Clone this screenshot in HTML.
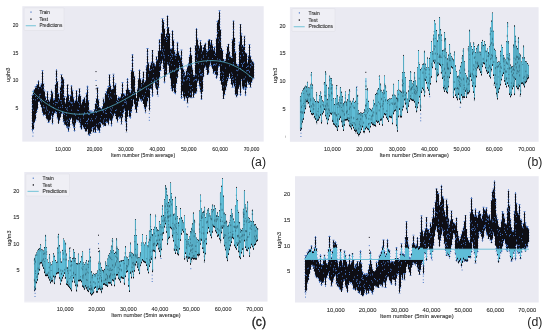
<!DOCTYPE html>
<html><head><meta charset="utf-8"><style>
html,body{margin:0;padding:0;background:#fff;width:550px;height:333px;overflow:hidden}
svg{display:block}
.tk{font-family:"Liberation Sans", sans-serif;font-size:5.1px;fill:#303030;stroke:#303030;stroke-width:0.1px}
.lg{font-family:"Liberation Sans", sans-serif;font-size:4.6px;fill:#303030;stroke:#303030;stroke-width:0.1px}
.pl{font-family:"Liberation Sans", sans-serif;font-size:12.3px;fill:#1e1e1e}
</style></head><body>
<svg width="550" height="333" viewBox="0 0 550 333">
<rect width="550" height="333" fill="#fff"/>
<rect x="22.3" y="6.2" width="241.4" height="135.4" fill="#eaeaf2"/>
<g fill="none"><path d="M32.0 95.1h1M32.0 131.1h1M32.0 130.1h1M32.0 122.3h1M32.0 101.2h1M32.0 108.2h1M32.0 108.3h1M32.0 104.6h1M33.0 91.3h1M33.0 129.1h1M33.0 97.1h1M33.0 102.5h1M33.0 99.5h1M33.0 94.5h1M33.0 124.1h1M33.0 93.4h1M33.0 105.9h1M33.0 110.3h1M34.0 89.7h1M34.0 122.7h1M34.0 94.3h1M34.0 99.1h1M35.0 86.8h1M35.0 119.3h1M35.0 92.3h1M35.0 94.0h1M35.0 114.6h1M35.0 95.0h1M35.0 99.9h1M35.0 96.6h1M35.0 91.5h1M36.0 85.0h1M36.0 112.6h1M36.0 112.2h1M36.0 102.1h1M36.0 111.9h1M36.0 87.3h1M36.0 100.7h1M37.0 84.5h1M37.0 109.3h1M37.0 98.6h1M37.0 101.7h1M37.0 95.8h1M38.0 80.9h1M38.0 101.1h1M38.0 88.7h1M38.0 87.7h1M38.0 87.1h1M39.0 87.3h1M39.0 94.8h1M39.0 96.7h1M39.0 96.8h1M40.0 86.2h1M40.0 104.4h1M40.0 94.3h1M40.0 100.4h1M41.0 84.1h1M41.0 107.7h1M41.0 99.6h1M41.0 87.8h1M41.0 87.3h1M41.0 99.3h1M41.0 101.8h1M42.0 70.9h1M42.0 112.5h1M42.0 100.4h1M42.0 106.4h1M42.0 79.6h1M42.0 97.6h1M42.0 94.7h1M42.0 74.5h1M42.0 111.4h1M43.0 115.7h1M43.0 91.8h1M43.0 105.8h1M43.0 107.7h1M43.0 96.6h1M43.0 89.8h1M43.0 86.9h1M44.0 114.4h1M44.0 107.8h1M44.0 105.1h1M45.0 97.1h1M45.0 115.5h1M45.0 100.9h1M45.0 111.1h1M45.0 100.3h1M45.0 100.8h1M46.0 107.1h1M46.0 113.7h1M46.0 108.9h1M46.0 109.9h1M47.0 92.1h1M47.0 119.1h1M47.0 92.4h1M47.0 105.5h1M47.0 110.7h1M47.0 101.5h1M47.0 109.4h1M47.0 110.3h1M47.0 104.0h1M48.0 100.6h1M48.0 122.4h1M48.0 104.7h1M48.0 114.1h1M48.0 106.8h1M48.0 107.0h1M49.0 101.9h1M49.0 121.3h1M49.0 112.6h1M49.0 104.1h1M49.0 103.8h1M49.0 111.9h1M50.0 98.3h1M50.0 117.4h1M50.0 119.4h1M51.0 90.1h1M51.0 115.3h1M51.0 93.9h1M51.0 115.1h1M51.0 94.8h1M51.0 95.9h1M52.0 92.5h1M52.0 123.8h1M52.0 100.7h1M52.0 113.4h1M52.0 98.4h1M52.0 117.7h1M52.0 104.7h1M52.0 112.1h1M52.0 112.6h1M53.0 100.2h1M53.0 116.2h1M53.0 103.7h1M53.0 104.6h1M53.0 107.7h1M54.0 98.9h1M54.0 112.5h1M54.0 107.1h1M55.0 84.9h1M55.0 112.6h1M55.0 105.8h1M55.0 92.9h1M55.0 88.8h1M55.0 104.8h1M55.0 111.5h1M55.0 101.7h1M55.0 102.3h1M56.0 69.7h1M56.0 113.2h1M56.0 87.2h1M56.0 77.4h1M56.0 92.1h1M56.0 81.6h1M56.0 102.5h1M56.0 82.3h1M57.0 82.1h1M57.0 117.9h1M57.0 86.8h1M57.0 102.8h1M57.0 114.7h1M57.0 105.2h1M57.0 93.6h1M57.0 106.0h1M57.0 100.5h1M58.0 93.7h1M58.0 107.7h1M58.0 115.7h1M58.0 97.5h1M58.0 95.9h1M58.0 100.9h1M58.0 103.8h1M59.0 98.4h1M59.0 120.6h1M59.0 117.5h1M59.0 112.6h1M60.0 87.3h1M60.0 90.5h1M60.0 89.2h1M60.0 107.3h1M60.0 100.6h1M60.0 107.9h1M60.0 115.3h1M61.0 85.1h1M61.0 103.3h1M61.0 80.0h1M61.0 94.1h1M61.0 83.9h1M61.0 100.7h1M61.0 92.7h1M61.0 80.9h1M61.0 103.1h1M61.0 109.2h1M62.0 112.1h1M62.0 86.2h1M62.0 107.2h1M62.0 105.5h1M62.0 92.4h1M62.0 103.5h1M62.0 84.1h1M63.0 79.2h1M63.0 121.9h1M63.0 85.4h1M63.0 96.2h1M63.0 89.2h1M63.0 99.5h1M63.0 113.2h1M63.0 119.8h1M63.0 94.4h1M63.0 97.7h1M64.0 124.7h1M64.0 114.4h1M64.0 121.8h1M64.0 99.3h1M64.0 100.9h1M64.0 101.2h1M65.0 107.5h1M65.0 108.6h1M65.0 122.5h1M65.0 123.2h1M66.0 97.9h1M66.0 127.0h1M66.0 114.2h1M66.0 113.0h1M66.0 121.2h1M66.0 115.7h1M66.0 109.2h1M67.0 85.4h1M67.0 128.1h1M67.0 107.8h1M67.0 118.4h1M67.0 110.2h1M67.0 126.1h1M67.0 120.2h1M67.0 124.8h1M67.0 108.3h1M67.0 97.5h1M67.0 110.2h1M67.0 126.2h1M67.0 123.3h1M67.0 120.3h1M68.0 95.1h1M68.0 131.3h1M68.0 102.4h1M68.0 97.2h1M68.0 121.6h1M68.0 101.4h1M68.0 127.2h1M68.0 130.5h1M68.0 127.4h1M68.0 129.3h1M69.0 100.7h1M69.0 102.0h1M69.0 106.3h1M69.0 118.9h1M69.0 119.2h1M70.0 119.6h1M70.0 103.6h1M70.0 102.2h1M70.0 97.9h1M70.0 109.8h1M71.0 85.6h1M71.0 117.6h1M71.0 95.1h1M71.0 102.4h1M71.0 95.4h1M71.0 103.1h1M71.0 110.2h1M72.0 90.3h1M72.0 94.6h1M72.0 111.7h1M72.0 110.7h1M72.0 105.3h1M72.0 121.1h1M72.0 122.1h1M72.0 102.8h1M73.0 98.7h1M73.0 127.7h1M73.0 110.6h1M73.0 104.4h1M73.0 121.2h1M73.0 124.3h1M73.0 125.9h1M74.0 101.9h1M74.0 130.9h1M74.0 107.7h1M74.0 113.9h1M74.0 127.5h1M74.0 108.1h1M75.0 100.6h1M75.0 123.8h1M75.0 115.4h1M75.0 121.5h1M75.0 106.8h1M75.0 108.8h1M75.0 115.3h1M76.0 90.7h1M76.0 119.8h1M76.0 92.9h1M76.0 107.8h1M77.0 120.9h1M77.0 101.1h1M77.0 102.3h1M77.0 118.2h1M77.0 110.2h1M78.0 96.8h1M78.0 110.0h1M78.0 102.6h1M78.0 117.9h1M78.0 110.5h1M78.0 116.7h1M79.0 116.9h1M79.0 106.7h1M79.0 104.1h1M79.0 93.6h1M79.0 106.7h1M79.0 114.1h1M80.0 96.4h1M80.0 127.3h1M80.0 125.3h1M80.0 103.2h1M80.0 96.7h1M80.0 121.2h1M80.0 113.6h1M80.0 125.3h1M80.0 124.0h1M80.0 119.2h1M81.0 129.0h1M81.0 118.5h1M81.0 125.7h1M82.0 100.8h1M82.0 125.0h1M82.0 124.6h1M82.0 109.5h1M83.0 99.5h1M83.0 126.7h1M83.0 108.3h1M83.0 115.8h1M83.0 114.5h1M83.0 100.8h1M83.0 118.3h1M83.0 115.7h1M84.0 111.0h1M84.0 113.7h1M84.0 106.8h1M84.0 108.0h1M84.0 112.8h1M85.0 101.7h1M85.0 131.3h1M85.0 123.5h1M85.0 120.0h1M85.0 127.4h1M85.0 103.3h1M85.0 124.6h1M85.0 128.9h1M86.0 93.7h1M86.0 121.0h1M86.0 121.5h1M86.0 121.5h1M86.0 129.7h1M86.0 96.0h1M86.0 98.0h1M86.0 94.7h1M87.0 86.8h1M87.0 121.0h1M87.0 88.1h1M87.0 112.8h1M87.0 112.4h1M87.0 123.5h1M87.0 123.7h1M87.0 90.0h1M87.0 120.9h1M88.0 100.5h1M88.0 110.6h1M88.0 133.8h1M88.0 109.1h1M88.0 118.8h1M88.0 119.5h1M88.0 106.2h1M88.0 114.4h1M88.0 101.8h1M89.0 135.1h1M89.0 133.9h1M89.0 114.6h1M89.0 134.8h1M90.0 111.9h1M90.0 122.0h1M90.0 130.4h1M90.0 122.7h1M90.0 126.7h1M90.0 120.7h1M91.0 112.3h1M91.0 129.0h1M91.0 117.1h1M91.0 118.8h1M91.0 112.5h1M92.0 112.2h1M92.0 128.0h1M92.0 120.6h1M92.0 120.8h1M93.0 114.8h1M93.0 112.2h1M93.0 127.7h1M93.0 114.2h1M93.0 114.5h1M94.0 110.2h1M94.0 129.9h1M94.0 117.0h1M94.0 126.8h1M94.0 122.5h1M94.0 128.1h1M95.0 103.9h1M95.0 132.5h1M95.0 111.3h1M95.0 112.9h1M95.0 107.3h1M95.0 118.7h1M96.0 99.2h1M96.0 124.3h1M96.0 116.9h1M96.0 103.7h1M96.0 119.1h1M96.0 112.5h1M96.0 109.3h1M96.0 123.9h1M97.0 88.3h1M97.0 129.9h1M97.0 128.7h1M97.0 111.7h1M97.0 111.8h1M97.0 92.7h1M97.0 112.9h1M97.0 102.7h1M97.0 90.6h1M97.0 105.4h1M97.0 119.5h1M97.0 93.8h1M98.0 100.5h1M98.0 123.9h1M98.0 103.4h1M98.0 114.2h1M98.0 107.3h1M99.0 107.9h1M99.0 132.1h1M99.0 110.6h1M99.0 111.8h1M99.0 109.6h1M99.0 126.9h1M99.0 131.2h1M99.0 122.6h1M100.0 127.3h1M100.0 123.7h1M100.0 122.1h1M100.0 125.0h1M100.0 118.8h1M100.0 122.5h1M101.0 109.3h1M101.0 112.6h1M101.0 115.5h1M101.0 114.3h1M102.0 107.7h1M102.0 114.6h1M102.0 109.0h1M102.0 110.4h1M103.0 125.9h1M103.0 120.2h1M103.0 106.1h1M103.0 122.0h1M103.0 103.0h1M103.0 111.0h1M103.0 112.2h1M104.0 101.8h1M104.0 125.2h1M104.0 118.7h1M104.0 102.9h1M105.0 93.9h1M105.0 110.5h1M105.0 117.9h1M105.0 113.5h1M105.0 108.0h1M105.0 102.4h1M105.0 113.2h1M105.0 112.8h1M105.0 122.6h1M106.0 91.7h1M106.0 122.0h1M106.0 118.7h1M106.0 94.3h1M106.0 109.9h1M106.0 113.5h1M106.0 93.7h1M106.0 93.5h1M106.0 108.8h1M106.0 93.1h1M107.0 88.7h1M107.0 122.4h1M107.0 89.6h1M107.0 99.1h1M107.0 107.3h1M107.0 97.1h1M107.0 100.3h1M107.0 105.6h1M108.0 86.4h1M108.0 99.0h1M108.0 94.7h1M108.0 104.4h1M108.0 110.2h1M108.0 118.3h1M108.0 96.4h1M108.0 89.1h1M108.0 123.0h1M108.0 96.9h1M109.0 119.3h1M109.0 86.5h1M109.0 95.2h1M109.0 113.4h1M109.0 119.2h1M109.0 84.4h1M109.0 99.1h1M110.0 85.0h1M110.0 120.2h1M110.0 119.1h1M110.0 108.9h1M110.0 92.6h1M110.0 92.4h1M110.0 97.2h1M110.0 112.5h1M110.0 92.6h1M110.0 112.3h1M110.0 116.9h1M111.0 89.3h1M111.0 125.8h1M111.0 124.4h1M111.0 113.3h1M111.0 105.1h1M111.0 98.2h1M111.0 110.1h1M111.0 123.1h1M111.0 121.8h1M112.0 119.2h1M112.0 114.9h1M112.0 107.8h1M112.0 103.9h1M112.0 111.3h1M112.0 118.3h1M112.0 118.5h1M113.0 88.1h1M113.0 96.4h1M113.0 103.3h1M113.0 90.2h1M113.0 76.3h1M113.0 76.3h1M113.0 112.4h1M113.0 84.3h1M113.0 90.0h1M113.0 88.2h1M113.0 76.4h1M114.0 86.6h1M114.0 94.0h1M114.0 102.6h1M114.0 97.0h1M114.0 104.9h1M114.0 100.4h1M114.0 103.5h1M115.0 84.1h1M115.0 109.8h1M115.0 114.3h1M115.0 97.9h1M115.0 110.5h1M115.0 110.6h1M115.0 108.2h1M115.0 105.5h1M115.0 114.9h1M116.0 101.6h1M116.0 113.8h1M116.0 114.3h1M116.0 100.6h1M116.0 109.9h1M117.0 99.9h1M117.0 121.7h1M117.0 102.5h1M118.0 97.0h1M118.0 105.6h1M118.0 100.6h1M118.0 114.2h1M118.0 101.1h1M119.0 98.5h1M119.0 118.3h1M119.0 116.9h1M119.0 110.0h1M119.0 115.6h1M120.0 97.8h1M120.0 99.7h1M120.0 111.6h1M120.0 106.8h1M120.0 109.7h1M120.0 111.7h1M121.0 116.4h1M121.0 119.2h1M121.0 120.4h1M121.0 122.1h1M122.0 83.1h1M122.0 85.8h1M122.0 94.7h1M122.0 86.6h1M122.0 105.7h1M122.0 108.9h1M122.0 97.7h1M122.0 87.5h1M122.0 111.7h1M122.0 113.7h1M122.0 98.9h1M123.0 93.6h1M123.0 112.7h1M123.0 98.0h1M123.0 110.1h1M123.0 96.5h1M123.0 105.2h1M123.0 96.5h1M124.0 94.4h1M124.0 108.9h1M124.0 102.2h1M124.0 102.7h1M124.0 98.7h1M124.0 94.8h1M125.0 95.1h1M125.0 121.8h1M125.0 119.0h1M125.0 100.1h1M125.0 111.5h1M125.0 102.2h1M125.0 102.4h1M126.0 128.0h1M126.0 127.8h1M126.0 103.8h1M126.0 122.6h1M126.0 110.1h1M126.0 102.0h1M127.0 78.5h1M127.0 109.6h1M127.0 80.5h1M127.0 94.8h1M127.0 85.1h1M127.0 97.3h1M127.0 89.5h1M127.0 108.1h1M127.0 83.1h1M127.0 102.2h1M128.0 89.1h1M128.0 110.2h1M128.0 108.6h1M128.0 101.9h1M129.0 116.9h1M129.0 107.6h1M129.0 91.7h1M129.0 99.3h1M129.0 103.0h1M130.0 92.3h1M130.0 117.9h1M130.0 96.8h1M130.0 105.5h1M130.0 100.1h1M130.0 110.8h1M130.0 103.7h1M130.0 117.0h1M130.0 112.3h1M131.0 111.8h1M131.0 85.0h1M131.0 93.8h1M131.0 109.6h1M131.0 99.6h1M131.0 91.5h1M131.0 97.7h1M131.0 89.3h1M131.0 89.9h1M132.0 55.0h1M132.0 106.5h1M132.0 62.2h1M132.0 94.3h1M132.0 67.5h1M132.0 54.6h1M132.0 91.8h1M132.0 61.7h1M132.0 98.9h1M132.0 70.0h1M132.0 58.6h1M133.0 71.4h1M133.0 99.6h1M133.0 78.7h1M133.0 74.9h1M133.0 92.3h1M133.0 87.6h1M134.0 90.1h1M134.0 94.3h1M134.0 79.8h1M134.0 86.3h1M135.0 92.2h1M135.0 109.3h1M135.0 94.2h1M135.0 95.0h1M136.0 109.5h1M136.0 101.6h1M137.0 88.8h1M137.0 106.3h1M137.0 97.0h1M137.0 95.7h1M137.0 101.6h1M138.0 97.0h1M138.0 85.5h1M138.0 93.1h1M139.0 70.1h1M139.0 82.0h1M139.0 74.3h1M139.0 76.0h1M139.0 89.1h1M140.0 79.7h1M140.0 99.7h1M140.0 84.4h1M140.0 89.1h1M140.0 82.3h1M141.0 101.4h1M141.0 90.5h1M141.0 99.4h1M141.0 84.8h1M141.0 86.1h1M142.0 79.3h1M142.0 100.1h1M142.0 95.4h1M142.0 89.5h1M142.0 93.5h1M143.0 83.8h1M143.0 90.9h1M143.0 97.7h1M143.0 78.5h1M143.0 98.6h1M143.0 72.6h1M143.0 75.1h1M144.0 108.1h1M144.0 101.8h1M144.0 89.8h1M144.0 99.8h1M144.0 96.2h1M144.0 98.6h1M144.0 103.5h1M145.0 80.7h1M145.0 112.8h1M145.0 85.3h1M145.0 109.6h1M145.0 92.6h1M145.0 108.4h1M146.0 65.7h1M146.0 89.6h1M146.0 102.9h1M146.0 88.2h1M146.0 67.9h1M146.0 77.0h1M146.0 71.2h1M146.0 101.5h1M146.0 82.5h1M147.0 49.3h1M147.0 101.8h1M147.0 52.9h1M147.0 50.8h1M147.0 58.6h1M147.0 64.8h1M147.0 57.9h1M147.0 55.2h1M147.0 97.8h1M147.0 97.5h1M147.0 99.6h1M147.0 64.2h1M148.0 97.4h1M148.0 78.8h1M148.0 72.3h1M148.0 77.7h1M148.0 76.1h1M148.0 88.7h1M148.0 74.6h1M148.0 64.7h1M149.0 69.6h1M149.0 89.7h1M149.0 91.9h1M149.0 82.3h1M149.0 103.6h1M149.0 82.2h1M149.0 94.5h1M150.0 65.1h1M150.0 70.3h1M150.0 72.1h1M150.0 66.3h1M151.0 62.4h1M151.0 88.9h1M151.0 86.2h1M151.0 76.0h1M151.0 69.6h1M151.0 81.4h1M152.0 96.5h1M152.0 94.0h1M152.0 72.1h1M152.0 53.2h1M152.0 95.7h1M152.0 91.1h1M152.0 63.8h1M152.0 78.8h1M152.0 65.9h1M153.0 63.0h1M153.0 73.4h1M153.0 68.9h1M153.0 78.2h1M154.0 82.1h1M154.0 80.0h1M154.0 66.3h1M154.0 65.0h1M155.0 66.1h1M155.0 87.4h1M155.0 85.1h1M155.0 69.2h1M155.0 80.0h1M155.0 75.4h1M155.0 67.4h1M155.0 76.9h1M156.0 89.0h1M156.0 60.3h1M156.0 78.4h1M156.0 60.9h1M156.0 78.1h1M156.0 81.9h1M156.0 71.2h1M157.0 59.8h1M157.0 94.3h1M157.0 85.8h1M157.0 88.6h1M157.0 90.7h1M157.0 82.7h1M158.0 56.6h1M158.0 87.0h1M158.0 71.0h1M158.0 76.4h1M158.0 51.3h1M159.0 39.5h1M159.0 77.3h1M159.0 65.8h1M159.0 43.4h1M159.0 73.1h1M159.0 52.1h1M159.0 71.5h1M159.0 46.3h1M159.0 43.4h1M159.0 44.0h1M159.0 60.7h1M159.0 71.5h1M159.0 63.6h1M160.0 50.5h1M160.0 70.1h1M160.0 61.9h1M160.0 65.0h1M160.0 67.4h1M161.0 33.5h1M161.0 55.0h1M161.0 62.9h1M161.0 47.8h1M161.0 45.6h1M161.0 55.3h1M162.0 60.1h1M162.0 39.4h1M162.0 33.1h1M162.0 23.0h1M162.0 51.1h1M162.0 55.0h1M162.0 23.9h1M162.0 42.0h1M162.0 46.7h1M162.0 49.6h1M162.0 51.4h1M163.0 21.0h1M163.0 46.8h1M163.0 29.2h1M163.0 52.9h1M163.0 67.9h1M163.0 48.3h1M163.0 64.4h1M163.0 57.0h1M163.0 55.2h1M163.0 65.0h1M164.0 29.5h1M164.0 82.7h1M164.0 69.0h1M164.0 62.0h1M164.0 55.9h1M164.0 46.9h1M164.0 50.0h1M164.0 57.8h1M164.0 54.6h1M164.0 72.0h1M164.0 38.4h1M164.0 71.5h1M164.0 54.3h1M164.0 63.2h1M165.0 37.0h1M165.0 76.3h1M165.0 52.8h1M165.0 37.7h1M165.0 48.7h1M165.0 71.4h1M165.0 49.5h1M166.0 66.1h1M166.0 50.4h1M166.0 39.3h1M166.0 46.1h1M166.0 41.5h1M166.0 37.5h1M166.0 66.8h1M166.0 55.6h1M166.0 38.7h1M167.0 15.8h1M167.0 50.2h1M167.0 62.8h1M167.0 24.4h1M167.0 60.1h1M167.0 38.7h1M167.0 29.6h1M167.0 27.1h1M167.0 23.4h1M167.0 34.1h1M167.0 28.1h1M167.0 35.2h1M167.0 24.1h1M167.0 27.8h1M168.0 65.2h1M168.0 35.9h1M168.0 35.7h1M168.0 35.5h1M168.0 47.4h1M168.0 40.6h1M168.0 63.7h1M168.0 55.5h1M169.0 57.8h1M169.0 71.5h1M169.0 72.3h1M169.0 49.8h1M169.0 63.1h1M170.0 49.1h1M170.0 78.8h1M170.0 70.9h1M170.0 51.2h1M170.0 52.0h1M170.0 60.0h1M170.0 56.6h1M171.0 49.0h1M171.0 88.7h1M171.0 81.9h1M171.0 65.8h1M171.0 64.8h1M171.0 54.0h1M171.0 87.0h1M171.0 58.4h1M171.0 66.9h1M172.0 30.6h1M172.0 54.6h1M172.0 77.1h1M172.0 46.5h1M172.0 45.9h1M172.0 79.3h1M172.0 47.7h1M172.0 87.7h1M172.0 78.8h1M172.0 56.1h1M172.0 70.4h1M172.0 60.5h1M173.0 40.7h1M173.0 89.1h1M173.0 64.6h1M173.0 84.6h1M173.0 45.6h1M173.0 41.7h1M173.0 40.9h1M173.0 78.0h1M173.0 62.4h1M174.0 92.8h1M174.0 91.5h1M174.0 65.6h1M174.0 54.8h1M174.0 70.7h1M174.0 71.6h1M174.0 89.0h1M175.0 54.9h1M175.0 93.7h1M175.0 67.3h1M175.0 88.9h1M175.0 58.2h1M175.0 75.4h1M176.0 68.3h1M176.0 77.3h1M176.0 67.4h1M176.0 81.0h1M176.0 71.8h1M176.0 69.2h1M176.0 55.6h1M177.0 42.3h1M177.0 77.6h1M177.0 59.8h1M177.0 61.9h1M177.0 73.1h1M177.0 51.5h1M177.0 46.9h1M178.0 51.9h1M178.0 61.5h1M178.0 61.2h1M178.0 67.8h1M179.0 55.5h1M179.0 66.4h1M179.0 60.6h1M179.0 63.5h1M179.0 61.1h1M180.0 57.4h1M180.0 64.9h1M181.0 51.1h1M181.0 98.5h1M181.0 77.2h1M181.0 56.2h1M181.0 82.9h1M181.0 83.2h1M181.0 80.2h1M181.0 95.5h1M181.0 76.4h1M181.0 60.7h1M181.0 73.5h1M182.0 63.8h1M182.0 90.8h1M182.0 67.8h1M182.0 74.6h1M182.0 84.1h1M182.0 79.2h1M182.0 81.0h1M183.0 69.2h1M183.0 80.9h1M183.0 76.9h1M183.0 79.3h1M183.0 72.8h1M183.0 82.0h1M183.0 80.6h1M184.0 71.9h1M184.0 100.1h1M184.0 80.8h1M184.0 74.9h1M184.0 86.0h1M184.0 76.3h1M184.0 92.1h1M184.0 93.3h1M184.0 91.9h1M185.0 75.7h1M185.0 82.4h1M185.0 92.6h1M186.0 79.9h1M186.0 76.8h1M186.0 79.3h1M186.0 81.4h1M186.0 92.0h1M187.0 67.6h1M187.0 74.7h1M187.0 72.9h1M187.0 96.5h1M187.0 89.6h1M187.0 79.0h1M187.0 96.6h1M187.0 77.7h1M188.0 63.3h1M188.0 72.5h1M188.0 92.0h1M188.0 73.4h1M188.0 79.4h1M188.0 77.5h1M188.0 71.7h1M188.0 65.0h1M189.0 55.6h1M189.0 85.4h1M189.0 60.4h1M189.0 65.9h1M189.0 83.9h1M189.0 68.9h1M189.0 74.6h1M189.0 65.1h1M189.0 80.2h1M189.0 78.6h1M190.0 47.9h1M190.0 97.5h1M190.0 65.7h1M190.0 86.3h1M190.0 85.9h1M190.0 93.4h1M190.0 61.5h1M190.0 89.9h1M190.0 52.6h1M190.0 73.0h1M190.0 94.4h1M191.0 55.8h1M191.0 73.0h1M191.0 85.5h1M191.0 86.9h1M191.0 94.9h1M191.0 73.1h1M191.0 93.7h1M191.0 64.1h1M191.0 66.9h1M192.0 68.4h1M192.0 91.1h1M192.0 91.3h1M192.0 87.5h1M192.0 84.7h1M192.0 85.1h1M192.0 88.4h1M192.0 70.7h1M193.0 82.5h1M193.0 76.3h1M193.0 81.1h1M193.0 95.1h1M194.0 76.2h1M194.0 94.2h1M194.0 81.4h1M194.0 80.2h1M195.0 64.4h1M195.0 55.5h1M195.0 90.9h1M195.0 74.1h1M195.0 52.0h1M195.0 81.2h1M195.0 79.6h1M195.0 78.0h1M195.0 51.4h1M196.0 28.7h1M196.0 92.7h1M196.0 60.6h1M196.0 37.8h1M196.0 81.0h1M196.0 47.1h1M196.0 74.9h1M196.0 60.4h1M196.0 87.6h1M196.0 47.1h1M196.0 90.5h1M196.0 79.3h1M196.0 30.0h1M196.0 80.2h1M196.0 60.7h1M196.0 42.6h1M196.0 88.2h1M197.0 39.9h1M197.0 82.1h1M197.0 70.9h1M197.0 56.8h1M197.0 71.6h1M197.0 40.3h1M197.0 41.2h1M197.0 55.0h1M198.0 80.0h1M198.0 76.1h1M198.0 63.6h1M198.0 62.9h1M198.0 54.9h1M198.0 50.0h1M198.0 65.6h1M199.0 47.8h1M199.0 87.0h1M199.0 72.4h1M199.0 85.9h1M199.0 69.3h1M199.0 71.3h1M199.0 72.3h1M199.0 85.1h1M200.0 40.9h1M200.0 75.0h1M200.0 82.4h1M200.0 70.9h1M200.0 79.4h1M200.0 91.0h1M200.0 87.2h1M200.0 64.7h1M200.0 74.6h1M200.0 90.9h1M201.0 99.5h1M201.0 59.1h1M201.0 61.8h1M201.0 94.5h1M201.0 64.0h1M201.0 96.9h1M201.0 60.4h1M201.0 53.1h1M201.0 75.1h1M201.0 71.9h1M201.0 74.4h1M201.0 68.6h1M201.0 73.6h1M202.0 51.7h1M202.0 75.2h1M202.0 73.5h1M202.0 80.8h1M202.0 83.2h1M202.0 77.5h1M202.0 58.7h1M202.0 89.7h1M202.0 74.9h1M202.0 51.9h1M203.0 47.7h1M203.0 76.9h1M203.0 50.6h1M203.0 55.4h1M203.0 57.3h1M203.0 48.9h1M203.0 55.9h1M203.0 49.6h1M203.0 64.0h1M204.0 64.3h1M204.0 59.9h1M204.0 49.0h1M204.0 47.0h1M204.0 63.5h1M204.0 48.7h1M205.0 43.3h1M205.0 66.1h1M205.0 66.0h1M205.0 44.7h1M205.0 52.0h1M205.0 47.1h1M206.0 50.6h1M206.0 68.2h1M206.0 52.4h1M206.0 68.5h1M206.0 67.2h1M206.0 55.1h1M206.0 61.7h1M207.0 51.6h1M207.0 71.2h1M207.0 51.3h1M207.0 73.0h1M207.0 60.3h1M208.0 40.3h1M208.0 73.6h1M208.0 42.6h1M208.0 43.9h1M208.0 66.2h1M208.0 48.1h1M208.0 57.9h1M208.0 69.1h1M208.0 50.2h1M209.0 39.6h1M209.0 65.3h1M209.0 46.4h1M209.0 49.4h1M209.0 48.4h1M210.0 44.1h1M210.0 63.1h1M210.0 61.0h1M210.0 48.7h1M210.0 62.1h1M210.0 61.1h1M211.0 66.1h1M211.0 45.0h1M211.0 48.9h1M211.0 49.6h1M211.0 43.7h1M211.0 51.0h1M212.0 67.1h1M212.0 48.6h1M212.0 58.5h1M212.0 56.0h1M213.0 50.1h1M213.0 73.0h1M213.0 64.8h1M213.0 65.3h1M213.0 63.3h1M214.0 47.1h1M214.0 71.7h1M214.0 50.1h1M214.0 52.4h1M214.0 64.4h1M214.0 49.4h1M214.0 64.4h1M214.0 54.5h1M215.0 53.0h1M215.0 71.6h1M215.0 72.5h1M215.0 56.6h1M215.0 65.1h1M215.0 55.5h1M216.0 38.5h1M216.0 78.4h1M216.0 60.6h1M216.0 75.3h1M216.0 75.4h1M216.0 71.5h1M216.0 55.1h1M216.0 38.7h1M216.0 63.9h1M216.0 58.8h1M217.0 21.5h1M217.0 75.9h1M217.0 33.4h1M217.0 54.3h1M217.0 56.9h1M217.0 71.4h1M217.0 23.2h1M217.0 32.8h1M217.0 59.2h1M217.0 58.9h1M217.0 68.2h1M218.0 20.3h1M218.0 67.0h1M218.0 50.9h1M218.0 49.1h1M218.0 37.9h1M218.0 50.6h1M218.0 35.6h1M218.0 30.5h1M218.0 60.0h1M218.0 60.8h1M218.0 28.5h1M218.0 66.3h1M218.0 42.2h1M219.0 11.7h1M219.0 48.5h1M219.0 64.7h1M219.0 29.9h1M219.0 50.3h1M219.0 40.0h1M219.0 44.7h1M219.0 59.8h1M219.0 61.9h1M219.0 17.9h1M219.0 25.0h1M219.0 46.6h1M220.0 80.2h1M220.0 49.4h1M220.0 72.4h1M220.0 41.3h1M220.0 37.0h1M220.0 32.7h1M220.0 61.4h1M220.0 75.4h1M220.0 52.3h1M220.0 32.6h1M220.0 60.3h1M221.0 65.1h1M221.0 75.3h1M221.0 68.5h1M221.0 81.5h1M221.0 67.0h1M222.0 50.6h1M222.0 71.9h1M222.0 52.4h1M222.0 81.7h1M222.0 88.1h1M222.0 72.2h1M222.0 81.4h1M222.0 79.3h1M222.0 70.6h1M222.0 83.0h1M223.0 77.9h1M223.0 98.1h1M223.0 61.3h1M223.0 80.8h1M223.0 75.6h1M223.0 68.9h1M223.0 72.8h1M223.0 86.9h1M223.0 80.1h1M224.0 61.4h1M224.0 66.4h1M224.0 71.9h1M224.0 81.8h1M224.0 90.5h1M224.0 81.2h1M224.0 66.7h1M224.0 94.6h1M224.0 65.4h1M225.0 59.5h1M225.0 90.2h1M225.0 75.8h1M225.0 83.0h1M225.0 86.0h1M225.0 68.1h1M226.0 54.4h1M226.0 56.1h1M226.0 75.3h1M226.0 79.3h1M226.0 82.7h1M226.0 85.9h1M226.0 79.1h1M226.0 56.4h1M227.0 82.1h1M227.0 54.5h1M227.0 58.3h1M227.0 77.5h1M227.0 70.6h1M228.0 78.6h1M228.0 59.2h1M228.0 74.9h1M228.0 53.8h1M228.0 66.8h1M228.0 59.3h1M228.0 71.8h1M228.0 66.8h1M228.0 52.2h1M229.0 66.4h1M229.0 55.1h1M229.0 56.2h1M229.0 65.8h1M230.0 57.4h1M230.0 73.1h1M231.0 76.1h1M231.0 69.4h1M231.0 73.0h1M231.0 77.3h1M232.0 39.6h1M232.0 86.4h1M232.0 86.1h1M232.0 41.2h1M232.0 76.6h1M232.0 86.1h1M232.0 80.6h1M232.0 79.6h1M232.0 57.8h1M232.0 80.6h1M232.0 57.6h1M232.0 54.4h1M232.0 74.3h1M232.0 57.2h1M232.0 81.9h1M233.0 21.0h1M233.0 83.6h1M233.0 61.0h1M233.0 64.4h1M233.0 45.2h1M233.0 38.3h1M233.0 30.0h1M233.0 79.1h1M233.0 33.6h1M233.0 29.7h1M233.0 72.8h1M233.0 69.0h1M233.0 62.7h1M234.0 86.7h1M234.0 52.5h1M234.0 48.6h1M234.0 55.0h1M234.0 48.4h1M234.0 46.3h1M234.0 61.9h1M234.0 39.3h1M234.0 52.9h1M234.0 42.5h1M234.0 85.6h1M235.0 52.4h1M235.0 94.7h1M235.0 85.7h1M235.0 58.2h1M235.0 81.2h1M235.0 83.7h1M235.0 78.1h1M235.0 64.0h1M235.0 60.2h1M235.0 83.3h1M236.0 96.3h1M236.0 83.3h1M236.0 70.3h1M236.0 67.6h1M236.0 84.1h1M236.0 94.4h1M236.0 92.9h1M237.0 95.6h1M237.0 76.8h1M237.0 70.7h1M237.0 75.0h1M237.0 89.1h1M237.0 67.3h1M237.0 80.3h1M238.0 65.5h1M238.0 66.0h1M238.0 69.8h1M239.0 44.2h1M239.0 68.4h1M239.0 64.1h1M239.0 51.4h1M239.0 46.4h1M239.0 72.9h1M239.0 70.7h1M239.0 81.3h1M239.0 85.4h1M239.0 76.1h1M239.0 78.2h1M240.0 95.4h1M240.0 84.4h1M240.0 55.5h1M240.0 27.8h1M240.0 67.7h1M240.0 58.7h1M240.0 93.6h1M240.0 31.6h1M240.0 63.3h1M240.0 41.8h1M240.0 50.2h1M240.0 56.2h1M240.0 68.6h1M240.0 72.8h1M241.0 35.4h1M241.0 80.5h1M241.0 45.9h1M241.0 35.3h1M241.0 56.8h1M241.0 63.8h1M241.0 51.3h1M241.0 63.5h1M242.0 87.6h1M242.0 84.4h1M242.0 49.2h1M242.0 52.7h1M242.0 48.7h1M242.0 65.6h1M242.0 70.7h1M242.0 65.0h1M242.0 66.5h1M243.0 89.5h1M243.0 55.4h1M243.0 48.7h1M243.0 85.2h1M243.0 56.4h1M243.0 59.0h1M243.0 75.0h1M243.0 79.2h1M243.0 79.7h1M243.0 63.4h1M243.0 63.3h1M243.0 55.1h1M243.0 56.6h1M244.0 87.2h1M244.0 81.8h1M244.0 50.3h1M244.0 62.3h1M244.0 63.5h1M244.0 53.7h1M244.0 44.3h1M244.0 46.5h1M244.0 54.8h1M244.0 38.6h1M244.0 60.9h1M244.0 74.0h1M244.0 79.0h1M244.0 50.5h1M245.0 95.6h1M245.0 57.5h1M245.0 90.6h1M245.0 77.0h1M245.0 64.4h1M245.0 83.8h1M245.0 87.7h1M245.0 69.4h1M245.0 88.8h1M245.0 58.6h1M245.0 94.1h1M246.0 88.0h1M246.0 64.2h1M246.0 62.8h1M246.0 67.5h1M246.0 81.9h1M246.0 73.6h1M246.0 67.6h1M246.0 70.9h1M246.0 55.7h1M247.0 63.0h1M247.0 79.9h1M247.0 66.4h1M247.0 76.7h1M247.0 70.6h1M247.0 71.9h1M247.0 81.3h1M248.0 55.7h1M248.0 84.2h1M248.0 70.3h1M248.0 66.0h1M248.0 80.1h1M248.0 58.8h1M248.0 60.3h1M248.0 57.0h1M248.0 60.1h1M248.0 77.6h1M249.0 44.5h1M249.0 75.2h1M249.0 71.7h1M249.0 76.3h1M249.0 72.6h1M249.0 72.2h1M249.0 82.6h1M250.0 56.2h1M250.0 65.7h1M250.0 63.7h1M250.0 67.0h1M250.0 63.6h1M250.0 66.8h1M250.0 85.9h1M250.0 76.4h1M250.0 80.5h1M251.0 82.4h1M251.0 62.8h1M251.0 61.7h1M251.0 63.0h1M251.0 69.0h1M251.0 64.2h1M251.0 64.9h1M252.0 65.2h1M252.0 65.3h1M252.0 79.5h1M253.0 62.7h1M253.0 65.6h1" stroke="#4a78c8" stroke-width="1"/>
<path d="M32.5 95.3V131.3M33.5 90.8V129.9M34.5 89.5V123.0M35.5 86.4V120.2M36.5 85.9V113.8M37.5 84.6V109.6M38.5 81.5V102.4M39.5 87.2V102.1M40.5 85.4V105.1M41.5 83.6V107.8M42.5 70.3V112.4M43.5 83.5V115.4M44.5 90.6V115.5M45.5 96.6V115.3M46.5 100.4V119.5M47.5 91.5V120.2M48.5 99.5V123.1M49.5 102.0V121.4M50.5 97.8V120.3M51.5 91.3V116.4M52.5 92.6V123.9M53.5 98.6V115.8M54.5 98.9V113.6M55.5 85.0V112.9M56.5 70.8V112.8M57.5 81.0V118.9M58.5 93.8V124.6M59.5 99.6V120.6M60.5 87.4V118.2M61.5 74.2V114.3M62.5 77.7V113.1M63.5 79.5V122.1M64.5 96.1V124.6M65.5 103.4V125.7M66.5 96.5V127.1M67.5 85.3V128.1M68.5 94.9V131.4M69.5 101.7V127.5M70.5 95.1V120.2M71.5 85.8V118.5M72.5 90.2V124.5M73.5 97.1V127.4M74.5 102.0V131.4M75.5 101.3V123.8M76.5 90.5V120.8M77.5 101.5V120.8M78.5 95.3V121.2M79.5 88.4V123.1M80.5 95.7V127.6M81.5 103.2V129.9M82.5 100.2V125.8M83.5 99.0V127.7M84.5 97.4V129.7M85.5 101.5V132.0M86.5 93.3V132.2M87.5 86.5V129.9M88.5 100.2V135.3M89.5 110.2V136.0M90.5 110.8V134.3M91.5 110.5V132.3M92.5 112.0V127.8M93.5 112.0V132.9M94.5 108.9V130.5M95.5 104.0V132.9M96.5 98.3V127.4M97.5 87.6V129.9M98.5 99.3V130.6M99.5 107.2V132.9M100.5 108.0V127.9M101.5 108.0V123.8M102.5 106.3V125.4M103.5 97.7V125.5M104.5 102.9V126.4M105.5 93.7V126.9M106.5 91.1V122.5M107.5 88.7V123.4M108.5 86.1V125.4M109.5 74.4V120.3M110.5 86.1V121.0M111.5 89.3V126.1M112.5 89.2V119.4M113.5 73.7V116.6M114.5 85.1V114.0M115.5 83.6V116.9M116.5 95.2V119.8M117.5 99.5V122.3M118.5 97.9V117.7M119.5 97.1V118.1M120.5 97.9V118.4M121.5 93.3V124.6M122.5 82.2V118.4M123.5 93.7V113.1M124.5 93.8V110.2M125.5 96.3V121.8M126.5 90.1V132.2M127.5 79.3V117.6M128.5 90.1V110.9M129.5 89.9V117.8M130.5 92.4V117.8M131.5 70.1V112.2M132.5 54.5V107.5M133.5 71.0V100.6M134.5 75.8V104.8M135.5 91.9V109.8M136.5 98.0V113.3M137.5 89.5V107.1M138.5 78.2V102.0M139.5 70.1V98.4M140.5 78.3V100.6M141.5 83.0V101.3M142.5 80.2V101.3M143.5 71.7V104.8M144.5 82.5V108.1M145.5 81.5V112.5M146.5 66.4V107.3M147.5 48.1V101.8M148.5 62.6V98.3M149.5 68.9V111.3M150.5 65.4V89.3M151.5 62.6V89.8M152.5 50.0V96.8M153.5 62.6V84.1M154.5 63.9V82.0M155.5 65.2V87.4M156.5 56.4V90.0M157.5 60.6V95.3M158.5 50.7V88.2M159.5 39.8V77.8M160.5 50.5V70.9M161.5 33.7V64.3M162.5 18.2V61.0M163.5 20.3V69.8M164.5 28.4V82.4M165.5 36.8V76.6M166.5 34.0V75.4M167.5 15.9V65.1M168.5 27.4V66.2M169.5 33.4V73.6M170.5 48.8V79.1M171.5 48.9V88.7M172.5 31.3V92.2M173.5 39.5V88.8M174.5 50.1V92.7M175.5 54.7V93.8M176.5 52.5V83.9M177.5 42.6V78.3M178.5 51.6V71.8M179.5 55.7V66.1M180.5 57.4V69.6M181.5 49.6V98.2M182.5 63.8V92.1M183.5 68.9V97.4M184.5 71.8V100.5M185.5 75.6V97.4M186.5 69.8V98.7M187.5 66.2V103.5M188.5 63.9V98.5M189.5 56.9V98.0M190.5 48.2V98.1M191.5 55.4V98.2M192.5 69.7V92.1M193.5 74.9V98.2M194.5 75.9V94.1M195.5 45.4V94.1M196.5 29.0V92.3M197.5 38.4V82.4M198.5 45.7V81.1M199.5 48.7V86.9M200.5 40.3V93.1M201.5 45.3V99.7M202.5 50.4V92.6M203.5 47.5V77.5M204.5 45.2V68.5M205.5 43.6V66.9M206.5 49.5V70.5M207.5 51.4V75.6M208.5 40.8V73.6M209.5 39.4V67.2M210.5 43.5V63.1M211.5 39.9V66.0M212.5 44.3V69.6M213.5 50.0V74.1M214.5 47.1V72.0M215.5 51.7V74.9M216.5 37.7V78.6M217.5 21.1V76.2M218.5 20.3V67.1M219.5 10.2V66.7M220.5 29.6V81.2M221.5 46.4V85.5M222.5 50.1V91.4M223.5 59.1V99.7M224.5 60.5V95.7M225.5 60.8V90.8M226.5 53.5V87.2M227.5 46.2V82.0M228.5 44.1V78.4M229.5 51.9V74.5M230.5 55.7V79.1M231.5 57.9V85.2M232.5 39.3V87.7M233.5 20.8V84.0M234.5 38.0V86.9M235.5 51.4V95.2M236.5 63.7V97.5M237.5 65.7V95.7M238.5 64.1V89.5M239.5 42.3V87.1M240.5 24.2V95.3M241.5 33.4V80.1M242.5 45.2V87.5M243.5 46.1V89.3M244.5 35.7V87.4M245.5 52.7V95.3M246.5 53.5V88.1M247.5 62.9V82.8M248.5 55.8V84.2M249.5 44.3V85.3M250.5 56.3V87.7M251.5 59.4V82.9M252.5 61.6V81.1M253.5 63.6V78.6" stroke="#4a78c8" stroke-width="2.0" stroke-dasharray="0.8 2.0"/>
<path d="M32.5 95.5V130.5M33.5 92.1V129.1M34.5 89.8V122.2M35.5 87.7V119.4M36.5 86.2V113.0M37.5 85.1V108.8M38.5 81.1V101.6M39.5 86.9V101.3M40.5 86.7V104.3M41.5 84.0V107.0M42.5 71.3V111.6M43.5 84.0V114.6M44.5 91.5V114.7M45.5 97.1V114.5M46.5 100.2V118.7M47.5 91.7V119.4M48.5 100.3V122.3M49.5 101.8V120.6M50.5 99.2V119.5M51.5 90.9V115.6M52.5 93.3V123.1M53.5 99.9V115.0M54.5 99.9V112.8M55.5 84.8V112.1M56.5 70.5V112.0M57.5 81.9V118.1M58.5 94.1V123.8M59.5 99.3V119.8M60.5 87.2V117.4M61.5 75.1V113.5M62.5 77.2V112.3M63.5 79.6V121.3M64.5 97.5V123.8M65.5 103.4V124.9M66.5 97.7V126.3M67.5 84.9V127.3M68.5 94.8V130.6M69.5 101.3V126.7M70.5 96.1V119.4M71.5 86.4V117.7M72.5 91.3V123.7M73.5 98.2V126.6M74.5 102.9V130.6M75.5 101.0V123.0M76.5 90.9V120.0M77.5 101.0V120.0M78.5 96.4V120.4M79.5 88.7V122.3M80.5 96.1V126.8M81.5 104.4V129.1M82.5 101.7V125.0M83.5 99.7V126.9M84.5 97.7V128.9M85.5 102.8V131.2M86.5 94.5V131.4M87.5 86.4V129.1M88.5 100.6V134.5M89.5 111.6V135.2M90.5 112.3V133.5M91.5 111.8V131.5M92.5 112.5V127.0M93.5 111.8V132.1M94.5 110.2V129.7M95.5 103.9V132.1M96.5 99.0V126.6M97.5 87.9V129.1M98.5 100.5V129.8M99.5 107.5V132.1M100.5 108.3V127.1M101.5 109.2V123.0M102.5 107.3V124.6M103.5 99.2V124.7M104.5 102.7V125.6M105.5 93.5V126.1M106.5 92.0V121.7M107.5 89.2V122.6M108.5 87.4V124.6M109.5 74.8V119.5M110.5 85.7V120.2M111.5 89.7V125.3M112.5 89.2V118.6M113.5 74.8V115.8M114.5 86.2V113.2M115.5 84.9V116.1M116.5 94.9V119.0M117.5 100.2V121.5M118.5 97.8V116.9M119.5 98.5V117.3M120.5 97.7V117.6M121.5 94.1V123.8M122.5 83.1V117.6M123.5 93.6V112.3M124.5 94.5V109.4M125.5 96.1V121.0M126.5 89.7V131.4M127.5 79.3V116.8M128.5 89.7V110.1M129.5 90.2V117.0M130.5 93.2V117.0M131.5 71.4V111.4M132.5 54.5V106.7M133.5 71.4V99.8M134.5 76.6V104.0M135.5 92.0V109.0M136.5 98.1V112.5M137.5 89.7V106.3M138.5 79.4V101.2M139.5 70.3V97.6M140.5 79.4V99.8M141.5 82.8V100.5M142.5 80.4V100.5M143.5 71.8V104.0M144.5 82.5V107.3M145.5 81.3V111.7M146.5 66.7V106.5M147.5 49.2V101.0M148.5 63.4V97.5M149.5 70.4V110.5M150.5 65.5V88.5M151.5 62.7V89.0M152.5 50.0V96.0M153.5 63.1V83.3M154.5 63.6V81.2M155.5 66.3V86.6M156.5 56.8V89.2M157.5 60.2V94.5M158.5 51.2V87.4M159.5 40.2V77.0M160.5 50.3V70.1M161.5 33.8V63.5M162.5 19.1V60.2M163.5 21.8V69.0M164.5 29.1V81.6M165.5 36.8V75.8M166.5 33.6V74.6M167.5 16.0V64.3M168.5 27.4V65.4M169.5 33.8V72.8M170.5 49.2V78.3M171.5 48.9V87.9M172.5 31.1V91.4M173.5 40.8V88.0M174.5 51.5V91.9M175.5 55.7V93.0M176.5 53.8V83.1M177.5 43.2V77.5M178.5 52.6V71.0M179.5 56.0V65.3M180.5 58.2V68.8M181.5 50.8V97.4M182.5 64.7V91.3M183.5 70.0V96.6M184.5 72.5V99.7M185.5 75.8V96.6M186.5 70.9V97.9M187.5 67.5V102.7M188.5 63.8V97.7M189.5 56.8V97.2M190.5 47.7V97.3M191.5 55.4V97.4M192.5 69.6V91.3M193.5 74.8V97.4M194.5 75.7V93.3M195.5 45.6V93.3M196.5 28.8V91.5M197.5 39.8V81.6M198.5 45.4V80.3M199.5 48.3V86.1M200.5 41.7V92.3M201.5 45.6V98.9M202.5 51.4V91.8M203.5 47.6V76.7M204.5 44.8V67.7M205.5 43.2V66.1M206.5 50.9V69.7M207.5 51.0V74.8M208.5 41.1V72.8M209.5 39.4V66.4M210.5 44.3V62.3M211.5 40.2V65.2M212.5 45.5V68.8M213.5 49.9V73.3M214.5 47.7V71.2M215.5 53.2V74.1M216.5 38.3V77.8M217.5 22.5V75.4M218.5 19.9V66.3M219.5 11.5V65.9M220.5 29.9V80.4M221.5 47.9V84.7M222.5 51.0V90.6M223.5 59.2V98.9M224.5 61.6V94.9M225.5 60.7V90.0M226.5 54.0V86.4M227.5 47.1V81.2M228.5 43.9V77.6M229.5 51.5V73.7M230.5 56.9V78.3M231.5 57.8V84.4M232.5 40.3V86.9M233.5 21.3V83.2M234.5 37.9V86.1M235.5 52.6V94.4M236.5 64.0V96.7M237.5 65.7V94.9M238.5 65.4V88.7M239.5 43.8V86.3M240.5 24.3V94.5M241.5 34.9V79.3M242.5 45.0V86.7M243.5 47.1V88.5M244.5 36.4V86.6M245.5 52.7V94.5M246.5 53.8V87.3M247.5 63.1V82.0M248.5 56.6V83.4M249.5 44.7V84.5M250.5 56.6V86.9M251.5 60.2V82.1M252.5 61.7V80.3M253.5 63.3V77.8" stroke="#0e0e14" stroke-width="1.0"/>
<path d="M32.0 130.1h1M32.0 122.3h1M32.0 108.2h1M32.0 104.6h1M33.0 91.3h1M33.0 99.5h1M33.0 94.5h1M33.0 124.1h1M33.0 110.3h1M35.0 119.3h1M35.0 114.6h1M35.0 99.9h1M35.0 96.6h1M36.0 111.9h1M36.0 87.3h1M37.0 84.5h1M37.0 109.3h1M37.0 98.6h1M38.0 80.9h1M38.0 88.7h1M39.0 94.8h1M39.0 96.7h1M40.0 86.2h1M40.0 94.3h1M40.0 100.4h1M41.0 84.1h1M41.0 87.8h1M41.0 99.3h1M41.0 101.8h1M42.0 70.9h1M43.0 105.8h1M43.0 107.7h1M43.0 89.8h1M43.0 86.9h1M44.0 107.8h1M45.0 97.1h1M45.0 111.1h1M45.0 100.3h1M46.0 107.1h1M46.0 108.9h1M47.0 92.1h1M47.0 101.5h1M47.0 110.3h1M48.0 122.4h1M48.0 114.1h1M49.0 112.6h1M49.0 104.1h1M49.0 111.9h1M51.0 93.9h1M51.0 115.1h1M52.0 92.5h1M52.0 123.8h1M52.0 117.7h1M52.0 112.1h1M52.0 112.6h1M53.0 100.2h1M53.0 103.7h1M53.0 107.7h1M54.0 98.9h1M55.0 104.8h1M55.0 111.5h1M55.0 102.3h1M56.0 113.2h1M56.0 87.2h1M56.0 77.4h1M56.0 102.5h1M56.0 82.3h1M57.0 117.9h1M57.0 102.8h1M57.0 93.6h1M58.0 107.7h1M58.0 97.5h1M58.0 100.9h1M59.0 120.6h1M59.0 112.6h1M60.0 87.3h1M60.0 90.5h1M60.0 107.3h1M60.0 100.6h1M61.0 80.0h1M61.0 83.9h1M61.0 100.7h1M61.0 92.7h1M61.0 80.9h1M61.0 103.1h1M62.0 112.1h1M62.0 107.2h1M62.0 105.5h1M62.0 84.1h1M63.0 89.2h1M63.0 113.2h1M63.0 119.8h1M63.0 94.4h1M63.0 97.7h1M64.0 114.4h1M64.0 121.8h1M64.0 100.9h1M65.0 107.5h1M66.0 113.0h1M66.0 121.2h1M66.0 115.7h1M66.0 109.2h1M67.0 107.8h1M67.0 110.2h1M67.0 126.1h1M67.0 120.2h1M67.0 123.3h1M68.0 95.1h1M68.0 131.3h1M68.0 121.6h1M68.0 101.4h1M68.0 127.2h1M68.0 127.4h1M69.0 100.7h1M69.0 106.3h1M69.0 118.9h1M69.0 119.2h1M70.0 102.2h1M71.0 95.1h1M71.0 102.4h1M71.0 103.1h1M71.0 110.2h1M72.0 105.3h1M72.0 102.8h1M73.0 98.7h1M73.0 121.2h1M73.0 125.9h1M74.0 101.9h1M74.0 130.9h1M74.0 113.9h1M74.0 127.5h1M75.0 123.8h1M75.0 115.3h1M76.0 119.8h1M77.0 101.1h1M77.0 110.2h1M78.0 102.6h1M78.0 117.9h1M78.0 110.5h1M79.0 106.7h1M79.0 104.1h1M79.0 93.6h1M79.0 106.7h1M79.0 114.1h1M80.0 125.3h1M80.0 121.2h1M80.0 125.3h1M80.0 124.0h1M80.0 119.2h1M82.0 100.8h1M83.0 114.5h1M83.0 118.3h1M83.0 115.7h1M84.0 113.7h1M84.0 106.8h1M84.0 112.8h1M85.0 123.5h1M85.0 127.4h1M86.0 93.7h1M86.0 121.5h1M86.0 98.0h1M87.0 86.8h1M87.0 121.0h1M87.0 88.1h1M87.0 112.8h1M87.0 123.7h1M87.0 120.9h1M88.0 100.5h1M88.0 110.6h1M88.0 118.8h1M88.0 119.5h1M88.0 106.2h1M88.0 114.4h1M88.0 101.8h1M89.0 133.9h1M89.0 114.6h1M89.0 134.8h1M90.0 111.9h1M90.0 120.7h1M91.0 112.3h1M91.0 129.0h1M91.0 118.8h1M91.0 112.5h1M92.0 112.2h1M92.0 128.0h1M92.0 120.6h1M92.0 120.8h1M93.0 127.7h1M93.0 114.2h1M93.0 114.5h1M94.0 126.8h1M95.0 111.3h1M95.0 118.7h1M96.0 124.3h1M96.0 116.9h1M96.0 103.7h1M96.0 112.5h1M96.0 109.3h1M97.0 129.9h1M97.0 128.7h1M97.0 105.4h1M97.0 93.8h1M98.0 123.9h1M98.0 107.3h1M99.0 132.1h1M99.0 131.2h1M99.0 122.6h1M100.0 123.7h1M100.0 118.8h1M100.0 122.5h1M101.0 115.5h1M102.0 110.4h1M103.0 125.9h1M103.0 120.2h1M103.0 122.0h1M103.0 103.0h1M103.0 111.0h1M103.0 112.2h1M104.0 118.7h1M105.0 110.5h1M105.0 113.2h1M105.0 122.6h1M106.0 91.7h1M106.0 122.0h1M106.0 118.7h1M106.0 94.3h1M106.0 113.5h1M106.0 93.5h1M106.0 108.8h1M106.0 93.1h1M107.0 88.7h1M107.0 122.4h1M107.0 107.3h1M108.0 86.4h1M108.0 94.7h1M108.0 96.4h1M108.0 96.9h1M109.0 119.3h1M109.0 86.5h1M109.0 119.2h1M109.0 99.1h1M110.0 85.0h1M110.0 108.9h1M110.0 92.6h1M110.0 97.2h1M110.0 112.5h1M110.0 112.3h1M111.0 89.3h1M111.0 125.8h1M111.0 124.4h1M111.0 113.3h1M111.0 98.2h1M111.0 110.1h1M112.0 119.2h1M112.0 114.9h1M112.0 107.8h1M113.0 88.1h1M113.0 76.3h1M113.0 88.2h1M113.0 76.4h1M114.0 94.0h1M115.0 114.3h1M115.0 110.5h1M115.0 110.6h1M116.0 101.6h1M116.0 109.9h1M117.0 121.7h1M117.0 102.5h1M118.0 97.0h1M118.0 100.6h1M119.0 118.3h1M119.0 116.9h1M120.0 111.6h1M121.0 116.4h1M121.0 122.1h1M122.0 83.1h1M122.0 105.7h1M122.0 97.7h1M122.0 87.5h1M122.0 113.7h1M123.0 93.6h1M123.0 112.7h1M123.0 110.1h1M123.0 105.2h1M123.0 96.5h1M124.0 94.4h1M124.0 108.9h1M124.0 102.2h1M124.0 94.8h1M125.0 121.8h1M125.0 119.0h1M125.0 100.1h1M125.0 111.5h1M125.0 102.4h1M126.0 128.0h1M126.0 103.8h1M126.0 122.6h1M126.0 102.0h1M127.0 78.5h1M127.0 80.5h1M127.0 94.8h1M127.0 83.1h1M128.0 89.1h1M129.0 116.9h1M129.0 91.7h1M130.0 92.3h1M130.0 117.9h1M130.0 117.0h1M130.0 112.3h1M131.0 111.8h1M131.0 109.6h1M131.0 99.6h1M131.0 89.3h1M131.0 89.9h1M132.0 55.0h1M132.0 106.5h1M132.0 62.2h1M132.0 94.3h1M132.0 67.5h1M132.0 54.6h1M132.0 61.7h1M132.0 58.6h1M133.0 71.4h1M133.0 99.6h1M133.0 78.7h1M133.0 92.3h1M134.0 94.3h1M134.0 86.3h1M136.0 101.6h1M137.0 106.3h1M139.0 70.1h1M139.0 89.1h1M140.0 99.7h1M140.0 89.1h1M141.0 99.4h1M141.0 84.8h1M141.0 86.1h1M142.0 79.3h1M142.0 95.4h1M143.0 83.8h1M143.0 97.7h1M143.0 78.5h1M143.0 98.6h1M144.0 108.1h1M144.0 96.2h1M145.0 109.6h1M145.0 92.6h1M146.0 65.7h1M146.0 89.6h1M146.0 88.2h1M146.0 67.9h1M146.0 71.2h1M147.0 52.9h1M147.0 55.2h1M147.0 97.5h1M147.0 64.2h1M148.0 76.1h1M148.0 88.7h1M148.0 74.6h1M149.0 69.6h1M149.0 89.7h1M150.0 70.3h1M151.0 62.4h1M151.0 88.9h1M151.0 86.2h1M151.0 69.6h1M151.0 81.4h1M152.0 96.5h1M152.0 94.0h1M152.0 53.2h1M152.0 95.7h1M152.0 63.8h1M152.0 78.8h1M152.0 65.9h1M153.0 73.4h1M153.0 68.9h1M153.0 78.2h1M154.0 82.1h1M154.0 80.0h1M154.0 65.0h1M155.0 85.1h1M156.0 60.3h1M156.0 60.9h1M156.0 78.1h1M156.0 81.9h1M157.0 85.8h1M157.0 90.7h1M157.0 82.7h1M158.0 87.0h1M159.0 77.3h1M159.0 65.8h1M159.0 43.4h1M159.0 71.5h1M159.0 44.0h1M159.0 71.5h1M159.0 63.6h1M160.0 50.5h1M160.0 61.9h1M160.0 65.0h1M161.0 55.0h1M161.0 55.3h1M162.0 60.1h1M162.0 33.1h1M162.0 51.1h1M162.0 23.9h1M162.0 49.6h1M163.0 46.8h1M163.0 52.9h1M163.0 67.9h1M163.0 55.2h1M163.0 65.0h1M164.0 82.7h1M164.0 69.0h1M164.0 62.0h1M164.0 55.9h1M164.0 50.0h1M164.0 57.8h1M164.0 38.4h1M165.0 71.4h1M166.0 39.3h1M166.0 41.5h1M166.0 37.5h1M167.0 62.8h1M167.0 38.7h1M167.0 27.1h1M167.0 28.1h1M167.0 35.2h1M168.0 65.2h1M168.0 35.5h1M168.0 55.5h1M169.0 63.1h1M170.0 78.8h1M170.0 70.9h1M170.0 52.0h1M170.0 60.0h1M170.0 56.6h1M171.0 49.0h1M171.0 88.7h1M171.0 64.8h1M171.0 54.0h1M171.0 87.0h1M171.0 58.4h1M172.0 54.6h1M172.0 46.5h1M172.0 47.7h1M172.0 56.1h1M172.0 70.4h1M172.0 60.5h1M173.0 84.6h1M174.0 92.8h1M174.0 65.6h1M174.0 54.8h1M174.0 71.6h1M175.0 54.9h1M175.0 93.7h1M175.0 88.9h1M175.0 58.2h1M176.0 68.3h1M176.0 77.3h1M176.0 55.6h1M177.0 73.1h1M177.0 46.9h1M178.0 61.5h1M178.0 61.2h1M179.0 55.5h1M179.0 66.4h1M179.0 63.5h1M181.0 98.5h1M181.0 56.2h1M181.0 80.2h1M181.0 95.5h1M181.0 60.7h1M182.0 67.8h1M182.0 74.6h1M182.0 84.1h1M183.0 80.9h1M183.0 76.9h1M183.0 79.3h1M183.0 72.8h1M183.0 80.6h1M184.0 100.1h1M184.0 80.8h1M184.0 74.9h1M184.0 76.3h1M184.0 93.3h1M186.0 79.9h1M187.0 74.7h1M187.0 72.9h1M187.0 96.5h1M187.0 79.0h1M187.0 96.6h1M187.0 77.7h1M188.0 92.0h1M188.0 73.4h1M188.0 77.5h1M188.0 65.0h1M189.0 55.6h1M189.0 85.4h1M189.0 83.9h1M189.0 74.6h1M189.0 65.1h1M189.0 80.2h1M189.0 78.6h1M190.0 65.7h1M190.0 85.9h1M190.0 93.4h1M190.0 89.9h1M190.0 52.6h1M190.0 94.4h1M191.0 73.0h1M191.0 85.5h1M191.0 64.1h1M192.0 68.4h1M192.0 88.4h1M193.0 76.3h1M193.0 81.1h1M194.0 76.2h1M194.0 94.2h1M194.0 80.2h1M195.0 64.4h1M195.0 55.5h1M195.0 74.1h1M195.0 52.0h1M195.0 79.6h1M195.0 51.4h1M196.0 28.7h1M196.0 47.1h1M196.0 74.9h1M196.0 60.4h1M196.0 87.6h1M196.0 79.3h1M196.0 80.2h1M197.0 56.8h1M197.0 55.0h1M198.0 80.0h1M198.0 76.1h1M198.0 63.6h1M198.0 50.0h1M199.0 69.3h1M199.0 71.3h1M199.0 72.3h1M199.0 85.1h1M200.0 40.9h1M200.0 75.0h1M200.0 82.4h1M200.0 70.9h1M200.0 91.0h1M200.0 87.2h1M200.0 74.6h1M200.0 90.9h1M201.0 59.1h1M201.0 94.5h1M201.0 64.0h1M201.0 53.1h1M201.0 75.1h1M201.0 74.4h1M202.0 75.2h1M202.0 73.5h1M202.0 80.8h1M202.0 89.7h1M203.0 57.3h1M203.0 55.9h1M203.0 49.6h1M203.0 64.0h1M205.0 43.3h1M205.0 66.1h1M205.0 47.1h1M206.0 68.2h1M206.0 52.4h1M206.0 55.1h1M206.0 61.7h1M207.0 51.6h1M207.0 60.3h1M208.0 40.3h1M208.0 73.6h1M208.0 57.9h1M208.0 69.1h1M208.0 50.2h1M209.0 39.6h1M209.0 65.3h1M209.0 46.4h1M209.0 49.4h1M209.0 48.4h1M210.0 44.1h1M210.0 61.1h1M211.0 66.1h1M211.0 48.9h1M212.0 58.5h1M213.0 50.1h1M213.0 73.0h1M213.0 64.8h1M213.0 65.3h1M214.0 47.1h1M214.0 71.7h1M214.0 50.1h1M214.0 64.4h1M214.0 64.4h1M214.0 54.5h1M215.0 53.0h1M215.0 71.6h1M215.0 65.1h1M215.0 55.5h1M216.0 38.5h1M216.0 78.4h1M216.0 75.3h1M216.0 63.9h1M217.0 33.4h1M217.0 71.4h1M217.0 32.8h1M217.0 58.9h1M218.0 67.0h1M218.0 37.9h1M218.0 30.5h1M218.0 66.3h1M218.0 42.2h1M219.0 11.7h1M219.0 64.7h1M219.0 40.0h1M219.0 59.8h1M219.0 25.0h1M220.0 49.4h1M220.0 72.4h1M220.0 41.3h1M220.0 37.0h1M220.0 60.3h1M221.0 65.1h1M221.0 75.3h1M222.0 71.9h1M222.0 81.4h1M222.0 79.3h1M223.0 77.9h1M223.0 61.3h1M223.0 80.8h1M223.0 75.6h1M223.0 72.8h1M223.0 86.9h1M224.0 94.6h1M225.0 59.5h1M225.0 86.0h1M225.0 68.1h1M226.0 79.3h1M227.0 77.5h1M228.0 59.3h1M228.0 52.2h1M229.0 55.1h1M229.0 56.2h1M229.0 65.8h1M231.0 73.0h1M231.0 77.3h1M232.0 39.6h1M232.0 86.1h1M232.0 76.6h1M232.0 79.6h1M232.0 57.6h1M232.0 74.3h1M232.0 57.2h1M232.0 81.9h1M233.0 83.6h1M233.0 64.4h1M233.0 30.0h1M233.0 79.1h1M233.0 62.7h1M234.0 86.7h1M234.0 48.6h1M234.0 48.4h1M234.0 46.3h1M234.0 52.9h1M234.0 42.5h1M235.0 52.4h1M235.0 85.7h1M235.0 81.2h1M235.0 83.7h1M235.0 78.1h1M235.0 83.3h1M236.0 70.3h1M236.0 94.4h1M237.0 70.7h1M237.0 75.0h1M238.0 65.5h1M238.0 66.0h1M238.0 69.8h1M239.0 44.2h1M239.0 51.4h1M239.0 85.4h1M240.0 95.4h1M240.0 55.5h1M240.0 58.7h1M240.0 93.6h1M240.0 56.2h1M240.0 68.6h1M241.0 35.4h1M241.0 80.5h1M241.0 45.9h1M241.0 63.5h1M242.0 87.6h1M242.0 52.7h1M242.0 48.7h1M242.0 65.6h1M242.0 65.0h1M242.0 66.5h1M243.0 89.5h1M243.0 55.4h1M243.0 79.2h1M243.0 63.4h1M243.0 63.3h1M243.0 55.1h1M244.0 87.2h1M244.0 62.3h1M244.0 46.5h1M244.0 38.6h1M244.0 79.0h1M244.0 50.5h1M245.0 90.6h1M245.0 77.0h1M245.0 83.8h1M245.0 87.7h1M245.0 88.8h1M245.0 94.1h1M246.0 67.5h1M246.0 70.9h1M247.0 63.0h1M247.0 66.4h1M247.0 70.6h1M247.0 81.3h1M248.0 70.3h1M248.0 66.0h1M248.0 58.8h1M249.0 44.5h1M249.0 71.7h1M249.0 76.3h1M249.0 72.2h1M249.0 82.6h1M250.0 67.0h1M250.0 63.6h1M250.0 66.8h1M251.0 82.4h1M251.0 63.0h1M251.0 64.9h1M252.0 65.3h1M252.0 79.5h1M253.0 62.7h1" stroke="#4a78c8" stroke-width="0.9"/>
<polyline points="32.0,91.1 33.1,92.2 34.2,93.3 35.3,94.4 36.4,95.5 37.6,96.5 38.7,97.5 39.8,98.5 40.9,99.4 42.0,100.3 43.1,101.2 44.2,102.0 45.3,102.8 46.4,103.6 47.6,104.3 48.7,105.1 49.8,105.7 50.9,106.4 52.0,107.0 53.1,107.6 54.2,108.2 55.3,108.8 56.4,109.3 57.6,109.8 58.7,110.2 59.8,110.7 60.9,111.1 62.0,111.5 63.1,111.8 64.2,112.2 65.3,112.5 66.4,112.7 67.6,113.0 68.7,113.2 69.8,113.4 70.9,113.6 72.0,113.8 73.1,113.9 74.2,114.0 75.3,114.1 76.4,114.1 77.6,114.2 78.7,114.2 79.8,114.2 80.9,114.2 82.0,114.1 83.1,114.0 84.2,114.0 85.3,113.8 86.4,113.7 87.6,113.6 88.7,113.4 89.8,113.2 90.9,113.0 92.0,112.8 93.1,112.5 94.2,112.3 95.3,112.0 96.4,111.7 97.6,111.4 98.7,111.0 99.8,110.7 100.9,110.3 102.0,110.0 103.1,109.6 104.2,109.2 105.3,108.7 106.4,108.3 107.5,107.8 108.7,107.4 109.8,106.9 110.9,106.4 112.0,105.9 113.1,105.4 114.2,104.9 115.3,104.4 116.4,103.8 117.5,103.3 118.7,102.7 119.8,102.1 120.9,101.5 122.0,100.9 123.1,100.3 124.2,99.7 125.3,99.1 126.4,98.5 127.5,97.9 128.7,97.2 129.8,96.6 130.9,96.0 132.0,95.3 133.1,94.6 134.2,94.0 135.3,93.3 136.4,92.7 137.5,92.0 138.7,91.3 139.8,90.6 140.9,90.0 142.0,89.3 143.1,88.6 144.2,87.9 145.3,87.2 146.4,86.6 147.5,85.9 148.7,85.2 149.8,84.5 150.9,83.8 152.0,83.2 153.1,82.5 154.2,81.8 155.3,81.2 156.4,80.5 157.5,79.8 158.7,79.2 159.8,78.5 160.9,77.9 162.0,77.3 163.1,76.6 164.2,76.0 165.3,75.4 166.4,74.8 167.5,74.2 168.7,73.6 169.8,73.0 170.9,72.4 172.0,71.8 173.1,71.3 174.2,70.7 175.3,70.2 176.4,69.7 177.5,69.1 178.7,68.6 179.8,68.1 180.9,67.7 182.0,67.2 183.1,66.7 184.2,66.3 185.3,65.9 186.4,65.4 187.5,65.0 188.7,64.7 189.8,64.3 190.9,63.9 192.0,63.6 193.1,63.3 194.2,63.0 195.3,62.7 196.4,62.4 197.5,62.1 198.7,61.9 199.8,61.7 200.9,61.5 202.0,61.3 203.1,61.1 204.2,61.0 205.3,60.9 206.4,60.8 207.5,60.7 208.7,60.6 209.8,60.6 210.9,60.6 212.0,60.6 213.1,60.6 214.2,60.7 215.3,60.7 216.4,60.8 217.5,60.9 218.7,61.1 219.8,61.3 220.9,61.5 222.0,61.7 223.1,61.9 224.2,62.2 225.3,62.5 226.4,62.8 227.5,63.1 228.7,63.5 229.8,63.9 230.9,64.3 232.0,64.8 233.1,65.3 234.2,65.8 235.3,66.3 236.4,66.9 237.5,67.4 238.7,68.1 239.8,68.7 240.9,69.4 242.0,70.1 243.1,70.8 244.2,71.6 245.3,72.4 246.4,73.2 247.5,74.1 248.6,75.0 249.8,75.9 250.9,76.8 252.0,77.8 253.1,78.8" fill="none" stroke="#55acc4" stroke-width="0.85"/>
<rect x="32.4" y="135.6" width="1" height="1" fill="#4a78c8"/>
<rect x="32.4" y="128.9" width="1" height="1" fill="#4a78c8"/>
<rect x="32.6" y="132.3" width="1" height="1" fill="#4a78c8"/>
<rect x="95.5" y="71.1" width="1" height="1" fill="#0e0e14"/>
<rect x="95.5" y="80.0" width="1" height="1" fill="#4a78c8"/>
<rect x="95.7" y="85.0" width="1" height="1" fill="#0e0e14"/>
<rect x="95.7" y="88.3" width="1" height="1" fill="#0e0e14"/>
<rect x="86.9" y="85.6" width="1" height="1" fill="#4a78c8"/>
<rect x="86.9" y="88.9" width="1" height="1" fill="#4a78c8"/>
<rect x="67.4" y="84.4" width="1" height="1" fill="#0e0e14"/>
<rect x="148.8" y="113.0" width="1" height="1" fill="#4a78c8"/>
<rect x="148.8" y="116.9" width="1" height="1" fill="#4a78c8"/>
<rect x="148.8" y="119.8" width="1" height="1" fill="#4a78c8"/>
<rect x="157.6" y="95.6" width="1" height="1" fill="#4a78c8"/>
<rect x="187.2" y="106.3" width="1" height="1" fill="#4a78c8"/></g>
<g class="tk" style="font-size:5.1px">
<text x="18.45" y="110.13" text-anchor="end">5</text>
<text x="18.45" y="82.33" text-anchor="end">10</text>
<text x="18.45" y="54.53" text-anchor="end">15</text>
<text x="18.45" y="26.73" text-anchor="end">20</text>
<text x="63.02" y="150.53" text-anchor="middle">10,000</text>
<text x="94.44" y="150.53" text-anchor="middle">20,000</text>
<text x="125.86" y="150.53" text-anchor="middle">30,000</text>
<text x="157.28" y="150.53" text-anchor="middle">40,000</text>
<text x="188.70" y="150.53" text-anchor="middle">50,000</text>
<text x="220.12" y="150.53" text-anchor="middle">60,000</text>
<text x="251.54" y="150.53" text-anchor="middle">70,000</text>
<text x="143.00" y="157.33" text-anchor="middle">Item number (5min average)</text>
<text transform="translate(10.23,74.70) rotate(-90)" text-anchor="middle">ug/m3</text>
</g>
<text x="266.00" y="165.50" text-anchor="end" class="pl">(a)</text>
<rect x="24.1" y="7.8" width="39.9" height="22.7" fill="#efeff5" stroke="#dcdce4" stroke-width="0.5" rx="0.8"/>
<rect x="30.4" y="11.5" width="1.2" height="1.2" fill="#4a78c8"/>
<rect x="30.3" y="18.5" width="1.3" height="1.3" fill="#0e0e14"/>
<path d="M25.7 25.7H35.9" stroke="#86cadc" stroke-width="1.2"/>
<text x="39.5" y="13.8" class="lg" style="font-size:4.6px">Train</text>
<text x="39.5" y="20.8" class="lg" style="font-size:4.6px">Test</text>
<text x="39.5" y="27.4" class="lg" style="font-size:4.6px">Predictions</text>
<rect x="289.9" y="7.2" width="248.7" height="134.6" fill="#eaeaf2"/>
<g fill="none"><path d="M300.5 96.1V131.0M301.5 92.7V129.5M302.5 90.4V122.7M303.5 88.3V119.8M304.5 86.8V113.5M305.5 85.7V109.3M306.5 86.2V102.1M307.5 81.8V101.9M308.5 87.4V103.6M309.5 87.6V107.6M310.5 84.6V112.1M311.5 72.0V114.6M312.5 84.6V115.2M313.5 97.7V114.6M314.5 99.5V117.6M315.5 101.2V119.8M316.5 92.3V122.8M317.5 101.2V121.1M318.5 101.6V120.7M319.5 95.0V118.3M320.5 91.5V115.7M321.5 96.0V123.6M322.5 100.5V114.5M323.5 101.6V112.8M324.5 82.1V110.0M325.5 71.3V116.4M326.5 85.0V119.3M327.5 99.2V124.3M328.5 87.8V120.3M329.5 75.7V116.7M330.5 77.9V114.1M331.5 78.0V114.8M332.5 84.6V121.8M333.5 98.1V124.7M334.5 104.0V125.3M335.5 98.3V126.8M336.5 85.5V127.7M337.5 95.4V131.0M338.5 101.9V127.1M339.5 96.7V119.9M340.5 87.0V118.1M341.5 91.9V122.2M342.5 96.1V127.0M343.5 103.5V131.0M344.5 101.6V125.8M345.5 91.5V120.7M346.5 101.6V120.5M347.5 99.4V120.3M348.5 94.5V121.6M349.5 89.3V126.4M350.5 100.8V127.4M351.5 102.7V129.5M352.5 100.8V126.2M353.5 98.3V128.5M354.5 102.2V131.0M355.5 101.2V131.9M356.5 87.0V131.3M357.5 94.9V134.1M358.5 110.1V135.6M359.5 113.5V134.9M360.5 112.4V133.2M361.5 112.7V130.1M362.5 113.0V127.4M363.5 112.4V132.5M364.5 109.3V132.5M365.5 104.5V129.5M366.5 98.8V128.2M367.5 88.5V129.5M368.5 101.1V130.2M369.5 108.0V132.5M370.5 108.8V127.5M371.5 109.7V123.6M372.5 107.8V125.1M373.5 99.8V125.2M374.5 103.2V126.0M375.5 94.1V126.5M376.5 92.9V121.9M377.5 89.8V123.1M378.5 88.0V122.4M379.5 75.5V125.0M380.5 83.6V120.7M381.5 90.4V120.4M382.5 92.3V125.8M383.5 89.8V117.8M384.5 75.5V114.7M385.5 85.5V115.4M386.5 90.9V118.2M387.5 99.9V119.8M388.5 99.0V122.0M389.5 98.4V117.4M390.5 98.6V117.8M391.5 98.3V118.2M392.5 94.7V124.3M393.5 83.8V114.3M394.5 94.7V111.6M395.5 95.5V110.9M396.5 97.5V126.2M397.5 90.4V131.8M398.5 80.0V117.3M399.5 90.4V109.9M400.5 90.9V117.5M401.5 91.9V117.5M402.5 72.1V110.6M403.5 55.3V107.3M404.5 72.1V100.4M405.5 77.3V104.6M406.5 92.6V109.5M407.5 98.7V113.0M408.5 90.4V106.9M409.5 80.0V101.8M410.5 71.0V99.5M411.5 80.0V100.4M412.5 83.5V101.0M413.5 81.0V101.1M414.5 72.5V102.6M415.5 80.5V107.8M416.5 85.6V112.3M417.5 67.4V108.2M418.5 50.0V103.6M419.5 64.1V97.5M420.5 69.2V111.0M421.5 67.8V93.0M422.5 64.3V89.1M423.5 63.5V90.6M424.5 50.8V96.6M425.5 63.8V80.9M426.5 67.4V83.6M427.5 57.5V88.8M428.5 67.4V90.9M429.5 58.1V95.1M430.5 52.1V84.6M431.5 41.1V77.7M432.5 51.4V68.2M433.5 34.7V61.8M434.5 20.0V63.6M435.5 23.6V69.8M436.5 30.1V82.3M437.5 40.4V76.4M438.5 34.5V75.3M439.5 17.0V65.0M440.5 29.2V66.1M441.5 34.7V73.5M442.5 50.0V79.0M443.5 49.8V88.6M444.5 32.0V92.0M445.5 38.0V89.6M446.5 52.3V92.5M447.5 58.7V93.6M448.5 54.6V87.4M449.5 44.0V78.2M450.5 52.9V74.0M451.5 56.2V67.7M452.5 57.8V68.6M453.5 59.4V98.0M454.5 51.6V90.0M455.5 65.4V96.0M456.5 71.3V98.2M457.5 76.1V100.3M458.5 75.7V95.0M459.5 69.8V99.8M460.5 65.8V103.2M461.5 62.5V95.8M462.5 55.5V97.9M463.5 48.5V97.8M464.5 61.2V98.0M465.5 73.0V91.8M466.5 75.5V98.0M467.5 77.5V93.9M468.5 46.4V93.7M469.5 29.8V92.2M470.5 42.6V77.1M471.5 46.2V80.9M472.5 49.1V86.8M473.5 42.5V92.9M474.5 46.4V99.5M475.5 52.2V87.2M476.5 48.5V77.4M477.5 45.6V68.4M478.5 44.0V66.9M479.5 51.7V70.4M480.5 51.8V73.0M481.5 42.0V75.5M482.5 40.3V67.1M483.5 45.1V63.8M484.5 41.1V64.4M485.5 44.0V68.5M486.5 50.8V71.5M487.5 48.5V74.0M488.5 52.2V73.0M489.5 46.1V76.8M490.5 27.6V78.5M491.5 20.8V70.4M492.5 12.5V65.9M493.5 30.8V76.0M494.5 48.7V84.0M495.5 50.4V88.2M496.5 57.1V94.3M497.5 62.2V99.5M498.5 61.4V92.9M499.5 61.6V89.2M500.5 51.2V85.5M501.5 44.8V80.4M502.5 47.2V76.2M503.5 55.0V74.0M504.5 57.7V81.7M505.5 59.5V85.0M506.5 41.2V87.5M507.5 22.2V83.9M508.5 41.2V86.7M509.5 53.4V95.0M510.5 64.7V97.3M511.5 66.5V95.5M512.5 66.2V89.3M513.5 44.6V86.9M514.5 25.3V95.1M515.5 35.8V80.0M516.5 45.8V87.4M517.5 48.0V89.2M518.5 37.3V89.0M519.5 53.5V86.8M520.5 54.6V95.1M521.5 61.5V84.1M522.5 57.4V83.9M523.5 45.5V85.1M524.5 57.4V87.5M525.5 61.0V83.3M526.5 61.5V82.1M527.5 63.3V79.3M528.5 64.8V78.5" stroke="#0e0e14" stroke-width="1"/>
<path d="M300.4 96.7V129.4M301.6 93.3V127.9M302.5 91.0V121.1M303.4 88.9V118.2M304.4 87.4V111.9M305.6 86.3V107.7M306.6 86.8V100.5M307.4 82.4V100.3M308.6 88.0V102.0M309.6 88.2V106.0M310.4 85.2V110.5M311.5 72.6V113.0M312.6 85.2V113.6M313.4 98.3V113.0M314.5 100.1V116.0M315.6 101.8V118.2M316.6 92.9V121.2M317.5 101.8V119.5M318.4 102.2V119.1M319.5 95.6V116.7M320.6 92.1V114.1M321.4 96.6V122.0M322.5 101.1V112.9M323.6 102.2V111.2M324.5 82.7V108.4M325.6 71.9V114.8M326.4 85.6V117.7M327.4 99.8V122.7M328.6 88.4V118.7M329.6 76.3V115.1M330.5 78.5V112.5M331.4 78.6V113.2M332.5 85.2V120.2M333.6 98.7V123.1M334.5 104.6V123.7M335.4 98.9V125.2M336.5 86.1V126.1M337.4 96.0V129.4M338.5 102.5V125.5M339.6 97.3V118.3M340.4 87.6V116.5M341.6 92.5V120.6M342.4 96.7V125.4M343.6 104.1V129.4M344.4 102.2V124.2M345.5 92.1V119.1M346.6 102.2V118.9M347.4 100.0V118.7M348.5 95.1V120.0M349.4 89.9V124.8M350.6 101.4V125.8M351.4 103.3V127.9M352.5 101.4V124.6M353.5 98.9V126.9M354.5 102.8V129.4M355.6 101.8V130.3M356.4 87.6V129.7M357.6 95.5V132.5M358.6 110.7V134.0M359.6 114.1V133.3M360.4 113.0V131.6M361.4 113.3V128.5M362.4 113.6V125.8M363.5 113.0V130.9M364.5 109.9V130.9M365.6 105.1V127.9M366.6 99.4V126.6M367.5 89.1V127.9M368.5 101.7V128.6M369.5 108.6V130.9M370.5 109.4V125.9M371.5 110.3V122.0M372.4 108.4V123.5M373.5 100.4V123.6M374.5 103.8V124.4M375.4 94.7V124.9M376.6 93.5V120.3M377.4 90.4V121.5M378.5 88.6V120.8M379.5 76.1V123.4M380.6 84.2V119.1M381.5 91.0V118.8M382.4 92.9V124.2M383.4 90.4V116.2M384.5 76.1V113.1M385.5 86.1V113.8M386.5 91.5V116.6M387.6 100.5V118.2M388.5 99.6V120.4M389.6 99.0V115.8M390.5 99.2V116.2M391.5 98.9V116.6M392.5 95.3V122.7M393.6 84.4V112.7M394.6 95.3V110.0M395.4 96.1V109.3M396.4 98.1V124.6M397.4 91.0V130.2M398.5 80.6V115.7M399.5 91.0V108.3M400.6 91.5V115.9M401.6 92.5V115.9M402.6 72.7V109.0M403.6 55.9V105.7M404.5 72.7V98.8M405.4 77.9V103.0M406.5 93.2V107.9M407.4 99.3V111.4M408.4 91.0V105.3M409.6 80.6V100.2M410.6 71.6V97.9M411.4 80.6V98.8M412.5 84.1V99.4M413.4 81.6V99.5M414.4 73.1V101.0M415.6 81.1V106.2M416.6 86.2V110.7M417.6 68.0V106.6M418.5 50.6V102.0M419.5 64.7V95.9M420.4 69.8V109.4M421.5 68.4V91.4M422.5 64.9V87.5M423.4 64.1V89.0M424.4 51.4V95.0M425.4 64.4V79.3M426.5 68.0V82.0M427.5 58.1V87.2M428.5 68.0V89.3M429.4 58.7V93.5M430.5 52.7V83.0M431.5 41.7V76.1M432.6 52.0V66.6M433.6 35.3V60.2M434.5 20.6V62.0M435.5 24.2V68.2M436.4 30.7V80.7M437.6 41.0V74.8M438.5 35.1V73.7M439.6 17.6V63.4M440.6 29.8V64.5M441.5 35.3V71.9M442.4 50.6V77.4M443.5 50.4V87.0M444.6 32.6V90.4M445.6 38.6V88.0M446.4 52.9V90.9M447.6 59.3V92.0M448.6 55.2V85.8M449.6 44.6V76.6M450.6 53.5V72.4M451.4 56.8V66.1M452.5 58.4V67.0M453.4 60.0V96.4M454.5 52.2V88.4M455.5 66.0V94.4M456.4 71.9V96.6M457.6 76.7V98.7M458.4 76.3V93.4M459.6 70.4V98.2M460.5 66.4V101.6M461.4 63.1V94.2M462.4 56.1V96.3M463.4 49.1V96.2M464.4 61.8V96.4M465.5 73.6V90.2M466.4 76.1V96.4M467.6 78.1V92.3M468.6 47.0V92.1M469.6 30.4V90.6M470.4 43.2V75.5M471.5 46.8V79.3M472.4 49.7V85.2M473.5 43.1V91.3M474.5 47.0V97.9M475.4 52.8V85.6M476.6 49.1V75.8M477.4 46.2V66.8M478.6 44.6V65.3M479.6 52.3V68.8M480.6 52.4V71.4M481.6 42.6V73.9M482.5 40.9V65.5M483.5 45.7V62.2M484.4 41.7V62.8M485.5 44.6V66.9M486.4 51.4V69.9M487.5 49.1V72.4M488.6 52.8V71.4M489.5 46.7V75.2M490.4 28.2V76.9M491.5 21.4V68.8M492.4 13.1V64.3M493.5 31.4V74.4M494.5 49.3V82.4M495.6 51.0V86.6M496.6 57.7V92.7M497.4 62.8V97.9M498.5 62.0V91.3M499.6 62.2V87.6M500.6 51.8V83.9M501.5 45.4V78.8M502.5 47.8V74.6M503.4 55.6V72.4M504.6 58.3V80.1M505.6 60.1V83.4M506.5 41.8V85.9M507.5 22.8V82.3M508.4 41.8V85.1M509.6 54.0V93.4M510.5 65.3V95.7M511.4 67.1V93.9M512.6 66.8V87.7M513.6 45.2V85.3M514.6 25.9V93.5M515.4 36.4V78.4M516.4 46.4V85.8M517.6 48.6V87.6M518.4 37.9V87.4M519.4 54.1V85.2M520.6 55.2V93.5M521.6 62.1V82.5M522.5 58.0V82.3M523.6 46.1V83.5M524.4 58.0V85.9M525.4 61.6V81.7M526.4 62.1V80.5M527.5 63.9V77.7M528.4 65.4V76.9" stroke="#5fbdd7" stroke-width="1"/>
<path d="M365.9 78.0V125.4" stroke="#5fbdd7" stroke-width="1.1"/>
<path d="M303.1 89.3h.8M304.1 88.2h.8M306.1 87.6h.8M312.1 85.2h.8M314.1 100.0h.8M315.1 101.6h.8M318.1 102.5h.8M321.1 96.8h.8M322.1 100.9h.8M324.1 82.6h.8M325.1 72.3h.8M326.1 85.1h.8M327.1 99.3h.8M328.1 87.9h.8M334.1 104.6h.8M337.1 95.9h.8M341.1 92.1h.8M342.1 96.8h.8M343.1 103.8h.8M344.1 102.4h.8M346.1 102.9h.8M347.1 99.9h.8M349.1 90.5h.8M351.1 104.0h.8M353.1 99.3h.8M355.1 101.2h.8M357.1 96.3h.8M359.1 113.7h.8M364.1 110.6h.8M365.1 105.8h.8M367.1 88.9h.8M368.1 101.2h.8M370.1 109.6h.8M371.1 110.9h.8M374.1 104.3h.8M375.1 94.5h.8M376.1 93.4h.8M378.1 89.1h.8M380.1 84.9h.8M387.1 100.2h.8M392.1 95.7h.8M396.1 98.5h.8M400.1 91.0h.8M401.1 92.0h.8M403.1 55.4h.8M406.1 93.1h.8M408.1 91.4h.8M413.1 81.6h.8M414.1 72.8h.8M416.1 86.3h.8M420.1 69.9h.8M423.1 64.3h.8M424.1 52.0h.8M427.1 58.3h.8M429.1 58.3h.8M434.1 20.8h.8M436.1 30.6h.8M437.1 41.4h.8M438.1 35.9h.8M440.1 29.9h.8M441.1 35.1h.8M442.1 51.0h.8M445.1 39.2h.8M447.1 58.8h.8M448.1 55.4h.8M452.1 59.2h.8M453.1 60.8h.8M455.1 66.3h.8M457.1 77.2h.8M460.1 66.8h.8M461.1 62.6h.8M462.1 55.5h.8M467.1 78.1h.8M469.1 30.9h.8M474.1 46.5h.8M476.1 48.6h.8M478.1 45.2h.8M482.1 40.4h.8M483.1 45.6h.8M488.1 53.4h.8M491.1 21.0h.8M494.1 49.5h.8M500.1 51.2h.8M510.1 65.1h.8M511.1 67.7h.8M513.1 45.6h.8M514.1 26.4h.8M516.1 46.8h.8M517.1 48.9h.8M518.1 38.5h.8M520.1 55.9h.8M523.1 46.8h.8M524.1 58.0h.8M527.1 63.6h.8" stroke="#0e0e14" stroke-width="0.8"/>
<path d="M300.7 111.2v1.7M300.6 127.2v1.7M300.7 99.6v2.3M301.6 123.0v1.6M301.6 106.1v2.0M302.1 111.0v1.6M302.3 104.8v0.9M302.2 118.8v2.5M302.3 112.1v1.9M303.7 93.1v0.9M303.6 103.1v0.9M304.4 105.3v1.5M305.7 98.9v1.9M305.2 101.2v1.5M305.7 105.1v2.3M306.6 90.3v1.9M307.6 93.7v1.6M307.6 98.6v1.3M307.2 101.9v2.5M308.9 94.2v2.4M309.6 93.3v1.8M310.7 100.6v0.8M310.7 98.3v2.4M311.4 82.8v2.1M311.9 87.1v1.9M311.4 105.0v2.5M311.1 73.9v2.3M312.9 103.1v1.7M313.9 104.2v2.5M313.7 107.9v2.2M314.1 116.9v1.2M314.6 116.9v1.6M316.8 113.5v2.3M316.6 94.0v2.2M316.8 122.2v2.1M317.4 102.3v0.9M317.9 110.8v1.3M317.2 118.3v0.9M318.4 115.3v2.2M318.8 118.2v1.6M318.4 108.3v1.1M319.3 99.1v1.5M320.8 92.3v1.5M320.4 105.4v2.3M321.4 97.0v2.2M321.8 120.0v2.1M322.7 104.0v1.4M323.8 104.6v2.3M324.7 91.6v0.9M324.2 82.6v2.2M324.8 94.8v1.4M325.8 73.2v1.8M325.6 108.8v2.3M325.6 95.1v1.9M325.7 104.9v2.5M326.4 108.5v1.0M327.9 105.3v1.2M327.2 99.6v1.2M327.5 112.7v1.6M327.1 102.6v2.5M328.4 94.2v0.8M328.7 108.3v2.0M329.7 94.6v2.2M329.4 109.7v1.6M329.5 79.1v2.2M329.3 111.9v0.8M330.9 83.1v0.9M331.7 83.9v2.0M331.6 99.5v1.1M331.8 93.1v1.4M331.8 87.0v1.4M331.6 91.6v2.0M331.1 87.6v2.3M331.5 80.0v1.4M332.9 120.5v1.7M332.8 118.7v1.0M332.4 111.9v1.6M333.3 120.9v1.3M334.3 111.9v2.5M335.3 112.4v2.3M336.6 114.2v2.4M336.6 103.4v1.7M336.4 87.5v1.8M336.5 123.2v1.8M336.2 114.2v1.8M337.5 118.3v1.4M337.6 119.4v2.3M337.3 127.6v2.4M337.8 106.8v1.1M337.8 102.7v2.0M338.4 113.4v1.5M338.4 103.0v1.2M338.8 104.0v1.8M339.2 99.0v1.9M339.8 105.2v2.1M340.7 102.1v1.9M340.3 115.7v1.8M341.5 107.0v0.9M341.2 102.4v1.6M341.8 99.0v1.8M342.3 120.9v2.5M342.5 124.4v1.0M342.2 109.8v1.4M343.9 124.3v1.4M343.2 104.4v2.0M343.3 119.8v2.3M343.1 110.8v1.5M344.6 118.8v2.0M344.4 113.3v2.4M344.3 119.6v1.2M344.8 119.4v1.2M345.6 101.0v1.6M345.3 97.3v1.5M345.4 94.6v1.1M346.6 103.8v2.3M346.5 111.2v2.5M347.2 109.9v2.5M347.7 100.0v1.1M347.7 117.0v2.0M348.7 120.4v1.3M348.4 113.9v1.0M348.2 117.4v2.0M349.4 107.7v2.2M349.8 90.9v1.1M349.3 100.8v1.4M349.4 117.6v1.4M349.7 120.3v1.3M350.2 106.3v1.6M350.6 122.9v1.3M351.3 116.4v2.1M351.6 123.7v2.2M352.8 121.9v1.3M353.8 107.0v1.4M353.1 105.4v1.2M353.7 116.9v2.4M354.6 106.8v2.3M354.2 122.0v2.2M355.3 127.7v2.0M355.9 131.6v2.2M355.3 123.8v1.9M356.5 119.0v1.0M356.5 129.8v2.4M357.8 103.0v1.3M357.8 94.9v1.4M357.6 118.0v2.1M358.2 112.8v2.1M358.8 127.7v1.9M358.7 135.0v1.7M359.4 123.5v1.4M359.7 121.4v1.0M360.9 113.7v2.4M360.3 125.0v2.2M360.7 118.2v2.0M362.6 115.4v1.8M363.6 121.7v2.0M364.5 111.5v1.5M364.3 132.4v1.0M364.6 114.1v1.0M365.9 110.2v1.7M365.6 114.8v2.3M366.2 114.1v1.2M366.2 104.5v2.1M366.9 103.2v1.0M366.3 116.6v2.5M367.5 89.1v1.7M367.5 112.0v1.6M367.7 108.1v1.7M368.2 110.1v1.8M368.8 117.9v1.9M368.5 123.3v2.1M368.7 123.2v1.3M369.7 114.9v0.9M369.7 122.7v1.2M371.1 118.2v2.3M371.8 122.1v1.0M371.4 115.6v2.0M372.8 114.5v2.3M372.8 114.5v1.1M373.7 105.1v1.2M373.5 124.2v2.1M373.7 111.4v2.1M374.2 121.8v1.2M375.8 126.0v1.0M376.7 104.8v1.6M376.4 112.3v2.2M377.8 92.8v2.0M378.5 101.4v1.6M379.5 78.8v1.1M379.8 102.9v1.8M379.2 76.0v0.9M379.2 109.4v2.0M380.5 119.1v1.8M380.5 105.6v2.1M380.6 90.4v1.7M380.6 89.2v1.6M381.8 117.7v1.8M381.3 118.3v2.2M381.5 97.9v2.3M382.3 104.8v2.0M383.5 100.6v1.6M383.3 108.4v1.1M383.1 103.0v1.6M383.4 93.3v1.1M384.5 91.9v2.3M384.7 83.5v2.0M384.3 96.9v1.0M384.1 89.6v2.1M385.7 86.5v2.1M385.1 85.5v1.7M385.5 99.0v2.5M386.7 113.3v1.6M386.8 110.1v1.9M387.6 103.0v0.8M388.2 101.1v1.3M389.8 104.1v1.4M391.2 102.6v1.3M391.6 114.9v2.3M392.7 102.5v2.5M393.4 111.2v2.1M394.6 103.3v1.7M395.2 102.3v2.0M396.6 118.9v1.1M396.8 105.9v2.2M396.8 110.9v0.9M397.5 98.5v1.3M397.8 99.9v2.3M397.7 98.0v1.7M397.7 98.3v2.4M397.4 126.8v1.7M398.5 93.5v1.8M398.7 88.9v1.1M400.3 114.4v1.4M400.3 115.2v1.8M400.8 111.4v0.9M402.9 94.8v2.2M402.5 80.1v2.3M402.7 84.7v1.9M402.8 106.0v1.4M402.3 79.2v1.3M402.3 84.0v1.9M403.5 82.9v1.1M403.4 91.8v1.6M403.2 92.2v1.5M403.4 106.5v1.1M403.1 89.8v2.2M404.7 91.5v0.9M405.3 101.9v1.7M405.7 97.8v1.8M405.2 93.9v2.3M405.1 98.4v2.1M406.3 107.4v1.6M406.8 102.3v1.7M407.4 109.8v1.3M408.6 103.3v1.6M409.2 85.8v1.7M410.4 95.2v1.7M410.8 88.4v2.2M410.8 71.9v1.1M410.7 80.0v1.1M411.8 87.6v2.3M411.5 87.4v1.4M412.8 98.8v0.8M412.6 86.0v2.0M412.4 92.8v0.8M413.6 83.8v2.4M414.7 76.8v2.3M414.5 91.3v2.4M414.2 88.7v1.2M415.8 92.7v2.0M415.3 89.9v1.6M415.9 103.3v1.0M416.7 91.3v1.9M416.8 110.2v1.4M416.3 103.8v1.6M417.4 89.4v1.8M417.3 86.7v2.4M418.8 62.1v1.5M419.2 77.7v1.7M420.8 105.5v2.3M420.3 104.5v1.8M420.2 99.2v1.0M421.6 90.1v1.8M422.9 71.6v2.2M424.7 90.7v1.9M424.6 67.8v1.5M424.5 78.3v2.2M424.8 90.6v2.3M424.8 63.5v1.0M425.5 69.4v0.9M425.7 72.7v0.9M426.5 76.4v1.7M426.2 68.9v1.6M428.6 82.1v1.8M429.3 68.7v1.8M429.8 79.8v2.0M429.1 73.6v1.2M430.1 77.1v2.4M431.6 62.8v1.7M431.8 64.4v2.3M432.8 52.8v2.1M433.4 38.2v2.3M434.1 31.0v1.2M434.4 45.2v1.6M434.3 49.5v0.8M434.2 59.4v2.2M434.2 47.9v1.7M435.3 52.6v1.9M435.4 59.6v2.2M435.3 37.9v1.0M435.2 45.6v2.1M436.8 73.4v1.9M437.7 62.5v1.4M437.4 68.9v1.0M437.4 72.0v1.4M437.5 53.3v1.6M438.3 62.3v1.5M438.3 73.8v1.4M439.2 56.7v1.2M439.7 54.4v1.9M439.3 55.8v1.7M439.3 37.0v1.7M439.3 34.1v1.4M440.9 55.5v2.0M440.2 56.8v1.1M441.2 72.0v1.6M441.5 66.0v2.4M441.7 39.8v1.1M441.7 57.1v1.1M442.6 64.2v1.3M442.2 53.6v0.8M442.7 64.1v0.8M442.8 70.1v1.5M443.7 75.6v2.3M443.9 88.4v1.8M444.8 49.5v2.2M444.4 67.7v2.5M444.4 85.2v2.5M444.7 38.1v2.2M444.5 39.5v2.2M444.6 75.7v1.4M444.5 78.6v2.3M444.2 55.3v1.4M445.5 71.7v2.4M445.2 48.3v1.6M445.3 48.1v1.2M445.5 56.9v1.4M446.7 87.3v1.1M447.7 75.9v1.9M447.7 67.5v2.0M447.3 64.5v2.4M447.7 67.1v1.6M447.3 62.4v2.4M448.3 81.2v1.1M448.7 68.2v1.3M448.3 67.5v2.0M449.8 58.8v2.4M449.8 57.8v1.3M450.1 60.2v0.9M453.4 91.5v1.8M454.5 51.6v2.0M454.2 81.1v1.9M454.2 54.0v1.6M454.3 88.9v2.1M455.3 69.5v0.9M455.4 87.3v1.6M456.4 93.8v0.8M456.8 88.1v1.0M457.6 87.4v1.5M457.5 87.2v1.7M457.7 97.3v1.2M458.5 80.3v1.0M458.4 92.6v2.0M458.6 88.0v1.7M459.5 84.0v1.4M459.3 76.4v2.2M459.8 81.0v2.5M460.2 77.2v2.2M460.7 83.3v1.0M460.4 84.7v2.4M460.8 102.4v1.6M460.5 71.9v1.8M461.2 79.2v1.4M462.1 57.4v1.8M462.8 56.1v1.0M462.7 97.4v2.4M463.6 77.7v2.5M463.1 50.3v1.6M463.9 88.8v1.2M464.1 84.7v1.2M464.7 86.9v1.5M464.7 68.6v2.4M464.7 93.0v1.1M465.6 89.7v2.1M466.8 87.8v0.9M466.4 88.7v1.2M466.4 80.2v2.4M467.1 78.1v1.6M467.5 89.8v1.9M467.7 92.5v2.5M467.9 84.3v1.0M468.9 82.6v2.3M468.3 78.3v1.6M468.7 70.4v1.7M468.2 48.0v2.5M468.7 50.6v0.8M469.5 75.6v1.4M469.6 58.9v1.0M469.5 90.1v2.4M469.6 54.4v0.8M469.7 79.6v2.2M470.6 72.6v0.9M470.3 73.6v1.8M470.3 44.3v1.1M470.4 73.9v1.7M472.5 53.3v1.6M472.6 51.9v2.3M472.3 72.9v2.3M473.6 68.5v1.9M473.6 50.8v1.8M473.8 76.6v1.9M473.8 42.6v2.4M473.7 81.9v2.3M473.8 64.2v2.3M473.6 74.7v1.9M474.5 93.9v2.1M474.3 97.0v1.1M474.4 56.8v2.2M474.7 49.4v0.8M474.3 66.5v1.0M474.4 98.9v2.2M475.5 67.9v0.9M475.4 75.1v1.5M475.6 61.4v1.0M475.1 56.5v1.0M476.5 68.7v2.2M476.1 62.6v1.1M477.6 61.7v2.4M477.8 51.7v1.6M477.8 63.7v2.0M478.3 66.5v2.2M480.6 53.7v1.6M481.2 63.8v1.2M481.7 47.0v2.5M481.6 71.0v1.7M482.2 62.2v1.2M482.3 64.5v0.9M482.2 44.6v2.2M483.2 57.9v2.4M485.5 44.9v1.1M485.5 50.4v1.9M486.2 64.4v1.0M486.5 60.3v1.3M486.7 59.2v2.4M487.8 55.6v1.1M487.3 70.5v2.3M488.1 67.0v1.8M488.6 54.8v2.2M489.2 53.6v1.6M489.5 64.8v2.5M490.1 33.2v2.0M490.4 66.8v2.4M490.7 58.1v1.9M490.4 43.7v2.0M491.3 70.2v1.6M491.6 41.9v2.4M491.7 30.4v1.6M491.8 57.1v1.6M491.7 53.9v2.3M492.9 64.0v0.9M492.4 55.0v2.1M492.4 37.8v2.3M493.8 60.9v2.1M493.3 43.3v2.3M493.7 74.4v0.8M493.2 44.9v0.9M494.2 77.3v1.4M494.5 81.6v1.0M494.1 83.6v2.4M495.3 74.2v1.8M495.4 67.0v2.2M495.7 55.0v2.2M496.7 94.2v1.0M496.1 57.7v1.5M496.8 83.3v1.8M496.9 66.2v1.2M497.8 66.1v1.9M497.9 89.3v1.8M497.1 94.9v2.1M498.4 64.8v2.2M498.3 76.5v0.9M498.3 88.0v2.0M499.4 63.5v1.4M500.6 54.8v1.8M500.8 65.7v2.0M500.1 70.6v1.7M500.5 63.3v0.9M501.3 67.3v1.7M503.8 60.2v2.2M503.4 57.7v2.2M503.9 57.8v1.6M504.3 68.4v1.7M504.5 77.5v1.2M504.5 65.0v0.8M505.1 80.4v1.3M505.6 70.5v2.1M506.7 77.2v1.9M506.5 61.4v2.3M506.7 70.5v2.3M506.4 77.8v2.4M507.8 25.6v1.6M507.3 41.7v0.9M507.8 67.9v1.4M507.2 54.0v1.2M507.2 34.8v2.3M507.2 62.4v2.1M507.8 63.5v1.2M507.3 56.9v2.0M507.7 22.4v2.2M508.4 42.3v1.6M508.8 74.0v0.9M508.6 58.5v1.9M508.6 57.5v1.8M508.9 77.9v0.8M509.5 67.1v2.4M509.6 87.0v1.0M509.8 58.7v1.6M509.5 54.8v1.3M510.8 67.6v1.5M510.7 91.8v1.5M511.4 70.7v1.9M511.2 85.6v1.9M511.3 82.4v1.4M512.9 69.3v1.4M512.4 74.0v2.4M513.5 67.7v0.8M513.8 76.1v2.2M513.8 82.5v1.7M513.5 84.5v2.2M513.9 45.8v2.1M513.6 68.5v1.5M513.5 72.4v1.7M513.9 65.0v2.4M514.3 69.3v1.8M514.5 77.3v1.6M514.6 80.3v1.5M514.1 57.7v0.9M515.7 40.7v1.4M515.8 63.2v2.0M515.2 41.2v1.0M515.8 58.4v2.0M515.4 63.4v1.1M516.9 72.7v1.4M516.3 66.2v2.3M516.6 55.6v2.5M517.6 61.5v1.9M517.8 56.0v1.5M517.5 56.8v0.9M517.3 69.8v2.4M518.8 70.8v1.8M518.7 88.8v1.7M518.4 83.8v1.4M518.1 85.4v2.1M518.5 57.7v2.2M518.4 41.1v2.0M519.6 69.7v1.1M519.2 67.2v1.3M519.3 57.3v2.2M519.3 64.6v2.4M519.6 74.4v2.1M520.7 89.6v2.2M520.2 94.6v2.4M522.7 64.1v0.9M522.7 57.8v1.3M523.4 77.5v1.3M523.4 84.7v0.9M524.4 84.8v1.4M524.3 81.1v2.4M524.3 75.9v1.7M525.8 70.6v1.5M525.8 81.6v1.3M526.2 79.0v0.8M526.8 76.3v2.0M527.2 78.5v2.0M527.2 74.1v2.2M528.5 75.0v2.1" stroke="#1d3a4a" stroke-width="0.6" stroke-opacity="0.8"/>
<rect x="300.4" y="136.0" width="1" height="1" fill="#4a78c8"/>
<rect x="300.4" y="129.4" width="1" height="1" fill="#4a78c8"/>
<rect x="300.5" y="132.7" width="1" height="1" fill="#4a78c8"/>
<rect x="365.3" y="71.8" width="1" height="1" fill="#0e0e14"/>
<rect x="365.3" y="80.7" width="1" height="1" fill="#4a78c8"/>
<rect x="365.5" y="85.6" width="1" height="1" fill="#0e0e14"/>
<rect x="365.5" y="89.0" width="1" height="1" fill="#0e0e14"/>
<rect x="356.4" y="86.2" width="1" height="1" fill="#4a78c8"/>
<rect x="356.4" y="89.5" width="1" height="1" fill="#4a78c8"/>
<rect x="336.3" y="85.1" width="1" height="1" fill="#0e0e14"/>
<rect x="420.2" y="113.5" width="1" height="1" fill="#4a78c8"/>
<rect x="420.2" y="117.4" width="1" height="1" fill="#4a78c8"/>
<rect x="420.2" y="120.3" width="1" height="1" fill="#4a78c8"/>
<rect x="429.2" y="96.2" width="1" height="1" fill="#4a78c8"/>
<rect x="459.7" y="106.8" width="1" height="1" fill="#4a78c8"/></g>
<g class="tk" style="font-size:5.5px">
<text x="285.55" y="110.80" text-anchor="end">5</text>
<text x="285.55" y="83.14" text-anchor="end">10</text>
<text x="285.55" y="55.47" text-anchor="end">15</text>
<text x="285.55" y="27.81" text-anchor="end">20</text>
<text x="332.37" y="151.17" text-anchor="middle">10,000</text>
<text x="364.74" y="151.17" text-anchor="middle">20,000</text>
<text x="397.11" y="151.17" text-anchor="middle">30,000</text>
<text x="429.48" y="151.17" text-anchor="middle">40,000</text>
<text x="461.85" y="151.17" text-anchor="middle">50,000</text>
<text x="494.22" y="151.17" text-anchor="middle">60,000</text>
<text x="526.59" y="151.17" text-anchor="middle">70,000</text>
<text x="414.25" y="156.97" text-anchor="middle">Item number (5min average)</text>
<text transform="translate(277.37,75.25) rotate(-90)" text-anchor="middle">ug/m3</text>
</g>
<text x="542.40" y="165.50" text-anchor="end" class="pl">(b)</text>
<rect x="292.0" y="8.5" width="43.0" height="23.0" fill="#efeff5" stroke="#dcdce4" stroke-width="0.5" rx="0.8"/>
<rect x="298.8" y="12.3" width="1.2" height="1.2" fill="#4a78c8"/>
<rect x="298.7" y="19.4" width="1.3" height="1.3" fill="#0e0e14"/>
<path d="M293.7 26.7H304.7" stroke="#86cadc" stroke-width="1.2"/>
<text x="308.6" y="14.6" class="lg" style="font-size:4.95px">Train</text>
<text x="308.6" y="21.8" class="lg" style="font-size:4.95px">Test</text>
<text x="308.6" y="28.4" class="lg" style="font-size:4.95px">Predictions</text>
<rect x="24.3" y="172.0" width="243.2" height="129.6" fill="#eaeaf2"/>
<g fill="none"><path d="M34.5 257.9V291.2M35.5 254.7V289.8M36.5 252.5V283.3M37.5 250.5V280.6M38.5 249.1V274.6M39.5 248.0V270.6M40.5 244.3V263.7M41.5 249.3V263.5M42.5 249.6V266.3M43.5 250.5V268.9M44.5 247.0V273.2M45.5 234.9V276.1M46.5 247.0V276.2M47.5 259.5V276.0M48.5 262.4V278.5M49.5 254.3V280.7M50.5 262.5V283.4M51.5 264.4V281.8M52.5 261.4V281.5M53.5 253.6V277.1M54.5 255.8V284.1M55.5 260.4V277.5M56.5 262.1V274.4M57.5 247.8V273.7M58.5 234.2V273.6M59.5 245.0V278.8M60.5 251.7V284.8M61.5 261.6V281.5M62.5 250.0V278.7M63.5 238.5V276.5M64.5 240.6V273.9M65.5 242.8V278.7M66.5 253.6V284.9M67.5 267.4V285.6M68.5 260.5V286.9M69.5 247.9V288.1M70.5 257.3V289.5M71.5 260.8V291.3M72.5 258.5V282.3M73.5 249.3V278.6M74.5 252.2V282.8M75.5 258.0V286.2M76.5 263.3V291.3M77.5 263.2V286.2M78.5 253.6V281.4M79.5 263.2V281.3M80.5 261.1V281.0M81.5 256.4V282.3M82.5 251.4V286.9M83.5 262.4V287.8M84.5 264.2V289.8M85.5 262.4V286.7M86.5 260.0V288.8M87.5 263.7V291.2M88.5 260.7V292.1M89.5 249.3V289.8M90.5 256.7V294.2M91.5 271.3V295.6M92.5 274.8V294.6M93.5 273.4V293.4M94.5 274.1V288.9M95.5 273.6V288.0M96.5 273.2V292.7M97.5 270.5V292.7M98.5 262.7V289.8M99.5 250.7V289.3M100.5 262.7V290.2M101.5 267.3V292.7M102.5 269.8V289.3M103.5 270.3V285.0M104.5 269.1V284.8M105.5 261.5V285.7M106.5 265.4V286.1M107.5 258.6V287.0M108.5 254.9V283.5M109.5 253.2V283.7M110.5 250.5V283.7M111.5 245.6V285.6M112.5 238.3V280.7M113.5 250.2V281.4M114.5 253.0V286.3M115.5 251.9V279.6M116.5 238.3V275.7M117.5 247.8V275.5M118.5 249.3V279.1M119.5 261.6V280.5M120.5 260.7V282.7M121.5 260.1V278.0M122.5 260.3V278.7M123.5 260.0V279.0M124.5 256.6V284.8M125.5 246.2V277.1M126.5 256.6V272.7M127.5 257.4V272.0M128.5 259.3V286.7M129.5 252.5V292.0M130.5 242.6V273.7M131.5 252.5V278.4M132.5 252.9V272.4M133.5 253.9V278.4M134.5 235.1V271.7M135.5 219.0V265.4M136.5 235.1V262.9M137.5 244.1V267.9M138.5 257.2V270.8M139.5 257.4V274.1M140.5 252.4V266.2M141.5 242.6V263.4M142.5 234.0V260.7M143.5 242.6V262.0M144.5 244.6V262.7M145.5 242.6V263.2M146.5 235.4V266.0M147.5 245.5V270.5M148.5 241.7V273.4M149.5 230.6V266.9M150.5 213.9V263.1M151.5 229.0V259.8M152.5 234.0V272.2M153.5 229.2V251.3M154.5 226.8V251.8M155.5 214.7V258.4M156.5 227.1V246.3M157.5 229.6V244.4M158.5 230.2V249.5M159.5 221.1V252.0M160.5 224.4V256.9M161.5 215.9V250.2M162.5 205.4V240.4M163.5 215.0V233.8M164.5 199.3V227.5M165.5 185.3V224.4M166.5 187.9V232.8M167.5 194.9V244.7M168.5 202.2V239.2M169.5 199.1V238.1M170.5 182.4V228.3M171.5 193.2V229.3M172.5 199.3V236.4M173.5 213.9V241.6M174.5 213.7V250.8M175.5 196.8V254.0M176.5 206.0V250.8M177.5 216.1V254.5M178.5 222.2V255.5M179.5 218.4V249.6M180.5 208.2V240.9M181.5 217.2V234.7M182.5 219.9V230.8M183.5 222.5V232.6M184.5 215.4V259.7M185.5 228.7V254.0M186.5 233.7V257.8M187.5 234.3V261.9M188.5 239.2V258.9M189.5 236.5V258.4M190.5 231.4V264.8M191.5 227.9V260.0M192.5 223.4V258.8M193.5 212.5V259.6M194.5 219.8V259.3M195.5 233.3V259.7M196.5 237.6V259.7M197.5 239.2V255.6M198.5 239.8V255.9M199.5 210.5V255.4M200.5 194.6V244.8M201.5 208.5V240.8M202.5 212.2V249.0M203.5 211.3V253.1M204.5 206.8V261.2M205.5 217.1V254.4M206.5 213.5V244.5M207.5 209.7V233.7M208.5 208.2V228.6M209.5 213.4V232.3M210.5 215.6V235.9M211.5 209.3V238.3M212.5 204.6V232.7M213.5 209.6V227.1M214.5 205.4V227.7M215.5 208.2V231.6M216.5 215.2V233.3M217.5 212.5V236.9M218.5 216.1V235.9M219.5 210.2V239.5M220.5 192.5V241.1M221.5 186.1V233.4M222.5 178.1V228.7M223.5 195.6V238.8M224.5 212.7V246.4M225.5 214.3V250.4M226.5 220.7V258.1M227.5 225.9V261.2M228.5 224.8V254.9M229.5 221.9V250.2M230.5 215.1V246.4M231.5 208.9V243.0M232.5 213.5V238.2M233.5 218.7V239.2M234.5 221.6V246.2M235.5 205.5V248.2M236.5 187.4V249.8M237.5 200.0V245.9M238.5 212.1V252.2M239.5 222.0V257.6M240.5 228.8V259.1M241.5 229.9V253.5M242.5 228.3V249.9M243.5 208.8V256.9M244.5 190.3V241.4M245.5 204.5V248.0M246.5 210.5V250.8M247.5 201.8V251.3M248.5 217.3V249.1M249.5 218.4V256.9M250.5 220.7V248.4M251.5 221.0V245.3M252.5 209.7V247.2M253.5 221.0V249.8M254.5 224.5V245.7M255.5 224.4V245.0M256.5 226.6V241.9M257.5 228.1V241.1" stroke="#0e0e14" stroke-width="1"/>
<path d="M34.6 258.5V289.6M35.4 255.3V288.2M36.5 253.1V281.7M37.6 251.1V279.0M38.4 249.7V273.0M39.6 248.6V269.0M40.5 244.9V262.1M41.6 249.9V261.9M42.6 250.2V264.7M43.6 251.1V267.3M44.6 247.6V271.6M45.6 235.5V274.5M46.5 247.6V274.6M47.5 260.1V274.4M48.5 263.0V276.9M49.6 254.9V279.1M50.4 263.1V281.8M51.5 265.0V280.2M52.6 262.0V279.9M53.5 254.2V275.5M54.5 256.4V282.5M55.5 261.0V275.9M56.6 262.7V272.8M57.6 248.4V272.1M58.4 234.8V272.0M59.5 245.6V277.2M60.5 252.3V283.2M61.5 262.2V279.9M62.5 250.6V277.1M63.5 239.1V274.9M64.5 241.2V272.3M65.4 243.4V277.1M66.5 254.2V283.3M67.4 268.0V284.0M68.6 261.1V285.3M69.5 248.5V286.5M70.5 257.9V287.9M71.6 261.4V289.7M72.5 259.1V280.7M73.6 249.9V277.0M74.4 252.8V281.2M75.4 258.6V284.6M76.4 263.9V289.7M77.5 263.8V284.6M78.4 254.2V279.8M79.4 263.8V279.7M80.5 261.7V279.4M81.5 257.0V280.7M82.6 252.0V285.3M83.4 263.0V286.2M84.6 264.8V288.2M85.4 263.0V285.1M86.4 260.6V287.2M87.6 264.3V289.6M88.6 261.3V290.5M89.5 249.9V288.2M90.4 257.3V292.6M91.6 271.9V294.0M92.4 275.4V293.0M93.5 274.0V291.8M94.5 274.7V287.3M95.5 274.2V286.4M96.5 273.8V291.1M97.4 271.1V291.1M98.5 263.3V288.2M99.6 251.3V287.7M100.5 263.3V288.6M101.4 267.9V291.1M102.5 270.4V287.7M103.6 270.9V283.4M104.4 269.7V283.2M105.6 262.1V284.1M106.6 266.0V284.5M107.6 259.2V285.4M108.4 255.5V281.9M109.6 253.8V282.1M110.6 251.1V282.1M111.4 246.2V284.0M112.6 238.9V279.1M113.4 250.8V279.8M114.6 253.6V284.7M115.5 252.5V278.0M116.6 238.9V274.1M117.4 248.4V273.9M118.6 249.9V277.5M119.4 262.2V278.9M120.5 261.3V281.1M121.5 260.7V276.4M122.5 260.9V277.1M123.6 260.6V277.4M124.4 257.2V283.2M125.5 246.8V275.5M126.4 257.2V271.1M127.6 258.0V270.4M128.5 259.9V285.1M129.5 253.1V290.4M130.5 243.2V272.1M131.6 253.1V276.8M132.6 253.5V270.8M133.4 254.5V276.8M134.6 235.7V270.1M135.4 219.6V263.8M136.5 235.7V261.3M137.6 244.7V266.3M138.6 257.8V269.2M139.6 258.0V272.5M140.4 253.0V264.6M141.5 243.2V261.8M142.5 234.6V259.1M143.5 243.2V260.4M144.6 245.2V261.1M145.5 243.2V261.6M146.5 236.0V264.4M147.6 246.1V268.9M148.5 242.3V271.8M149.4 231.2V265.3M150.4 214.5V261.5M151.5 229.6V258.2M152.6 234.6V270.6M153.6 229.8V249.7M154.6 227.4V250.2M155.5 215.3V256.8M156.5 227.7V244.7M157.4 230.2V242.8M158.6 230.8V247.9M159.4 221.7V250.4M160.6 225.0V255.3M161.4 216.5V248.6M162.5 206.0V238.8M163.6 215.6V232.2M164.6 199.9V225.9M165.6 185.9V222.8M166.5 188.5V231.2M167.6 195.5V243.1M168.4 202.8V237.6M169.5 199.7V236.5M170.6 183.0V226.7M171.5 193.8V227.7M172.4 199.9V234.8M173.6 214.5V240.0M174.5 214.3V249.2M175.4 197.4V252.4M176.4 206.6V249.2M177.5 216.7V252.9M178.6 222.8V253.9M179.5 219.0V248.0M180.5 208.8V239.3M181.6 217.8V233.1M182.4 220.5V229.2M183.4 223.1V231.0M184.5 216.0V258.1M185.5 229.3V252.4M186.6 234.3V256.2M187.4 234.9V260.3M188.5 239.8V257.3M189.5 237.1V256.8M190.6 232.0V263.2M191.6 228.5V258.4M192.4 224.0V257.2M193.4 213.1V258.0M194.4 220.4V257.7M195.4 233.9V258.1M196.4 238.2V258.1M197.5 239.8V254.0M198.4 240.4V254.3M199.6 211.1V253.8M200.5 195.2V243.2M201.4 209.1V239.2M202.5 212.8V247.4M203.4 211.9V251.5M204.6 207.4V259.6M205.5 217.7V252.8M206.5 214.1V242.9M207.4 210.3V232.1M208.6 208.8V227.0M209.5 214.0V230.7M210.6 216.2V234.3M211.4 209.9V236.7M212.4 205.2V231.1M213.5 210.2V225.5M214.4 206.0V226.1M215.6 208.8V230.0M216.4 215.8V231.7M217.5 213.1V235.3M218.4 216.7V234.3M219.5 210.8V237.9M220.4 193.1V239.5M221.5 186.7V231.8M222.5 178.7V227.1M223.4 196.2V237.2M224.4 213.3V244.8M225.4 214.9V248.8M226.4 221.3V256.5M227.4 226.5V259.6M228.4 225.4V253.3M229.5 222.5V248.6M230.4 215.7V244.8M231.4 209.5V241.4M232.4 214.1V236.6M233.5 219.3V237.6M234.5 222.2V244.6M235.4 206.1V246.6M236.5 188.0V248.2M237.5 200.6V244.3M238.6 212.7V250.6M239.6 222.6V256.0M240.5 229.4V257.5M241.4 230.5V251.9M242.4 228.9V248.3M243.4 209.4V255.3M244.4 190.9V239.8M245.5 205.1V246.4M246.6 211.1V249.2M247.6 202.4V249.7M248.5 217.9V247.5M249.5 219.0V255.3M250.5 221.3V246.8M251.4 221.6V243.7M252.4 210.3V245.6M253.4 221.6V248.2M254.4 225.1V244.1M255.6 225.0V243.4M256.4 227.2V240.3M257.4 228.7V239.5" stroke="#5fbdd7" stroke-width="1"/>
<path d="M34.1 259.4h.8M38.1 249.5h.8M44.1 247.8h.8M45.1 236.1h.8M49.1 254.7h.8M53.1 253.7h.8M54.1 256.3h.8M55.1 260.5h.8M57.1 248.0h.8M58.1 234.3h.8M59.1 246.0h.8M61.1 262.3h.8M62.1 250.3h.8M66.1 255.0h.8M67.1 268.4h.8M69.1 248.9h.8M71.1 261.6h.8M72.1 258.5h.8M73.1 249.9h.8M76.1 263.6h.8M77.1 264.2h.8M80.1 262.2h.8M81.1 257.0h.8M88.1 261.3h.8M90.1 257.3h.8M91.1 272.3h.8M92.1 275.2h.8M99.1 250.8h.8M101.1 267.7h.8M102.1 270.5h.8M103.1 271.3h.8M104.1 269.3h.8M106.1 265.6h.8M114.1 253.5h.8M115.1 252.4h.8M116.1 239.8h.8M119.1 261.6h.8M121.1 261.5h.8M123.1 260.4h.8M125.1 247.1h.8M128.1 260.0h.8M130.1 243.9h.8M133.1 255.3h.8M137.1 244.1h.8M140.1 253.9h.8M145.1 243.0h.8M150.1 214.8h.8M151.1 229.6h.8M152.1 235.5h.8M156.1 228.3h.8M157.1 230.0h.8M161.1 216.1h.8M162.1 206.3h.8M163.1 215.8h.8M165.1 186.2h.8M166.1 189.3h.8M168.1 202.7h.8M169.1 200.2h.8M172.1 199.8h.8M173.1 215.3h.8M175.1 197.8h.8M178.1 223.5h.8M179.1 219.0h.8M180.1 208.6h.8M181.1 218.5h.8M182.1 220.7h.8M186.1 234.1h.8M187.1 234.4h.8M190.1 231.7h.8M191.1 229.2h.8M192.1 224.0h.8M193.1 213.3h.8M194.1 220.9h.8M198.1 240.6h.8M203.1 212.5h.8M213.1 209.8h.8M216.1 216.4h.8M217.1 213.1h.8M219.1 210.8h.8M221.1 186.1h.8M223.1 196.6h.8M226.1 221.5h.8M228.1 226.1h.8M230.1 215.7h.8M233.1 219.2h.8M236.1 187.4h.8M238.1 212.3h.8M239.1 223.0h.8M241.1 230.7h.8M246.1 211.7h.8M247.1 201.9h.8M249.1 218.6h.8M252.1 210.8h.8M253.1 221.9h.8M254.1 225.2h.8M255.1 224.5h.8M256.1 227.5h.8M257.1 229.0h.8" stroke="#0e0e14" stroke-width="0.8"/>
<path d="M34.4 278.8v2.2M34.5 286.1v2.3M34.4 263.3v1.1M34.6 279.8v1.7M34.3 259.4v1.8M35.3 281.0v2.2M35.6 272.9v1.1M35.6 270.3v1.5M35.6 287.6v1.9M35.4 260.6v2.2M36.8 276.5v1.4M36.7 253.9v2.0M37.6 273.8v1.6M37.1 275.6v1.7M37.5 279.3v1.6M38.9 268.8v1.0M38.1 267.6v1.9M39.2 248.0v1.6M39.6 269.4v1.2M39.7 262.7v2.1M40.2 250.2v1.2M40.3 247.6v2.0M40.7 245.3v0.9M42.5 263.2v1.8M42.6 264.4v2.4M42.2 259.7v1.9M43.4 258.3v2.1M43.6 253.2v1.6M44.8 252.4v1.8M44.7 269.7v2.3M44.6 261.2v0.9M44.7 268.3v1.5M45.7 239.7v1.3M45.5 258.0v0.9M46.3 273.2v1.7M46.7 251.1v1.7M46.8 253.7v1.2M47.6 272.8v0.9M47.7 274.4v0.9M48.3 275.6v2.0M48.7 271.7v2.2M49.3 256.6v2.4M49.3 266.7v1.6M50.2 276.1v1.9M50.7 264.5v1.3M51.2 270.1v0.9M51.3 277.9v1.9M52.5 280.6v1.9M53.8 255.9v1.3M54.2 280.9v2.3M54.1 278.9v1.6M54.6 276.4v2.0M54.2 276.0v2.1M55.2 277.5v1.8M57.3 261.2v1.9M57.5 261.5v1.0M58.1 236.1v2.0M58.3 252.3v1.1M58.9 270.8v0.8M58.6 268.1v2.3M60.4 258.2v2.3M60.8 269.5v2.0M60.3 278.3v2.4M60.6 260.9v1.8M61.5 272.7v1.9M61.4 273.1v1.6M61.8 278.6v2.4M62.7 270.1v2.0M63.8 258.4v1.8M63.2 252.2v2.5M64.7 268.8v1.8M65.2 277.3v1.7M65.6 242.9v2.1M65.3 249.8v2.5M66.9 266.8v2.4M66.2 258.5v1.6M66.1 259.4v1.3M67.5 280.7v2.4M67.5 281.3v1.7M67.7 270.0v1.8M68.4 272.6v1.2M69.8 278.0v1.1M69.4 256.8v1.9M69.2 283.4v1.7M69.8 250.6v1.3M70.2 269.5v1.8M70.9 264.8v2.3M70.6 260.1v2.2M70.6 276.4v1.2M71.8 264.3v1.4M72.2 275.0v1.0M73.6 257.0v2.1M73.5 257.8v1.3M73.5 271.8v2.5M74.5 279.6v1.2M74.3 260.4v1.3M74.4 257.4v1.8M74.3 260.0v1.6M75.6 274.1v1.3M75.4 273.9v1.0M76.7 290.5v1.3M76.5 284.5v1.0M77.5 284.7v2.1M77.6 285.1v2.1M78.9 262.7v1.9M80.6 276.2v1.2M80.1 279.2v2.0M81.8 267.5v1.2M82.7 268.6v1.7M82.9 276.7v2.0M82.4 263.5v1.1M82.9 275.0v1.8M83.5 274.5v0.9M83.1 266.1v1.1M83.4 285.4v2.4M84.2 288.0v1.5M85.9 272.8v1.3M85.1 286.3v2.3M85.5 274.0v1.4M86.9 288.0v1.8M86.6 279.2v1.1M86.2 268.6v1.8M86.6 260.2v1.1M87.3 271.6v1.0M87.2 279.7v1.2M87.5 286.6v1.4M88.5 272.5v0.9M88.5 266.6v1.3M88.6 285.9v1.9M88.7 264.1v1.3M90.2 260.0v2.1M90.4 281.3v2.0M90.8 284.9v1.4M90.6 288.3v2.2M91.5 289.0v1.1M91.2 287.8v1.7M91.8 286.6v2.3M92.6 289.2v1.5M92.2 276.4v2.0M93.9 290.5v2.1M93.8 281.0v2.0M95.3 274.4v1.4M95.1 275.5v1.6M95.2 282.3v2.2M97.6 277.9v1.6M97.6 271.6v1.1M97.2 285.7v1.9M98.1 274.5v1.6M98.5 281.0v1.9M99.5 268.9v1.2M99.5 285.4v2.2M99.1 261.0v1.1M99.7 277.2v2.1M99.7 269.3v1.2M100.9 286.1v2.2M100.3 263.1v2.2M100.2 272.7v1.5M100.4 270.0v1.9M100.5 275.1v1.4M101.4 277.1v1.2M101.7 279.9v2.4M101.5 279.4v2.3M101.5 292.3v1.1M101.7 288.0v2.5M102.1 289.0v1.0M103.5 272.2v1.0M104.1 280.3v0.9M105.5 279.2v1.2M105.8 262.5v2.2M105.7 278.4v1.9M106.7 282.1v1.2M106.4 273.7v1.6M107.5 275.2v1.8M107.1 279.6v0.9M107.8 284.9v0.8M107.7 268.7v1.2M107.4 277.0v2.0M108.2 265.1v1.7M109.5 275.2v1.8M109.6 276.4v1.7M109.2 269.5v1.6M109.7 256.1v1.8M110.2 277.6v0.9M110.2 267.7v1.4M110.4 274.4v2.1M110.6 269.6v1.1M110.7 272.9v1.8M110.7 257.5v1.6M111.5 269.7v1.2M111.8 259.1v1.0M111.9 284.9v1.0M111.8 251.4v1.8M112.6 240.8v1.4M112.1 246.0v1.4M112.7 274.5v0.9M112.4 269.1v1.3M112.2 239.7v1.9M112.6 264.4v2.0M114.4 273.5v1.8M114.4 266.6v1.0M114.7 277.9v1.4M115.6 276.6v2.4M115.7 255.5v1.7M115.4 264.3v2.0M115.5 262.4v2.3M116.4 247.5v2.0M116.7 260.2v2.3M116.5 251.3v2.2M116.8 245.9v1.5M116.7 253.1v1.6M116.7 256.7v1.5M117.6 257.6v2.3M118.5 271.8v1.5M118.2 266.9v1.4M119.8 268.3v2.0M120.4 264.4v2.4M120.6 276.7v1.5M121.9 277.0v1.3M121.4 268.9v2.5M121.7 277.6v1.0M124.2 282.4v1.4M124.2 262.8v1.4M125.2 252.1v2.2M126.5 265.1v1.5M126.3 267.4v2.3M127.8 265.2v1.5M127.3 266.4v1.0M128.6 262.8v2.4M128.8 285.0v1.7M128.5 278.4v2.5M128.7 260.6v2.2M129.9 273.2v0.8M129.1 255.9v1.3M130.2 254.3v2.0M130.1 254.6v2.3M130.6 270.9v2.0M130.6 251.6v1.6M131.7 256.8v1.5M132.1 266.6v1.5M132.7 262.4v2.0M133.6 274.0v0.9M133.5 264.5v0.9M133.3 261.9v1.4M134.8 241.1v1.1M134.4 263.4v2.0M135.4 253.9v2.5M135.8 229.2v1.0M135.5 248.8v1.1M135.8 263.8v2.4M136.2 255.1v2.4M137.2 256.8v2.2M137.2 253.8v1.9M137.5 263.6v2.3M138.1 262.9v1.9M140.4 254.4v2.1M141.3 244.7v1.1M144.2 261.9v1.0M146.5 237.4v1.9M146.7 258.2v1.1M147.9 267.3v2.2M148.4 245.1v2.4M148.8 263.4v1.5M149.7 259.0v2.4M149.8 238.6v1.2M149.3 239.3v1.1M149.5 239.1v1.8M150.5 230.7v1.3M150.4 239.5v1.6M150.9 257.2v1.2M150.4 251.4v0.8M150.7 236.4v2.1M150.7 226.0v0.8M151.7 234.1v1.1M151.5 255.9v1.4M152.4 235.2v1.0M152.5 250.6v0.9M152.7 269.2v2.1M152.3 249.5v2.3M153.5 243.0v1.1M153.6 244.7v1.6M153.2 244.1v1.2M154.6 242.7v2.0M154.4 232.6v1.6M155.7 235.5v1.2M155.2 257.4v2.0M155.7 216.0v1.1M155.5 250.8v1.9M156.8 229.6v2.2M156.5 239.7v1.9M157.5 243.2v2.4M157.8 239.5v1.4M158.3 243.3v1.5M158.3 235.1v0.8M158.4 234.3v2.0M159.7 247.2v2.1M159.5 238.8v2.1M160.8 233.8v1.6M160.4 243.5v1.8M160.6 245.6v2.4M160.3 226.3v1.2M160.5 256.6v0.9M162.4 233.5v2.3M162.3 233.1v1.3M162.8 219.8v2.2M162.2 226.5v2.0M162.4 208.4v1.4M162.5 232.3v1.5M164.6 226.8v1.1M164.7 217.6v1.0M164.7 218.8v2.3M164.8 220.4v1.5M165.5 187.4v1.9M165.5 196.5v1.1M165.3 205.3v2.0M165.2 212.3v0.9M165.5 217.2v0.9M166.6 194.1v1.5M166.7 220.6v1.0M166.6 190.9v1.9M166.4 226.7v1.5M166.3 203.3v1.2M167.5 211.2v2.3M167.8 216.4v2.4M167.5 239.1v2.4M167.5 204.6v2.3M167.1 208.8v1.4M167.4 215.6v1.0M168.3 215.8v2.2M168.6 224.2v0.9M168.7 220.1v1.5M168.8 210.7v1.0M169.2 215.0v2.4M169.1 226.4v1.7M169.3 204.9v2.3M169.4 205.2v2.1M170.7 214.4v2.3M170.7 201.0v1.5M171.5 196.3v2.1M171.6 203.4v2.1M172.5 236.1v1.9M172.7 229.2v1.3M172.8 222.9v0.8M173.7 227.4v1.4M174.3 228.6v1.1M174.1 248.2v2.4M174.8 223.8v2.1M174.1 232.6v0.9M175.9 207.9v1.9M175.5 217.6v2.4M175.2 225.9v1.8M175.5 244.2v1.8M176.7 223.1v1.0M176.8 245.7v1.2M176.4 232.1v0.9M176.5 227.6v1.3M177.3 233.6v1.2M177.7 251.3v2.0M177.4 217.9v1.0M177.6 249.8v1.2M177.4 246.7v1.7M178.4 238.8v1.1M178.8 225.3v1.0M182.6 220.4v2.1M184.7 256.1v1.4M184.8 233.7v0.9M185.5 239.0v0.9M186.1 257.5v1.8M186.8 243.5v1.9M186.4 246.4v2.4M186.8 240.7v1.9M187.2 258.7v2.4M187.7 255.9v2.1M188.3 241.3v1.2M188.3 242.9v1.9M188.7 256.1v1.7M189.8 258.1v1.1M189.5 252.7v2.3M189.3 244.5v2.4M190.4 242.3v1.1M190.5 249.5v2.4M190.8 245.1v0.8M190.3 238.4v1.7M191.7 260.0v2.4M191.8 249.2v1.7M191.6 245.8v0.9M191.1 231.0v2.5M191.3 257.0v2.2M192.7 248.3v1.2M192.2 244.1v2.0M192.2 251.7v1.5M192.5 229.6v1.0M193.3 255.2v2.4M194.1 230.5v2.2M194.2 235.3v1.9M194.1 254.9v1.7M194.7 220.9v2.2M195.8 245.3v1.7M195.4 250.9v1.1M195.8 257.1v2.3M196.3 251.4v0.9M197.3 241.8v0.8M198.4 255.8v1.6M198.5 252.6v2.2M199.7 231.1v1.6M199.4 228.3v2.1M199.4 223.4v2.3M200.2 238.6v2.0M200.8 220.1v1.0M200.8 200.1v1.9M201.8 217.1v1.5M201.4 215.2v1.9M201.4 217.9v0.8M201.1 238.3v1.8M201.8 232.7v0.9M202.2 213.1v2.3M202.8 226.4v1.6M202.3 216.4v1.9M203.7 232.4v2.0M203.3 242.0v1.7M203.6 247.3v1.8M204.4 260.7v2.3M204.2 255.5v1.7M204.4 210.4v2.5M204.4 214.3v1.5M204.4 240.0v2.0M205.8 238.2v1.6M206.5 237.9v1.9M206.7 221.2v2.3M206.2 238.9v0.9M207.5 220.7v2.0M208.4 209.2v2.1M209.1 214.5v2.3M210.8 217.5v1.4M211.6 218.3v2.0M211.2 218.6v1.1M212.4 230.6v2.1M212.8 223.9v2.2M212.8 204.7v2.0M212.6 210.9v1.5M214.6 219.5v2.1M214.5 205.5v1.5M215.7 226.8v1.6M216.9 232.4v0.8M216.3 220.4v1.7M216.2 218.7v1.5M217.4 218.2v2.2M217.6 228.0v1.9M217.3 214.7v2.3M218.4 234.9v1.7M219.2 229.5v1.9M220.5 241.0v2.3M220.8 203.1v2.3M220.4 219.0v2.3M220.8 239.1v1.9M220.5 221.0v1.0M221.6 216.9v0.9M221.3 225.7v1.6M221.2 230.3v1.5M221.2 227.1v1.9M222.3 220.6v1.6M222.2 224.8v2.3M222.1 208.8v2.0M223.7 225.5v1.1M223.9 212.7v1.8M223.8 225.1v2.3M224.8 234.3v1.3M224.7 234.4v1.1M224.4 235.9v1.7M224.4 222.0v1.8M225.7 234.9v0.9M225.9 242.2v1.0M225.7 214.4v0.8M225.8 221.3v2.3M226.8 221.5v2.1M226.3 247.3v0.9M227.5 257.9v1.0M228.8 237.0v2.0M228.5 232.8v0.9M229.6 244.8v1.0M229.3 239.8v1.4M229.9 235.9v2.1M229.5 247.6v1.3M230.1 219.8v1.2M230.4 244.0v1.1M230.3 231.8v1.1M230.7 224.4v1.7M231.2 216.0v2.2M231.7 236.6v2.4M232.9 230.9v0.9M232.3 215.0v1.9M232.5 233.7v2.4M233.9 225.8v1.6M233.2 233.7v1.0M234.4 221.7v1.1M234.8 225.7v2.3M235.1 226.3v2.1M235.6 229.7v2.1M236.2 194.8v0.8M236.5 198.8v1.1M236.7 226.3v2.4M236.8 201.4v0.8M236.8 242.0v1.7M237.9 235.1v2.5M237.8 209.8v1.4M237.1 225.6v0.9M237.6 225.3v2.4M237.4 235.2v1.5M238.2 234.7v2.1M238.3 221.4v1.3M238.9 242.5v1.9M238.2 242.2v2.3M238.3 243.2v0.8M239.3 251.2v1.7M239.2 246.4v1.4M239.5 240.2v2.3M239.9 236.9v2.2M240.4 240.6v2.4M240.5 230.7v2.3M241.2 235.7v1.5M241.8 239.6v0.8M242.7 234.3v2.2M242.8 230.3v1.0M243.7 213.8v1.3M243.6 247.9v1.9M243.3 211.6v2.0M243.8 213.6v1.5M243.5 215.5v2.4M244.3 220.4v1.4M244.3 233.9v2.0M244.1 224.2v1.0M245.4 217.9v0.8M245.7 206.7v2.1M245.6 230.1v2.1M246.3 220.3v2.3M246.6 230.6v0.9M246.4 230.5v1.6M246.8 238.7v2.2M247.1 207.4v2.4M247.5 236.2v1.9M247.7 219.6v0.9M248.8 236.3v1.3M248.7 222.0v0.8M249.7 232.2v1.0M249.7 252.3v2.1M249.5 233.5v1.8M249.3 220.7v2.3M250.2 227.2v2.2M251.5 228.8v0.9M251.2 224.8v2.0M252.6 213.7v1.0M252.2 210.0v0.9M252.2 213.4v1.5M254.5 235.7v1.6M255.3 230.2v1.4M255.3 237.5v2.3M255.7 242.2v1.1M256.4 234.8v2.4M257.8 228.1v2.0" stroke="#1d3a4a" stroke-width="0.6" stroke-opacity="0.8"/>
<rect x="34.5" y="296.0" width="1" height="1" fill="#4a78c8"/>
<rect x="34.5" y="289.7" width="1" height="1" fill="#4a78c8"/>
<rect x="34.6" y="292.8" width="1" height="1" fill="#4a78c8"/>
<rect x="98.0" y="234.7" width="1" height="1" fill="#0e0e14"/>
<rect x="98.0" y="243.2" width="1" height="1" fill="#4a78c8"/>
<rect x="98.1" y="247.9" width="1" height="1" fill="#0e0e14"/>
<rect x="98.1" y="251.1" width="1" height="1" fill="#0e0e14"/>
<rect x="89.3" y="248.5" width="1" height="1" fill="#4a78c8"/>
<rect x="89.3" y="251.6" width="1" height="1" fill="#4a78c8"/>
<rect x="69.6" y="247.4" width="1" height="1" fill="#0e0e14"/>
<rect x="151.7" y="274.6" width="1" height="1" fill="#4a78c8"/>
<rect x="151.7" y="278.3" width="1" height="1" fill="#4a78c8"/>
<rect x="151.7" y="281.0" width="1" height="1" fill="#4a78c8"/>
<rect x="160.5" y="258.0" width="1" height="1" fill="#4a78c8"/>
<rect x="190.3" y="268.2" width="1" height="1" fill="#4a78c8"/></g>
<g class="tk" style="font-size:5.5px">
<text x="19.45" y="272.06" text-anchor="end">5</text>
<text x="19.45" y="245.65" text-anchor="end">10</text>
<text x="19.45" y="219.24" text-anchor="end">15</text>
<text x="19.45" y="192.83" text-anchor="end">20</text>
<text x="65.18" y="310.57" text-anchor="middle">10,000</text>
<text x="96.75" y="310.57" text-anchor="middle">20,000</text>
<text x="128.33" y="310.57" text-anchor="middle">30,000</text>
<text x="159.90" y="310.57" text-anchor="middle">40,000</text>
<text x="191.47" y="310.57" text-anchor="middle">50,000</text>
<text x="223.05" y="310.57" text-anchor="middle">60,000</text>
<text x="254.63" y="310.57" text-anchor="middle">70,000</text>
<text x="145.90" y="317.27" text-anchor="middle">Item number (5min average)</text>
<text transform="translate(10.97,238.20) rotate(-90)" text-anchor="middle">ug/m3</text>
</g>
<text x="266.00" y="325.90" text-anchor="end" class="pl" style="stroke:#1e1e1e;stroke-width:0.35px">(c)</text>
<rect x="25.8" y="174.0" width="43.7" height="22.0" fill="#efeff5" stroke="#dcdce4" stroke-width="0.5" rx="0.8"/>
<rect x="32.7" y="177.6" width="1.2" height="1.2" fill="#4a78c8"/>
<rect x="32.7" y="184.3" width="1.3" height="1.3" fill="#0e0e14"/>
<path d="M27.5 191.4H38.7" stroke="#86cadc" stroke-width="1.2"/>
<text x="42.6" y="180.0" class="lg" style="font-size:4.95px">Train</text>
<text x="42.6" y="186.8" class="lg" style="font-size:4.95px">Test</text>
<text x="42.6" y="193.2" class="lg" style="font-size:4.95px">Predictions</text>
<rect x="24.3" y="301.5" width="25.7" height="0.9" fill="#eaeaf2"/>
<rect x="295.0" y="176.2" width="243.7" height="126.3" fill="#eaeaf2"/>
<g fill="none"><path d="M305.0 256.9h1M305.0 276.6h1M305.0 283.9h1M305.0 274.8h1M306.0 255.3h1M306.0 282.2h1M306.0 275.5h1M306.0 259.6h1M306.0 259.1h1M306.0 255.9h1M306.0 267.0h1M307.0 253.7h1M307.0 268.7h1M307.0 259.3h1M308.0 251.5h1M308.0 277.4h1M308.0 253.5h1M308.0 277.5h1M308.0 268.2h1M308.0 269.4h1M308.0 256.9h1M309.0 250.1h1M309.0 257.4h1M309.0 255.0h1M309.0 265.8h1M309.0 270.9h1M310.0 268.5h1M310.0 255.2h1M311.0 246.0h1M311.0 259.9h1M311.0 259.5h1M312.0 261.0h1M312.0 265.2h1M312.0 254.7h1M312.0 265.4h1M313.0 251.5h1M313.0 267.0h1M313.0 266.1h1M313.0 251.6h1M313.0 261.0h1M314.0 247.9h1M314.0 268.1h1M314.0 266.2h1M314.0 259.4h1M314.0 249.1h1M314.0 258.5h1M314.0 259.0h1M315.0 236.7h1M315.0 275.2h1M315.0 250.6h1M315.0 245.7h1M315.0 255.8h1M315.0 268.3h1M315.0 255.2h1M315.0 267.1h1M315.0 239.2h1M315.0 253.1h1M315.0 239.8h1M316.0 248.6h1M316.0 277.7h1M316.0 265.1h1M316.0 276.5h1M316.0 252.2h1M316.0 267.1h1M316.0 263.1h1M317.0 259.1h1M317.0 261.1h1M318.0 261.2h1M318.0 278.7h1M318.0 276.7h1M318.0 273.7h1M318.0 269.5h1M319.0 282.3h1M319.0 281.5h1M319.0 267.5h1M319.0 271.2h1M319.0 274.2h1M320.0 255.0h1M320.0 272.0h1M320.0 270.9h1M320.0 268.3h1M320.0 264.2h1M320.0 262.1h1M320.0 273.4h1M320.0 281.1h1M321.0 285.3h1M321.0 282.1h1M321.0 272.5h1M321.0 267.8h1M321.0 268.3h1M321.0 264.6h1M322.0 264.3h1M322.0 269.7h1M322.0 268.4h1M322.0 277.3h1M322.0 272.1h1M323.0 281.9h1M323.0 265.9h1M323.0 277.9h1M323.0 264.4h1M323.0 273.2h1M323.0 264.7h1M323.0 273.6h1M324.0 278.9h1M324.0 266.5h1M324.0 271.9h1M324.0 260.7h1M324.0 260.9h1M325.0 259.3h1M325.0 286.1h1M325.0 263.3h1M325.0 276.5h1M325.0 268.9h1M326.0 277.6h1M326.0 272.5h1M326.0 273.6h1M326.0 268.4h1M327.0 275.6h1M327.0 267.2h1M327.0 271.9h1M328.0 249.5h1M328.0 273.2h1M328.0 272.4h1M328.0 259.8h1M328.0 252.8h1M328.0 261.1h1M328.0 256.5h1M328.0 261.5h1M329.0 236.3h1M329.0 279.3h1M329.0 271.6h1M329.0 262.6h1M329.0 243.1h1M329.0 266.0h1M329.0 236.5h1M329.0 249.5h1M329.0 258.5h1M329.0 258.6h1M330.0 250.9h1M330.0 259.7h1M330.0 254.5h1M330.0 255.1h1M330.0 253.3h1M330.0 265.9h1M330.0 265.8h1M331.0 257.5h1M331.0 275.8h1M331.0 283.1h1M331.0 262.8h1M332.0 251.3h1M332.0 282.7h1M332.0 278.4h1M332.0 256.0h1M332.0 260.1h1M332.0 280.1h1M332.0 259.1h1M333.0 241.0h1M333.0 279.7h1M333.0 268.4h1M333.0 275.5h1M333.0 244.8h1M333.0 248.2h1M333.0 269.9h1M333.0 267.8h1M333.0 277.5h1M333.0 273.6h1M333.0 242.8h1M333.0 243.9h1M334.0 276.4h1M334.0 268.8h1M334.0 256.6h1M334.0 265.7h1M334.0 275.4h1M334.0 244.2h1M334.0 248.6h1M334.0 276.0h1M334.0 248.0h1M335.0 242.0h1M335.0 274.9h1M335.0 247.4h1M335.0 270.8h1M335.0 261.5h1M335.0 268.7h1M335.0 273.2h1M336.0 283.3h1M336.0 269.5h1M336.0 245.4h1M336.0 270.6h1M336.0 281.5h1M336.0 250.9h1M337.0 260.3h1M337.0 262.2h1M337.0 274.7h1M337.0 275.3h1M337.0 283.4h1M337.0 277.2h1M338.0 266.8h1M338.0 281.3h1M338.0 281.9h1M338.0 284.8h1M338.0 273.5h1M339.0 288.8h1M339.0 283.9h1M339.0 277.5h1M339.0 281.3h1M339.0 287.6h1M339.0 273.1h1M339.0 270.0h1M340.0 280.5h1M340.0 273.0h1M340.0 261.2h1M340.0 266.6h1M340.0 276.3h1M341.0 260.3h1M341.0 288.3h1M341.0 290.7h1M341.0 273.9h1M341.0 271.7h1M341.0 280.8h1M341.0 274.6h1M341.0 261.7h1M342.0 263.9h1M342.0 289.4h1M342.0 276.3h1M342.0 265.9h1M342.0 286.0h1M342.0 275.6h1M343.0 262.8h1M343.0 271.1h1M343.0 268.8h1M343.0 265.0h1M343.0 280.0h1M344.0 251.3h1M344.0 280.5h1M344.0 273.1h1M344.0 271.5h1M344.0 274.1h1M344.0 279.8h1M344.0 266.2h1M344.0 276.7h1M344.0 266.4h1M345.0 286.4h1M345.0 274.2h1M345.0 261.9h1M345.0 273.6h1M345.0 270.3h1M345.0 263.9h1M345.0 273.2h1M346.0 262.2h1M346.0 288.7h1M346.0 281.5h1M346.0 266.1h1M346.0 278.7h1M347.0 292.4h1M347.0 284.9h1M347.0 274.3h1M347.0 274.1h1M347.0 271.5h1M347.0 267.5h1M348.0 276.6h1M349.0 254.5h1M349.0 276.8h1M349.0 272.5h1M349.0 274.5h1M349.0 281.6h1M349.0 257.1h1M349.0 256.7h1M350.0 265.1h1M350.0 283.2h1M350.0 279.3h1M351.0 261.8h1M351.0 282.5h1M351.0 280.2h1M351.0 266.8h1M351.0 272.6h1M351.0 279.2h1M352.0 256.9h1M352.0 278.7h1M352.0 273.5h1M352.0 283.4h1M352.0 277.5h1M352.0 270.4h1M352.0 260.9h1M353.0 260.2h1M353.0 289.1h1M353.0 279.6h1M353.0 288.2h1M353.0 262.2h1M353.0 283.9h1M353.0 270.6h1M353.0 275.8h1M354.0 267.3h1M354.0 278.9h1M354.0 272.3h1M354.0 277.0h1M354.0 268.4h1M355.0 267.2h1M355.0 268.2h1M356.0 263.8h1M356.0 288.5h1M356.0 280.0h1M356.0 266.4h1M356.0 265.8h1M356.0 271.6h1M356.0 281.6h1M357.0 275.4h1M357.0 283.4h1M357.0 279.9h1M357.0 281.9h1M357.0 277.8h1M358.0 266.1h1M358.0 292.6h1M358.0 286.0h1M358.0 267.4h1M358.0 291.5h1M358.0 286.0h1M358.0 270.5h1M358.0 266.9h1M359.0 262.6h1M359.0 293.2h1M359.0 286.8h1M359.0 267.2h1M359.0 271.2h1M359.0 282.0h1M359.0 283.6h1M359.0 280.5h1M359.0 267.2h1M360.0 251.5h1M360.0 283.7h1M360.0 261.6h1M360.0 262.8h1M360.0 282.1h1M360.0 286.6h1M360.0 286.6h1M360.0 281.2h1M360.0 252.0h1M360.0 269.3h1M361.0 292.5h1M361.0 268.8h1M361.0 278.3h1M361.0 276.0h1M361.0 280.8h1M361.0 268.3h1M361.0 282.4h1M362.0 271.8h1M362.0 291.9h1M362.0 277.3h1M362.0 279.3h1M362.0 275.4h1M363.0 274.7h1M363.0 295.6h1M363.0 281.7h1M363.0 294.4h1M363.0 279.7h1M363.0 286.0h1M364.0 273.8h1M364.0 287.4h1M364.0 291.9h1M364.0 284.4h1M364.0 289.6h1M365.0 275.5h1M365.0 281.9h1M366.0 273.5h1M366.0 294.3h1M366.0 276.5h1M366.0 281.3h1M367.0 275.7h1M367.0 276.9h1M367.0 279.6h1M368.0 269.7h1M368.0 287.5h1M368.0 288.0h1M368.0 274.7h1M368.0 273.4h1M369.0 264.4h1M369.0 290.2h1M369.0 271.5h1M369.0 267.3h1M369.0 275.5h1M369.0 285.4h1M369.0 264.7h1M369.0 286.8h1M370.0 251.4h1M370.0 290.4h1M370.0 287.0h1M370.0 253.9h1M370.0 266.2h1M370.0 275.1h1M370.0 278.5h1M371.0 262.9h1M371.0 292.1h1M371.0 274.0h1M371.0 276.2h1M371.0 280.6h1M371.0 287.7h1M372.0 269.0h1M372.0 293.8h1M372.0 288.8h1M372.0 274.9h1M372.0 277.0h1M372.0 281.4h1M372.0 292.9h1M372.0 282.1h1M372.0 274.0h1M373.0 291.2h1M373.0 288.0h1M373.0 275.8h1M374.0 277.8h1M374.0 280.9h1M374.0 276.0h1M374.0 278.6h1M375.0 286.4h1M375.0 274.7h1M375.0 274.8h1M375.0 279.6h1M376.0 261.9h1M376.0 270.9h1M376.0 267.6h1M376.0 267.4h1M377.0 267.1h1M377.0 286.8h1M377.0 280.9h1M377.0 284.1h1M377.0 271.0h1M377.0 272.7h1M378.0 260.6h1M378.0 269.9h1M378.0 265.6h1M378.0 261.1h1M379.0 256.2h1M379.0 269.8h1M379.0 263.6h1M379.0 269.6h1M379.0 257.3h1M379.0 279.3h1M379.0 273.7h1M380.0 254.1h1M380.0 285.5h1M380.0 258.7h1M380.0 267.8h1M380.0 267.3h1M380.0 264.1h1M380.0 273.3h1M380.0 267.2h1M381.0 251.5h1M381.0 284.7h1M381.0 259.2h1M381.0 263.6h1M381.0 257.8h1M381.0 278.4h1M381.0 270.3h1M382.0 246.9h1M382.0 269.6h1M382.0 270.4h1M382.0 271.6h1M382.0 266.8h1M382.0 265.7h1M382.0 259.1h1M383.0 240.3h1M383.0 282.2h1M383.0 266.4h1M383.0 262.0h1M383.0 263.0h1M383.0 247.7h1M383.0 276.0h1M383.0 258.9h1M383.0 254.0h1M383.0 243.1h1M384.0 251.1h1M384.0 282.9h1M384.0 281.8h1M384.0 269.3h1M384.0 264.7h1M384.0 273.4h1M384.0 259.1h1M384.0 279.7h1M384.0 281.5h1M384.0 257.8h1M385.0 255.9h1M385.0 276.8h1M385.0 286.2h1M385.0 280.5h1M385.0 262.2h1M385.0 264.3h1M385.0 285.1h1M385.0 263.0h1M385.0 276.4h1M386.0 280.1h1M386.0 257.9h1M386.0 273.3h1M386.0 269.2h1M386.0 257.4h1M386.0 275.6h1M387.0 239.4h1M387.0 277.0h1M387.0 275.5h1M387.0 267.2h1M387.0 242.2h1M387.0 244.5h1M387.0 263.0h1M387.0 261.7h1M387.0 255.1h1M387.0 275.1h1M388.0 265.2h1M388.0 262.0h1M388.0 275.5h1M388.0 274.5h1M388.0 254.7h1M388.0 272.5h1M388.0 267.4h1M388.0 261.1h1M389.0 250.6h1M389.0 280.1h1M389.0 269.1h1M389.0 257.6h1M389.0 258.8h1M389.0 258.0h1M389.0 257.6h1M390.0 262.7h1M390.0 282.6h1M390.0 274.6h1M390.0 271.5h1M390.0 275.2h1M390.0 269.2h1M391.0 261.0h1M391.0 284.4h1M391.0 274.4h1M391.0 269.9h1M391.0 265.7h1M391.0 278.0h1M392.0 261.7h1M392.0 261.9h1M392.0 276.9h1M392.0 273.5h1M393.0 262.2h1M393.0 263.1h1M393.0 265.9h1M393.0 268.6h1M394.0 264.6h1M394.0 265.1h1M394.0 276.1h1M394.0 270.0h1M395.0 281.0h1M395.0 283.3h1M395.0 284.9h1M395.0 269.6h1M395.0 282.4h1M395.0 274.8h1M396.0 247.7h1M396.0 274.0h1M396.0 264.6h1M396.0 252.5h1M396.0 251.2h1M396.0 254.9h1M396.0 248.1h1M397.0 275.1h1M397.0 270.3h1M397.0 259.7h1M397.0 258.7h1M398.0 258.5h1M398.0 274.3h1M398.0 261.4h1M398.0 271.5h1M398.0 267.0h1M398.0 266.7h1M399.0 260.8h1M399.0 269.4h1M399.0 266.6h1M399.0 286.1h1M399.0 280.2h1M400.0 253.2h1M400.0 288.0h1M400.0 262.1h1M400.0 258.9h1M400.0 266.4h1M400.0 278.2h1M401.0 244.6h1M401.0 276.0h1M401.0 270.7h1M401.0 266.1h1M401.0 263.8h1M401.0 272.7h1M401.0 262.5h1M402.0 279.4h1M402.0 275.3h1M402.0 267.0h1M402.0 278.8h1M403.0 254.2h1M403.0 273.5h1M403.0 267.3h1M403.0 256.4h1M403.0 271.8h1M403.0 258.8h1M403.0 261.6h1M404.0 255.8h1M404.0 273.8h1M404.0 278.5h1M405.0 273.0h1M405.0 241.4h1M405.0 240.8h1M405.0 239.9h1M405.0 254.0h1M405.0 243.0h1M405.0 261.6h1M405.0 266.6h1M405.0 240.8h1M406.0 244.3h1M406.0 253.3h1M406.0 227.6h1M406.0 222.8h1M406.0 257.8h1M406.0 254.4h1M406.0 253.7h1M406.0 252.2h1M406.0 244.6h1M406.0 252.1h1M406.0 221.9h1M406.0 229.7h1M407.0 237.6h1M407.0 240.8h1M407.0 240.9h1M407.0 244.0h1M407.0 246.8h1M407.0 253.5h1M408.0 245.1h1M408.0 246.2h1M408.0 268.7h1M409.0 257.6h1M409.0 266.0h1M409.0 266.2h1M409.0 270.0h1M410.0 264.9h1M410.0 260.5h1M411.0 253.7h1M411.0 256.3h1M411.0 261.2h1M411.0 258.5h1M412.0 243.5h1M412.0 264.3h1M412.0 253.6h1M412.0 250.1h1M412.0 263.2h1M412.0 260.4h1M412.0 254.7h1M413.0 262.3h1M413.0 247.3h1M413.0 249.2h1M413.0 241.4h1M413.0 249.8h1M413.0 255.4h1M413.0 245.6h1M414.0 243.6h1M414.0 251.1h1M414.0 256.7h1M414.0 253.4h1M415.0 245.8h1M415.0 265.2h1M415.0 264.0h1M415.0 249.1h1M415.0 257.3h1M416.0 244.9h1M416.0 257.0h1M416.0 262.6h1M416.0 251.6h1M417.0 237.6h1M417.0 268.0h1M417.0 242.3h1M417.0 239.7h1M417.0 265.9h1M417.0 250.7h1M417.0 262.0h1M418.0 247.1h1M418.0 269.6h1M418.0 266.0h1M418.0 267.4h1M418.0 260.8h1M418.0 266.0h1M419.0 266.8h1M419.0 270.8h1M419.0 253.3h1M420.0 232.9h1M420.0 269.9h1M420.0 266.4h1M420.0 264.2h1M420.0 242.5h1M420.0 258.6h1M420.0 246.1h1M420.0 234.7h1M420.0 255.5h1M420.0 254.7h1M420.0 256.6h1M421.0 215.9h1M421.0 264.2h1M421.0 251.7h1M421.0 254.1h1M421.0 223.9h1M421.0 262.0h1M421.0 263.7h1M421.0 264.3h1M421.0 229.0h1M421.0 256.0h1M421.0 219.1h1M421.0 251.5h1M422.0 230.4h1M422.0 261.5h1M422.0 257.0h1M422.0 243.1h1M422.0 249.9h1M422.0 261.1h1M423.0 273.7h1M423.0 242.8h1M423.0 257.6h1M423.0 258.2h1M423.0 250.7h1M423.0 265.9h1M423.0 262.7h1M423.0 239.9h1M424.0 232.1h1M424.0 241.0h1M424.0 236.3h1M424.0 244.5h1M424.0 251.1h1M424.0 239.1h1M425.0 228.9h1M425.0 244.4h1M425.0 236.4h1M425.0 246.1h1M426.0 217.8h1M426.0 260.4h1M426.0 251.8h1M426.0 232.7h1M426.0 254.5h1M426.0 235.7h1M426.0 257.4h1M426.0 227.4h1M426.0 223.1h1M426.0 255.9h1M426.0 222.6h1M426.0 245.6h1M427.0 229.1h1M427.0 249.2h1M427.0 232.2h1M427.0 243.5h1M427.0 245.0h1M427.0 241.3h1M427.0 235.6h1M428.0 229.8h1M428.0 237.9h1M428.0 230.5h1M428.0 231.9h1M428.0 243.6h1M429.0 239.4h1M429.0 239.0h1M429.0 244.9h1M430.0 222.9h1M430.0 253.9h1M430.0 245.0h1M430.0 227.4h1M430.0 237.1h1M430.0 230.4h1M430.0 232.2h1M430.0 239.3h1M430.0 233.6h1M431.0 226.9h1M431.0 258.6h1M431.0 236.7h1M431.0 251.2h1M431.0 257.6h1M431.0 227.7h1M431.0 257.6h1M431.0 252.1h1M431.0 255.8h1M432.0 246.5h1M432.0 219.2h1M432.0 233.8h1M432.0 248.1h1M432.0 234.3h1M432.0 231.1h1M433.0 208.1h1M433.0 229.9h1M433.0 227.9h1M433.0 240.8h1M433.0 243.9h1M433.0 223.3h1M433.0 216.4h1M433.0 222.4h1M433.0 222.8h1M433.0 214.3h1M433.0 230.1h1M434.0 236.5h1M434.0 235.3h1M434.0 219.8h1M435.0 201.1h1M435.0 230.0h1M435.0 223.5h1M435.0 211.8h1M435.0 220.4h1M436.0 226.5h1M436.0 219.3h1M436.0 210.9h1M436.0 203.8h1M436.0 216.7h1M436.0 212.5h1M436.0 215.9h1M437.0 231.7h1M437.0 213.1h1M437.0 193.5h1M437.0 202.7h1M437.0 196.6h1M437.0 205.2h1M438.0 193.7h1M438.0 229.2h1M438.0 220.0h1M438.0 207.6h1M438.0 200.8h1M438.0 197.1h1M438.0 228.4h1M438.0 220.9h1M438.0 236.5h1M438.0 224.4h1M438.0 228.4h1M439.0 210.8h1M439.0 227.8h1M439.0 230.7h1M439.0 214.1h1M439.0 229.2h1M439.0 235.8h1M439.0 211.0h1M440.0 239.9h1M440.0 206.4h1M440.0 238.8h1M440.0 202.6h1M440.0 222.6h1M440.0 215.1h1M440.0 230.1h1M440.0 205.5h1M440.0 205.9h1M440.0 233.2h1M441.0 185.3h1M441.0 234.9h1M441.0 205.5h1M441.0 227.8h1M441.0 188.4h1M441.0 228.9h1M441.0 222.4h1M441.0 192.6h1M441.0 222.6h1M441.0 218.8h1M441.0 224.0h1M441.0 220.0h1M442.0 230.4h1M442.0 227.2h1M442.0 225.6h1M442.0 229.0h1M442.0 196.6h1M442.0 224.4h1M442.0 202.3h1M442.0 204.3h1M442.0 223.1h1M442.0 212.0h1M443.0 198.2h1M443.0 201.1h1M443.0 231.7h1M443.0 199.5h1M443.0 207.7h1M443.0 215.2h1M444.0 210.7h1M444.0 224.1h1M444.0 224.6h1M444.0 223.6h1M444.0 230.4h1M444.0 232.0h1M444.0 239.9h1M445.0 216.3h1M445.0 250.4h1M445.0 243.2h1M445.0 242.3h1M445.0 226.7h1M445.0 247.0h1M445.0 244.5h1M445.0 229.0h1M445.0 246.7h1M446.0 220.1h1M446.0 235.9h1M446.0 245.2h1M446.0 238.4h1M446.0 245.6h1M446.0 212.3h1M446.0 219.3h1M446.0 242.6h1M446.0 215.7h1M446.0 254.2h1M446.0 236.7h1M447.0 254.0h1M447.0 206.7h1M447.0 222.9h1M447.0 238.2h1M447.0 229.4h1M447.0 220.1h1M447.0 234.4h1M447.0 246.3h1M447.0 230.4h1M447.0 216.1h1M448.0 218.2h1M448.0 254.6h1M448.0 223.0h1M448.0 239.2h1M448.0 234.3h1M448.0 240.8h1M448.0 227.2h1M448.0 225.0h1M448.0 248.4h1M448.0 245.2h1M449.0 258.1h1M449.0 235.6h1M449.0 237.9h1M449.0 237.3h1M449.0 238.6h1M449.0 247.4h1M449.0 226.8h1M449.0 248.9h1M450.0 220.7h1M450.0 251.6h1M450.0 224.1h1M450.0 246.7h1M450.0 232.6h1M450.0 243.1h1M451.0 245.9h1M451.0 214.6h1M451.0 240.8h1M451.0 213.4h1M451.0 238.5h1M451.0 217.6h1M451.0 219.5h1M451.0 240.5h1M452.0 219.5h1M452.0 238.8h1M452.0 229.8h1M452.0 224.9h1M452.0 223.6h1M452.0 238.7h1M453.0 222.5h1M453.0 229.7h1M453.0 229.3h1M454.0 224.0h1M454.0 234.4h1M454.0 229.0h1M454.0 229.5h1M454.0 226.1h1M455.0 254.3h1M455.0 249.5h1M455.0 239.5h1M455.0 239.2h1M455.0 238.5h1M455.0 252.6h1M455.0 228.5h1M456.0 217.9h1M456.0 233.8h1M456.0 257.9h1M456.0 220.4h1M456.0 237.7h1M456.0 221.5h1M456.0 260.0h1M457.0 259.4h1M457.0 241.9h1M457.0 243.1h1M457.0 258.2h1M457.0 256.5h1M457.0 259.0h1M457.0 246.2h1M458.0 236.2h1M458.0 252.5h1M458.0 240.2h1M458.0 248.9h1M458.0 260.5h1M458.0 237.6h1M459.0 240.6h1M459.0 261.2h1M459.0 253.8h1M459.0 243.6h1M459.0 257.6h1M460.0 237.4h1M460.0 259.6h1M461.0 234.8h1M461.0 267.0h1M461.0 244.5h1M461.0 238.4h1M461.0 252.3h1M461.0 260.0h1M461.0 254.9h1M461.0 237.5h1M461.0 245.1h1M461.0 254.4h1M462.0 239.1h1M462.0 261.7h1M462.0 250.4h1M462.0 247.9h1M463.0 227.1h1M463.0 254.5h1M463.0 243.3h1M463.0 243.0h1M463.0 230.8h1M463.0 240.3h1M463.0 254.2h1M464.0 221.5h1M464.0 260.8h1M464.0 237.6h1M464.0 252.0h1M464.0 234.8h1M464.0 229.8h1M464.0 257.5h1M464.0 239.6h1M464.0 243.0h1M464.0 239.3h1M464.0 236.5h1M465.0 238.0h1M465.0 232.8h1M465.0 259.4h1M465.0 247.2h1M465.0 241.1h1M465.0 247.0h1M465.0 254.6h1M465.0 244.7h1M465.0 222.1h1M465.0 242.6h1M466.0 261.4h1M466.0 252.0h1M466.0 259.7h1M466.0 231.0h1M466.0 253.4h1M466.0 237.2h1M466.0 260.3h1M466.0 251.7h1M467.0 238.0h1M467.0 261.1h1M467.0 258.1h1M467.0 255.4h1M467.0 250.7h1M467.0 253.2h1M467.0 255.1h1M468.0 240.3h1M468.0 257.2h1M468.0 245.6h1M468.0 254.0h1M469.0 242.4h1M469.0 257.5h1M469.0 254.9h1M469.0 254.5h1M469.0 251.1h1M469.0 244.1h1M470.0 257.9h1M470.0 222.8h1M470.0 238.0h1M470.0 220.5h1M470.0 236.6h1M470.0 231.9h1M470.0 253.9h1M470.0 248.9h1M470.0 234.0h1M471.0 252.1h1M471.0 235.4h1M471.0 242.7h1M471.0 229.3h1M471.0 198.4h1M471.0 226.0h1M471.0 224.7h1M471.0 198.1h1M471.0 202.4h1M471.0 245.4h1M471.0 221.2h1M471.0 214.1h1M472.0 242.6h1M472.0 211.6h1M472.0 221.9h1M472.0 230.5h1M472.0 228.8h1M472.0 225.0h1M473.0 214.8h1M473.0 248.1h1M473.0 228.5h1M473.0 238.8h1M473.0 238.7h1M473.0 219.9h1M473.0 216.4h1M473.0 244.7h1M473.0 242.1h1M473.0 235.2h1M473.0 223.0h1M474.0 216.0h1M474.0 252.8h1M474.0 230.4h1M474.0 226.9h1M474.0 245.3h1M474.0 225.7h1M474.0 241.0h1M474.0 235.4h1M475.0 208.9h1M475.0 216.2h1M475.0 235.5h1M475.0 252.4h1M475.0 232.9h1M475.0 244.6h1M475.0 229.0h1M475.0 217.7h1M475.0 256.8h1M475.0 258.5h1M475.0 234.0h1M475.0 226.8h1M475.0 221.6h1M476.0 215.3h1M476.0 234.3h1M476.0 255.4h1M476.0 226.8h1M476.0 218.5h1M476.0 251.9h1M476.0 239.3h1M477.0 251.7h1M477.0 240.9h1M477.0 224.4h1M477.0 226.1h1M477.0 246.6h1M478.0 213.1h1M478.0 238.2h1M478.0 235.0h1M478.0 230.0h1M478.0 214.6h1M478.0 215.3h1M478.0 235.7h1M478.0 232.6h1M479.0 211.4h1M479.0 231.5h1M479.0 224.7h1M479.0 212.4h1M479.0 213.3h1M480.0 216.8h1M480.0 232.5h1M480.0 219.5h1M480.0 228.5h1M481.0 229.7h1M481.0 233.5h1M481.0 224.0h1M481.0 223.8h1M482.0 215.0h1M482.0 241.2h1M482.0 226.7h1M482.0 219.7h1M482.0 239.4h1M482.0 218.7h1M482.0 230.6h1M482.0 220.1h1M482.0 222.4h1M482.0 238.2h1M483.0 207.6h1M483.0 237.4h1M483.0 228.3h1M483.0 215.7h1M483.0 227.8h1M483.0 236.2h1M483.0 217.5h1M484.0 210.6h1M484.0 230.8h1M484.0 213.4h1M484.0 226.8h1M484.0 227.6h1M484.0 225.5h1M485.0 210.7h1M485.0 228.7h1M485.0 218.8h1M485.0 221.3h1M485.0 225.1h1M485.0 226.4h1M485.0 224.7h1M486.0 208.1h1M486.0 233.9h1M486.0 208.4h1M486.0 216.0h1M486.0 229.3h1M486.0 232.3h1M486.0 218.3h1M486.0 221.3h1M486.0 222.5h1M487.0 214.5h1M487.0 234.7h1M487.0 225.0h1M487.0 219.4h1M488.0 219.0h1M488.0 217.0h1M488.0 223.6h1M488.0 220.1h1M489.0 214.6h1M489.0 233.4h1M489.0 227.7h1M489.0 230.2h1M489.0 226.9h1M490.0 219.8h1M490.0 232.1h1M490.0 229.6h1M491.0 202.9h1M491.0 229.7h1M491.0 234.5h1M491.0 205.5h1M491.0 241.4h1M491.0 240.4h1M491.0 203.7h1M491.0 224.1h1M492.0 191.0h1M492.0 239.6h1M492.0 221.8h1M492.0 236.9h1M492.0 197.5h1M492.0 215.1h1M492.0 223.4h1M492.0 198.0h1M492.0 232.0h1M492.0 229.2h1M492.0 220.0h1M493.0 233.6h1M493.0 194.2h1M493.0 203.1h1M493.0 222.2h1M493.0 221.4h1M493.0 198.8h1M493.0 207.8h1M493.0 217.8h1M493.0 202.2h1M494.0 180.9h1M494.0 208.1h1M494.0 185.0h1M494.0 191.0h1M494.0 183.4h1M494.0 203.3h1M494.0 196.7h1M494.0 182.9h1M494.0 205.4h1M494.0 211.6h1M494.0 215.5h1M494.0 217.5h1M495.0 198.5h1M495.0 245.1h1M495.0 209.3h1M495.0 227.5h1M495.0 222.1h1M495.0 204.7h1M495.0 205.5h1M495.0 220.0h1M495.0 202.4h1M495.0 219.0h1M495.0 219.0h1M495.0 208.5h1M496.0 247.3h1M496.0 217.1h1M496.0 222.7h1M496.0 248.2h1M496.0 216.6h1M496.0 221.4h1M496.0 240.1h1M497.0 220.4h1M497.0 249.3h1M497.0 230.7h1M497.0 235.1h1M497.0 229.7h1M497.0 247.7h1M497.0 239.3h1M497.0 254.9h1M498.0 226.1h1M498.0 255.9h1M498.0 234.9h1M498.0 253.7h1M498.0 238.3h1M498.0 231.8h1M498.0 254.6h1M498.0 250.4h1M498.0 242.3h1M499.0 227.7h1M499.0 248.2h1M499.0 241.8h1M499.0 230.4h1M499.0 240.5h1M499.0 246.5h1M499.0 230.8h1M499.0 230.8h1M499.0 235.3h1M499.0 255.0h1M500.0 252.6h1M500.0 230.7h1M500.0 237.9h1M500.0 235.5h1M500.0 233.4h1M501.0 221.2h1M501.0 251.6h1M501.0 249.8h1M501.0 225.2h1M501.0 242.8h1M501.0 232.8h1M502.0 212.0h1M502.0 246.0h1M502.0 213.7h1M502.0 235.6h1M502.0 223.1h1M502.0 222.1h1M502.0 234.5h1M502.0 213.0h1M502.0 239.5h1M503.0 213.4h1M503.0 242.2h1M503.0 229.2h1M503.0 239.6h1M503.0 232.8h1M503.0 237.2h1M503.0 239.5h1M503.0 232.5h1M503.0 232.1h1M503.0 217.0h1M504.0 218.0h1M504.0 239.5h1M504.0 227.3h1M504.0 237.3h1M504.0 230.3h1M504.0 222.8h1M504.0 226.1h1M505.0 244.0h1M505.0 241.3h1M505.0 232.5h1M505.0 227.1h1M505.0 232.2h1M506.0 249.9h1M506.0 246.5h1M506.0 234.7h1M506.0 244.9h1M506.0 248.6h1M506.0 227.7h1M507.0 207.8h1M507.0 245.9h1M507.0 228.6h1M507.0 245.5h1M507.0 212.1h1M507.0 212.1h1M507.0 225.2h1M507.0 229.0h1M507.0 215.9h1M508.0 189.8h1M508.0 228.4h1M508.0 208.8h1M508.0 213.0h1M508.0 208.8h1M508.0 210.3h1M508.0 225.1h1M508.0 224.7h1M508.0 194.7h1M508.0 221.8h1M508.0 206.3h1M508.0 203.6h1M508.0 241.9h1M508.0 199.0h1M509.0 250.9h1M509.0 226.7h1M509.0 225.4h1M509.0 211.4h1M509.0 236.0h1M509.0 235.4h1M509.0 241.6h1M509.0 207.7h1M509.0 220.2h1M510.0 218.7h1M510.0 256.8h1M510.0 252.6h1M510.0 250.4h1M510.0 254.2h1M510.0 229.7h1M510.0 222.0h1M510.0 223.6h1M510.0 229.1h1M510.0 234.5h1M511.0 261.1h1M511.0 258.9h1M511.0 230.0h1M511.0 252.6h1M511.0 256.6h1M512.0 231.4h1M512.0 240.8h1M512.0 255.9h1M513.0 230.7h1M513.0 252.7h1M513.0 235.6h1M513.0 235.7h1M513.0 236.5h1M513.0 245.4h1M514.0 251.1h1M514.0 219.0h1M514.0 219.6h1M514.0 217.0h1M514.0 212.1h1M514.0 247.0h1M514.0 213.8h1M514.0 213.3h1M514.0 238.2h1M514.0 221.9h1M515.0 192.9h1M515.0 259.7h1M515.0 232.9h1M515.0 214.3h1M515.0 254.6h1M515.0 235.5h1M515.0 208.1h1M515.0 257.5h1M515.0 230.1h1M515.0 203.5h1M515.0 236.8h1M515.0 225.1h1M515.0 246.4h1M515.0 223.9h1M515.0 194.5h1M516.0 203.5h1M516.0 203.8h1M516.0 240.2h1M516.0 216.6h1M516.0 233.9h1M516.0 207.9h1M516.0 240.9h1M516.0 223.6h1M516.0 226.4h1M517.0 212.1h1M517.0 251.6h1M517.0 231.9h1M517.0 231.7h1M517.0 222.5h1M517.0 245.7h1M517.0 250.0h1M517.0 235.2h1M517.0 245.1h1M518.0 213.9h1M518.0 253.1h1M518.0 241.0h1M518.0 227.5h1M518.0 244.5h1M518.0 245.7h1M518.0 238.2h1M519.0 205.1h1M519.0 252.8h1M519.0 245.3h1M519.0 215.2h1M519.0 237.5h1M519.0 245.9h1M519.0 248.9h1M519.0 233.0h1M519.0 214.8h1M519.0 237.3h1M519.0 229.1h1M519.0 250.8h1M519.0 208.4h1M519.0 248.2h1M519.0 225.0h1M520.0 258.7h1M520.0 232.3h1M520.0 221.6h1M520.0 249.5h1M520.0 256.1h1M521.0 220.0h1M521.0 247.2h1M521.0 228.6h1M521.0 222.8h1M521.0 226.4h1M521.0 224.7h1M521.0 238.6h1M522.0 227.2h1M522.0 235.6h1M522.0 231.5h1M522.0 241.7h1M522.0 228.8h1M522.0 234.1h1M522.0 229.1h1M522.0 245.2h1M523.0 223.5h1M523.0 228.0h1M523.0 240.8h1M523.0 247.5h1M523.0 229.6h1M524.0 212.3h1M524.0 247.4h1M524.0 231.0h1M524.0 227.1h1M524.0 234.5h1M524.0 237.0h1M524.0 221.1h1M525.0 222.4h1M525.0 224.9h1M525.0 244.7h1M525.0 249.3h1M525.0 244.9h1M525.0 244.4h1M525.0 241.6h1M525.0 244.7h1M525.0 247.9h1M526.0 227.0h1M526.0 246.6h1M526.0 232.1h1M526.0 240.8h1M526.0 228.1h1M526.0 235.1h1M527.0 227.3h1M527.0 246.9h1M527.0 244.2h1M527.0 245.7h1M527.0 243.0h1M527.0 233.5h1M527.0 237.4h1M528.0 228.8h1M528.0 231.7h1" stroke="#4a78c8" stroke-width="1"/>
<path d="M305.5 255.3V292.8M306.5 255.0V291.4M307.5 252.3V283.4M308.5 250.8V280.7M309.5 249.2V274.7M310.5 249.4V270.4M311.5 245.7V265.7M312.5 251.9V266.4M313.5 251.1V269.5M314.5 247.6V272.3M315.5 237.0V276.4M316.5 248.5V278.1M317.5 259.3V278.0M318.5 260.8V279.0M319.5 263.3V282.3M320.5 255.6V282.7M321.5 264.3V285.1M322.5 265.1V283.5M323.5 259.7V282.5M324.5 254.8V278.5M325.5 258.7V285.8M326.5 263.1V278.4M327.5 263.4V275.8M328.5 249.5V273.3M329.5 236.1V279.2M330.5 248.7V281.2M331.5 257.6V286.5M332.5 250.9V282.8M333.5 239.8V279.5M334.5 242.2V277.0M335.5 242.3V275.9M336.5 244.2V284.2M337.5 261.5V286.9M338.5 266.0V287.5M339.5 261.8V288.9M340.5 249.2V290.4M341.5 259.4V292.8M342.5 264.7V289.2M343.5 260.4V282.5M344.5 250.8V280.8M345.5 255.0V286.4M346.5 261.0V289.1M347.5 265.0V292.8M348.5 264.3V285.8M349.5 255.2V283.2M350.5 264.9V283.0M351.5 261.4V282.8M352.5 253.5V285.1M353.5 259.9V289.3M354.5 266.5V289.4M355.5 264.1V291.4M356.5 263.9V288.3M357.5 260.9V291.3M358.5 266.6V293.3M359.5 261.0V293.6M360.5 250.9V291.4M361.5 263.3V295.7M362.5 272.1V297.0M363.5 273.9V296.0M364.5 274.5V293.6M365.5 273.8V290.5M366.5 273.5V294.2M367.5 273.5V291.3M368.5 270.0V294.2M369.5 264.1V290.1M370.5 252.7V290.9M371.5 264.3V291.9M372.5 268.9V294.2M373.5 271.1V290.9M374.5 270.9V286.6M375.5 270.7V286.5M376.5 262.0V287.4M377.5 265.6V287.7M378.5 259.1V288.6M379.5 255.7V285.2M380.5 254.5V285.4M381.5 252.1V285.4M382.5 247.2V287.2M383.5 239.6V282.5M384.5 251.2V283.2M385.5 256.3V287.9M386.5 253.2V281.4M387.5 240.0V277.6M388.5 249.3V277.4M389.5 250.5V280.9M390.5 262.1V282.3M391.5 261.1V284.4M392.5 261.2V280.1M393.5 261.8V280.5M394.5 262.0V280.9M395.5 258.5V286.5M396.5 247.4V279.0M397.5 257.9V274.7M398.5 259.4V274.0M399.5 259.4V293.5M400.5 254.1V287.9M401.5 243.2V275.7M402.5 253.0V280.2M403.5 254.0V274.4M404.5 254.3V280.2M405.5 237.6V273.8M406.5 221.0V267.6M407.5 237.2V265.1M408.5 245.4V270.0M409.5 257.5V272.8M410.5 258.2V276.1M411.5 254.4V268.4M412.5 244.5V265.6M413.5 234.8V263.0M414.5 243.8V264.3M415.5 245.5V264.9M416.5 246.0V264.9M417.5 237.9V268.2M418.5 247.2V272.5M419.5 246.0V275.3M420.5 232.5V270.5M421.5 215.5V265.4M422.5 230.7V262.1M423.5 234.8V274.2M424.5 231.2V253.8M425.5 227.9V254.3M426.5 217.0V260.7M427.5 229.5V249.0M428.5 229.1V247.1M429.5 231.5V250.4M430.5 222.8V254.5M431.5 225.9V259.3M432.5 217.0V252.8M433.5 208.3V246.1M434.5 217.2V236.8M435.5 202.1V230.6M436.5 188.6V227.6M437.5 191.4V232.8M438.5 193.0V240.3M439.5 205.5V247.4M440.5 200.7V241.0M441.5 186.3V235.1M442.5 196.1V230.5M443.5 198.8V237.1M444.5 211.9V244.4M445.5 215.7V250.6M446.5 198.7V256.5M447.5 204.3V254.3M448.5 218.7V255.8M449.5 225.1V257.9M450.5 220.2V252.2M451.5 210.5V245.8M452.5 219.2V239.7M453.5 222.3V233.9M454.5 222.9V234.7M455.5 224.4V254.3M456.5 218.0V262.1M457.5 230.9V260.2M458.5 236.4V264.2M459.5 240.9V262.5M460.5 237.3V260.7M461.5 233.9V266.9M462.5 230.6V263.7M463.5 228.4V260.0M464.5 221.3V262.0M465.5 215.0V261.9M466.5 229.4V262.1M467.5 237.3V262.1M468.5 240.4V258.0M469.5 243.0V258.3M470.5 211.9V258.1M471.5 198.0V252.3M472.5 209.7V242.7M473.5 213.9V249.0M474.5 216.3V253.8M475.5 209.5V263.4M476.5 216.2V258.3M477.5 217.5V252.0M478.5 212.1V238.9M479.5 210.8V232.5M480.5 213.7V234.4M481.5 218.4V237.5M482.5 215.3V241.1M483.5 206.7V237.7M484.5 209.2V231.2M485.5 210.8V229.6M486.5 207.5V233.7M487.5 215.0V235.5M488.5 215.9V239.8M489.5 215.4V237.8M490.5 220.0V240.5M491.5 199.9V243.9M492.5 192.1V239.6M493.5 188.5V233.3M494.5 181.8V237.1M495.5 198.9V246.3M496.5 214.5V251.5M497.5 219.1V255.8M498.5 224.4V263.4M499.5 227.5V259.8M500.5 227.6V253.8M501.5 219.8V251.8M502.5 211.0V247.1M503.5 213.4V241.8M504.5 217.7V240.1M505.5 223.3V244.3M506.5 223.9V250.0M507.5 208.7V252.3M508.5 190.9V248.9M509.5 204.7V251.6M510.5 219.0V258.1M511.5 227.0V261.4M512.5 230.8V259.7M513.5 230.9V254.0M514.5 211.3V251.8M515.5 193.8V259.3M516.5 202.9V245.3M517.5 211.2V252.2M518.5 213.4V253.9M519.5 204.3V253.7M520.5 218.7V259.3M521.5 220.8V252.7M522.5 226.8V249.1M523.5 223.3V249.0M524.5 211.3V250.1M525.5 222.5V252.3M526.5 227.0V247.9M527.5 226.2V247.3M528.5 229.4V243.0" stroke="#4a78c8" stroke-width="2.0" stroke-dasharray="0.8 2.0"/>
<path d="M305.5 256.8V292.0M306.5 255.3V290.6M307.5 253.3V282.6M308.5 251.7V279.9M309.5 250.2V273.9M310.5 249.8V269.6M311.5 246.2V264.9M312.5 251.5V265.6M313.5 251.4V268.7M314.5 248.8V271.5M315.5 237.1V275.6M316.5 248.8V277.3M317.5 259.7V277.2M318.5 261.6V278.2M319.5 264.3V281.5M320.5 256.0V281.9M321.5 264.3V284.3M322.5 265.4V282.7M323.5 260.6V281.7M324.5 255.2V277.7M325.5 259.4V285.0M326.5 263.6V277.6M327.5 264.6V275.0M328.5 249.6V272.5M329.5 236.4V278.4M330.5 249.2V280.4M331.5 258.2V285.7M332.5 251.8V282.0M333.5 240.6V278.7M334.5 242.6V276.2M335.5 242.6V275.1M336.5 244.8V283.4M337.5 261.3V286.1M338.5 266.8V286.7M339.5 261.5V288.1M340.5 249.7V289.6M341.5 260.2V292.0M342.5 264.9V288.4M343.5 260.0V281.7M344.5 251.1V280.0M345.5 255.6V285.6M346.5 262.0V288.3M347.5 266.4V292.0M348.5 264.6V285.0M349.5 255.2V282.4M350.5 264.6V282.2M351.5 262.6V282.0M352.5 253.2V284.3M353.5 260.1V288.5M354.5 267.8V288.6M355.5 265.2V290.6M356.5 263.9V287.5M357.5 261.5V290.5M358.5 266.2V292.5M359.5 262.2V292.8M360.5 251.1V290.6M361.5 264.2V294.9M362.5 272.5V296.2M363.5 275.0V295.2M364.5 274.6V292.8M365.5 275.3V289.7M366.5 274.6V293.4M367.5 274.4V290.5M368.5 270.0V293.4M369.5 264.1V289.3M370.5 252.4V290.1M371.5 264.1V291.1M372.5 269.6V293.4M373.5 271.0V290.1M374.5 271.6V285.8M375.5 270.4V285.7M376.5 263.0V286.6M377.5 266.8V286.9M378.5 260.2V287.8M379.5 256.5V284.4M380.5 254.9V284.6M381.5 252.2V284.6M382.5 247.5V286.4M383.5 240.3V281.7M384.5 252.0V282.4M385.5 256.0V287.1M386.5 253.6V280.6M387.5 240.3V276.8M388.5 249.6V276.6M389.5 251.0V280.1M390.5 263.1V281.5M391.5 262.2V283.6M392.5 261.7V279.3M393.5 261.8V279.7M394.5 261.5V280.1M395.5 258.2V285.7M396.5 248.0V278.2M397.5 258.2V273.9M398.5 259.0V273.2M399.5 260.8V292.7M400.5 254.2V287.1M401.5 244.5V274.9M402.5 254.2V279.4M403.5 254.6V273.6M404.5 255.6V279.4M405.5 237.2V273.0M406.5 221.5V266.8M407.5 237.2V264.3M408.5 246.0V269.2M409.5 258.7V272.0M410.5 259.0V275.3M411.5 254.1V267.6M412.5 244.5V264.8M413.5 236.2V262.2M414.5 244.5V263.5M415.5 246.5V264.1M416.5 245.5V264.1M417.5 237.6V267.4M418.5 247.4V271.7M419.5 246.3V274.5M420.5 232.8V269.7M421.5 216.6V264.6M422.5 231.3V261.3M423.5 236.2V273.4M424.5 231.7V253.0M425.5 229.1V253.5M426.5 217.3V259.9M427.5 229.4V248.2M428.5 230.0V246.3M429.5 232.8V249.6M430.5 223.6V253.7M431.5 226.8V258.5M432.5 218.5V252.0M433.5 208.3V245.3M434.5 217.7V236.0M435.5 202.3V229.8M436.5 188.7V226.8M437.5 191.2V232.0M438.5 194.2V239.5M439.5 205.2V246.6M440.5 202.1V240.2M441.5 185.9V234.3M442.5 196.4V229.7M443.5 199.3V236.3M444.5 211.4V243.6M445.5 216.4V249.8M446.5 199.9V255.7M447.5 205.4V253.5M448.5 218.7V255.0M449.5 224.6V257.1M450.5 220.9V251.4M451.5 211.0V245.0M452.5 219.3V238.9M453.5 222.4V233.1M454.5 223.8V233.9M455.5 225.3V253.5M456.5 218.0V261.3M457.5 230.9V259.4M458.5 236.4V263.4M459.5 240.9V261.7M460.5 238.6V259.9M461.5 235.0V266.1M462.5 231.3V262.9M463.5 228.2V259.2M464.5 221.7V261.2M465.5 215.2V261.1M466.5 229.0V261.3M467.5 238.0V261.3M468.5 240.7V257.2M469.5 242.7V257.5M470.5 213.3V257.3M471.5 197.8V251.5M472.5 209.7V241.9M473.5 214.4V248.2M474.5 216.5V253.0M475.5 209.7V262.6M476.5 216.3V257.5M477.5 217.9V251.2M478.5 213.5V238.1M479.5 211.0V231.7M480.5 213.9V233.6M481.5 219.1V236.7M482.5 215.7V240.3M483.5 207.5V236.9M484.5 210.2V230.4M485.5 210.8V228.8M486.5 208.3V232.9M487.5 215.4V234.7M488.5 216.7V239.0M489.5 215.2V237.0M490.5 220.3V239.7M491.5 200.7V243.1M492.5 191.9V238.8M493.5 189.4V232.5M494.5 181.7V236.3M495.5 198.7V245.5M496.5 215.4V250.7M497.5 220.5V255.0M498.5 225.8V262.6M499.5 227.2V259.0M500.5 227.3V253.0M501.5 221.1V251.0M502.5 211.7V246.3M503.5 214.0V241.0M504.5 218.7V239.3M505.5 223.7V243.5M506.5 224.6V249.2M507.5 208.4V251.5M508.5 190.8V248.1M509.5 206.1V250.8M510.5 219.8V257.3M511.5 227.7V260.6M512.5 231.9V258.9M513.5 231.6V253.2M514.5 211.6V251.0M515.5 193.6V258.5M516.5 203.3V244.5M517.5 212.7V251.4M518.5 214.7V253.1M519.5 204.8V252.9M520.5 219.9V258.5M521.5 220.9V251.9M522.5 227.2V248.3M523.5 223.5V248.2M524.5 212.4V249.3M525.5 223.5V251.5M526.5 226.8V247.1M527.5 227.3V246.5M528.5 229.2V242.2" stroke="#0e0e14" stroke-width="1.0"/>
<path d="M305.0 256.9h1M305.0 274.8h1M306.0 275.5h1M306.0 259.6h1M306.0 259.1h1M306.0 255.9h1M307.0 268.7h1M308.0 277.5h1M308.0 268.2h1M311.0 246.0h1M311.0 259.9h1M312.0 265.2h1M313.0 267.0h1M313.0 266.1h1M313.0 251.6h1M313.0 261.0h1M314.0 268.1h1M314.0 266.2h1M314.0 259.4h1M315.0 236.7h1M315.0 275.2h1M315.0 245.7h1M315.0 255.8h1M315.0 255.2h1M315.0 239.2h1M316.0 252.2h1M316.0 267.1h1M316.0 263.1h1M318.0 261.2h1M318.0 278.7h1M318.0 269.5h1M319.0 281.5h1M319.0 267.5h1M319.0 271.2h1M320.0 255.0h1M320.0 262.1h1M320.0 281.1h1M321.0 285.3h1M321.0 282.1h1M321.0 267.8h1M321.0 268.3h1M321.0 264.6h1M323.0 264.4h1M323.0 273.2h1M324.0 260.7h1M325.0 259.3h1M325.0 286.1h1M326.0 268.4h1M327.0 275.6h1M328.0 259.8h1M328.0 261.1h1M328.0 261.5h1M329.0 279.3h1M329.0 271.6h1M329.0 243.1h1M329.0 236.5h1M329.0 258.5h1M330.0 259.7h1M330.0 255.1h1M330.0 253.3h1M330.0 265.9h1M331.0 257.5h1M331.0 275.8h1M331.0 262.8h1M332.0 251.3h1M332.0 256.0h1M332.0 259.1h1M333.0 279.7h1M333.0 268.4h1M333.0 269.9h1M333.0 273.6h1M333.0 243.9h1M334.0 265.7h1M334.0 244.2h1M335.0 242.0h1M335.0 274.9h1M335.0 247.4h1M335.0 270.8h1M335.0 261.5h1M335.0 268.7h1M336.0 270.6h1M336.0 281.5h1M336.0 250.9h1M337.0 262.2h1M337.0 274.7h1M337.0 283.4h1M337.0 277.2h1M338.0 266.8h1M338.0 284.8h1M338.0 273.5h1M339.0 288.8h1M339.0 287.6h1M339.0 273.1h1M340.0 266.6h1M341.0 260.3h1M341.0 271.7h1M341.0 280.8h1M342.0 263.9h1M342.0 276.3h1M342.0 265.9h1M342.0 286.0h1M343.0 280.0h1M344.0 251.3h1M344.0 279.8h1M344.0 266.2h1M344.0 266.4h1M345.0 274.2h1M345.0 273.6h1M345.0 270.3h1M346.0 278.7h1M347.0 284.9h1M349.0 254.5h1M349.0 272.5h1M349.0 274.5h1M349.0 281.6h1M351.0 261.8h1M351.0 282.5h1M352.0 270.4h1M352.0 260.9h1M353.0 279.6h1M354.0 267.3h1M354.0 277.0h1M355.0 267.2h1M355.0 268.2h1M356.0 263.8h1M356.0 280.0h1M356.0 266.4h1M356.0 265.8h1M356.0 281.6h1M357.0 275.4h1M357.0 283.4h1M357.0 279.9h1M358.0 286.0h1M358.0 291.5h1M358.0 286.0h1M358.0 270.5h1M359.0 293.2h1M359.0 282.0h1M359.0 283.6h1M360.0 251.5h1M360.0 262.8h1M360.0 282.1h1M360.0 286.6h1M361.0 268.8h1M361.0 278.3h1M361.0 268.3h1M362.0 277.3h1M362.0 279.3h1M362.0 275.4h1M363.0 295.6h1M363.0 279.7h1M363.0 286.0h1M364.0 287.4h1M364.0 291.9h1M364.0 284.4h1M364.0 289.6h1M366.0 273.5h1M366.0 294.3h1M366.0 276.5h1M366.0 281.3h1M367.0 275.7h1M368.0 269.7h1M368.0 287.5h1M368.0 274.7h1M369.0 264.4h1M369.0 290.2h1M369.0 271.5h1M369.0 285.4h1M369.0 264.7h1M370.0 287.0h1M370.0 253.9h1M370.0 266.2h1M370.0 275.1h1M371.0 292.1h1M371.0 280.6h1M372.0 274.9h1M372.0 292.9h1M372.0 282.1h1M372.0 274.0h1M374.0 278.6h1M375.0 279.6h1M376.0 267.4h1M377.0 280.9h1M378.0 260.6h1M378.0 265.6h1M378.0 261.1h1M379.0 279.3h1M380.0 273.3h1M381.0 259.2h1M381.0 263.6h1M381.0 257.8h1M382.0 246.9h1M382.0 270.4h1M382.0 265.7h1M383.0 262.0h1M384.0 251.1h1M384.0 269.3h1M384.0 264.7h1M384.0 279.7h1M385.0 255.9h1M385.0 276.8h1M385.0 263.0h1M386.0 257.9h1M386.0 275.6h1M387.0 242.2h1M387.0 261.7h1M388.0 265.2h1M388.0 262.0h1M388.0 272.5h1M389.0 250.6h1M389.0 258.0h1M390.0 282.6h1M390.0 271.5h1M390.0 269.2h1M391.0 284.4h1M391.0 269.9h1M392.0 276.9h1M393.0 262.2h1M393.0 263.1h1M394.0 264.6h1M394.0 276.1h1M395.0 284.9h1M395.0 282.4h1M396.0 274.0h1M396.0 252.5h1M396.0 248.1h1M397.0 275.1h1M398.0 258.5h1M398.0 261.4h1M398.0 271.5h1M398.0 267.0h1M400.0 266.4h1M401.0 263.8h1M401.0 262.5h1M402.0 278.8h1M403.0 273.5h1M403.0 258.8h1M404.0 255.8h1M404.0 273.8h1M405.0 241.4h1M405.0 240.8h1M405.0 239.9h1M405.0 254.0h1M405.0 243.0h1M405.0 261.6h1M406.0 244.3h1M406.0 254.4h1M406.0 253.7h1M406.0 252.2h1M406.0 252.1h1M406.0 221.9h1M406.0 229.7h1M407.0 240.8h1M407.0 240.9h1M407.0 253.5h1M408.0 245.1h1M408.0 246.2h1M409.0 257.6h1M409.0 266.0h1M409.0 266.2h1M412.0 263.2h1M413.0 249.2h1M413.0 241.4h1M414.0 243.6h1M414.0 251.1h1M414.0 256.7h1M415.0 264.0h1M415.0 249.1h1M415.0 257.3h1M416.0 244.9h1M416.0 257.0h1M416.0 262.6h1M417.0 239.7h1M417.0 250.7h1M418.0 247.1h1M418.0 269.6h1M418.0 266.0h1M419.0 270.8h1M420.0 242.5h1M420.0 234.7h1M420.0 256.6h1M421.0 251.7h1M421.0 263.7h1M421.0 219.1h1M421.0 251.5h1M422.0 261.5h1M422.0 257.0h1M423.0 273.7h1M423.0 242.8h1M423.0 258.2h1M423.0 265.9h1M423.0 262.7h1M424.0 232.1h1M424.0 241.0h1M424.0 244.5h1M424.0 251.1h1M425.0 228.9h1M425.0 244.4h1M425.0 246.1h1M426.0 251.8h1M426.0 232.7h1M426.0 254.5h1M426.0 235.7h1M426.0 257.4h1M426.0 227.4h1M426.0 223.1h1M426.0 222.6h1M427.0 229.1h1M427.0 249.2h1M428.0 231.9h1M428.0 243.6h1M429.0 239.4h1M429.0 239.0h1M430.0 253.9h1M430.0 245.0h1M430.0 227.4h1M430.0 237.1h1M430.0 233.6h1M431.0 258.6h1M431.0 236.7h1M431.0 251.2h1M431.0 257.6h1M431.0 252.1h1M431.0 255.8h1M432.0 233.8h1M433.0 208.1h1M433.0 243.9h1M433.0 223.3h1M433.0 214.3h1M434.0 236.5h1M435.0 211.8h1M436.0 226.5h1M436.0 216.7h1M436.0 212.5h1M437.0 213.1h1M437.0 193.5h1M437.0 202.7h1M437.0 205.2h1M438.0 220.0h1M438.0 220.9h1M438.0 224.4h1M438.0 228.4h1M439.0 227.8h1M439.0 229.2h1M439.0 235.8h1M439.0 211.0h1M440.0 206.4h1M440.0 238.8h1M441.0 205.5h1M441.0 227.8h1M441.0 188.4h1M442.0 229.0h1M442.0 196.6h1M442.0 204.3h1M442.0 223.1h1M442.0 212.0h1M443.0 198.2h1M443.0 231.7h1M443.0 207.7h1M443.0 215.2h1M444.0 230.4h1M445.0 216.3h1M445.0 250.4h1M445.0 243.2h1M445.0 242.3h1M445.0 246.7h1M446.0 220.1h1M446.0 235.9h1M446.0 245.2h1M446.0 242.6h1M446.0 215.7h1M446.0 254.2h1M446.0 236.7h1M447.0 222.9h1M447.0 238.2h1M447.0 229.4h1M447.0 220.1h1M447.0 234.4h1M447.0 246.3h1M447.0 230.4h1M448.0 223.0h1M448.0 234.3h1M448.0 227.2h1M448.0 225.0h1M449.0 235.6h1M449.0 238.6h1M449.0 226.8h1M450.0 220.7h1M450.0 232.6h1M451.0 213.4h1M452.0 229.8h1M452.0 224.9h1M453.0 222.5h1M454.0 234.4h1M454.0 229.0h1M454.0 229.5h1M455.0 249.5h1M455.0 239.5h1M455.0 238.5h1M455.0 252.6h1M456.0 233.8h1M456.0 237.7h1M456.0 221.5h1M456.0 260.0h1M457.0 259.4h1M457.0 241.9h1M457.0 256.5h1M458.0 252.5h1M458.0 248.9h1M458.0 237.6h1M459.0 240.6h1M459.0 253.8h1M460.0 237.4h1M461.0 234.8h1M461.0 244.5h1M461.0 252.3h1M461.0 254.9h1M462.0 239.1h1M462.0 250.4h1M462.0 247.9h1M463.0 227.1h1M463.0 243.3h1M463.0 230.8h1M463.0 254.2h1M464.0 260.8h1M464.0 252.0h1M464.0 229.8h1M464.0 239.6h1M464.0 236.5h1M465.0 244.7h1M465.0 242.6h1M466.0 259.7h1M466.0 253.4h1M467.0 258.1h1M467.0 253.2h1M468.0 254.0h1M469.0 254.9h1M470.0 222.8h1M470.0 238.0h1M470.0 253.9h1M471.0 235.4h1M471.0 242.7h1M471.0 229.3h1M471.0 198.4h1M471.0 198.1h1M471.0 221.2h1M472.0 211.6h1M472.0 230.5h1M472.0 228.8h1M472.0 225.0h1M473.0 228.5h1M473.0 238.7h1M474.0 216.0h1M474.0 230.4h1M474.0 226.9h1M474.0 245.3h1M474.0 241.0h1M475.0 208.9h1M475.0 216.2h1M475.0 252.4h1M475.0 229.0h1M475.0 256.8h1M475.0 258.5h1M475.0 234.0h1M475.0 221.6h1M476.0 215.3h1M476.0 255.4h1M477.0 224.4h1M477.0 226.1h1M478.0 238.2h1M478.0 235.0h1M478.0 214.6h1M478.0 232.6h1M479.0 231.5h1M479.0 213.3h1M480.0 216.8h1M480.0 232.5h1M481.0 233.5h1M482.0 215.0h1M482.0 219.7h1M482.0 239.4h1M482.0 230.6h1M482.0 220.1h1M483.0 207.6h1M483.0 237.4h1M483.0 228.3h1M483.0 227.8h1M484.0 213.4h1M484.0 226.8h1M484.0 227.6h1M484.0 225.5h1M485.0 210.7h1M485.0 228.7h1M485.0 221.3h1M485.0 225.1h1M485.0 226.4h1M486.0 233.9h1M486.0 208.4h1M486.0 232.3h1M486.0 218.3h1M486.0 221.3h1M487.0 214.5h1M487.0 219.4h1M488.0 219.0h1M488.0 223.6h1M488.0 220.1h1M489.0 233.4h1M489.0 227.7h1M490.0 232.1h1M491.0 229.7h1M491.0 234.5h1M491.0 241.4h1M491.0 240.4h1M492.0 221.8h1M492.0 198.0h1M492.0 232.0h1M492.0 220.0h1M493.0 194.2h1M493.0 221.4h1M493.0 198.8h1M494.0 185.0h1M494.0 191.0h1M494.0 217.5h1M495.0 198.5h1M495.0 209.3h1M495.0 222.1h1M495.0 204.7h1M495.0 202.4h1M495.0 219.0h1M496.0 247.3h1M496.0 217.1h1M496.0 248.2h1M497.0 249.3h1M497.0 235.1h1M497.0 229.7h1M498.0 253.7h1M498.0 231.8h1M498.0 254.6h1M499.0 248.2h1M499.0 241.8h1M499.0 230.4h1M499.0 246.5h1M500.0 235.5h1M500.0 233.4h1M501.0 221.2h1M501.0 242.8h1M502.0 212.0h1M502.0 234.5h1M502.0 213.0h1M502.0 239.5h1M503.0 242.2h1M503.0 217.0h1M504.0 239.5h1M504.0 227.3h1M504.0 230.3h1M504.0 222.8h1M505.0 232.5h1M505.0 232.2h1M506.0 249.9h1M506.0 246.5h1M506.0 234.7h1M506.0 244.9h1M506.0 248.6h1M507.0 245.9h1M507.0 245.5h1M507.0 212.1h1M507.0 212.1h1M507.0 229.0h1M507.0 215.9h1M508.0 208.8h1M508.0 210.3h1M508.0 221.8h1M508.0 203.6h1M508.0 199.0h1M509.0 250.9h1M509.0 226.7h1M509.0 211.4h1M509.0 236.0h1M509.0 235.4h1M510.0 252.6h1M510.0 222.0h1M510.0 223.6h1M510.0 234.5h1M511.0 230.0h1M511.0 252.6h1M512.0 231.4h1M512.0 255.9h1M513.0 230.7h1M513.0 235.7h1M514.0 212.1h1M514.0 213.3h1M514.0 221.9h1M515.0 192.9h1M515.0 259.7h1M515.0 232.9h1M515.0 214.3h1M515.0 254.6h1M515.0 235.5h1M515.0 257.5h1M515.0 230.1h1M515.0 246.4h1M515.0 223.9h1M516.0 203.5h1M516.0 203.8h1M516.0 240.2h1M516.0 216.6h1M516.0 240.9h1M516.0 223.6h1M517.0 251.6h1M517.0 245.1h1M518.0 253.1h1M518.0 245.7h1M519.0 205.1h1M519.0 245.3h1M519.0 248.9h1M519.0 214.8h1M519.0 237.3h1M519.0 250.8h1M519.0 248.2h1M520.0 256.1h1M521.0 220.0h1M521.0 222.8h1M521.0 224.7h1M521.0 238.6h1M522.0 227.2h1M522.0 241.7h1M522.0 234.1h1M523.0 223.5h1M523.0 228.0h1M524.0 247.4h1M525.0 222.4h1M525.0 224.9h1M525.0 249.3h1M525.0 244.9h1M525.0 244.4h1M525.0 244.7h1M526.0 227.0h1M526.0 246.6h1M527.0 227.3h1M527.0 244.2h1M528.0 228.8h1" stroke="#4a78c8" stroke-width="0.9"/>
<path d="M305.5 257.8V259.5M306.5 256.3V259.5M307.5 254.6V259.5M308.5 253.2V259.5M309.5 252.1V259.5M310.5 251.8V259.5M311.5 248.8V259.5M312.5 253.1V259.5M313.5 253.0V259.5M314.5 250.9V259.5M315.5 247.7V259.5M316.5 250.9V259.5M320.5 257.0V259.5M324.5 256.2V259.5M328.5 251.6V259.5M329.5 247.7V259.5M330.5 251.3V259.5M331.5 259.2V259.5M332.5 253.3V259.5M333.5 247.7V259.5M334.5 247.7V259.5M335.5 247.7V259.5M336.5 247.7V259.5M340.5 251.6V259.5M344.5 252.7V259.5M345.5 256.6V259.5M349.5 256.2V259.5M352.5 254.4V259.5M360.5 252.7V259.5M370.5 253.9V259.5M379.5 257.5V259.5M380.5 255.9V259.5M381.5 253.7V259.5M382.5 249.9V259.5M383.5 247.7V259.5M384.5 253.5V259.5M385.5 257.0V259.5M386.5 254.8V259.5M387.5 247.7V259.5M388.5 251.6V259.5M389.5 252.7V259.5M395.5 259.2V259.5M396.5 250.3V259.5M397.5 259.2V259.5M400.5 255.2V259.5M401.5 247.7V259.5M402.5 255.2V259.5M403.5 255.6V259.5M404.5 256.6V259.5M405.5 247.7V259.5M406.5 247.7V259.5M407.5 247.7V259.5M408.5 248.7V259.5M411.5 255.2V259.5M412.5 247.7V259.5M413.5 247.7V259.5M414.5 247.7V259.5M415.5 249.1V259.5M416.5 248.3V259.5M417.5 247.7V259.5M418.5 249.8V259.5M419.5 249.0V259.5M420.5 247.7V259.5M421.5 247.7V259.5M422.5 247.7V259.5M423.5 249.2V264.7M424.5 249.2V252.5M425.5 249.2V252.9M426.5 249.2V258.3M430.5 249.2V253.0M431.5 249.2V257.1M432.5 249.2V251.5M445.5 249.2V249.7M446.5 249.2V254.7M447.5 249.2V252.8M448.5 249.2V254.1M449.5 249.2V255.9M450.5 249.2V251.1M455.5 249.2V252.9M456.5 249.2V259.4M457.5 249.2V257.8M458.5 249.2V261.2M459.5 249.2V259.9M460.5 249.2V258.3M461.5 249.2V263.6M462.5 249.2V260.8M463.5 249.2V257.7M464.5 249.2V259.4M465.5 249.2V259.3M466.5 249.2V259.4M467.5 249.2V259.4M468.5 249.2V256.0M469.5 249.2V256.2M470.5 249.2V256.1M471.5 249.2V251.1M474.5 249.2V252.4M475.5 249.2V260.6M476.5 249.2V256.3M477.5 249.2V250.9M496.5 249.2V250.5M497.5 249.2V254.1M498.5 249.2V260.6M499.5 249.2V257.5M500.5 249.2V252.5M501.5 249.2V250.8M507.5 249.2V251.2M509.5 249.2V250.5M510.5 249.2V256.1M511.5 249.2V258.9M512.5 249.2V257.5M513.5 249.2V252.6M514.5 249.2V250.7M515.5 249.2V257.1M517.5 249.2V251.0M518.5 249.2V252.5M519.5 249.2V252.3M520.5 249.2V257.1M521.5 249.2V251.5M525.5 249.2V251.2" stroke="#5fbdd7" stroke-width="1"/>
<path d="M304.5 259.5H422.9M422.9 249.2H529.0" stroke="#62bcd6" stroke-width="0.9" fill="none"/>
<rect x="305.0" y="296.6" width="1" height="1" fill="#4a78c8"/>
<rect x="305.0" y="290.4" width="1" height="1" fill="#4a78c8"/>
<rect x="305.1" y="293.5" width="1" height="1" fill="#4a78c8"/>
<rect x="368.8" y="236.9" width="1" height="1" fill="#0e0e14"/>
<rect x="368.8" y="245.1" width="1" height="1" fill="#4a78c8"/>
<rect x="369.0" y="249.7" width="1" height="1" fill="#0e0e14"/>
<rect x="369.0" y="252.8" width="1" height="1" fill="#0e0e14"/>
<rect x="360.0" y="250.3" width="1" height="1" fill="#4a78c8"/>
<rect x="360.0" y="253.3" width="1" height="1" fill="#4a78c8"/>
<rect x="340.3" y="249.2" width="1" height="1" fill="#0e0e14"/>
<rect x="422.8" y="275.7" width="1" height="1" fill="#4a78c8"/>
<rect x="422.8" y="279.3" width="1" height="1" fill="#4a78c8"/>
<rect x="422.8" y="282.0" width="1" height="1" fill="#4a78c8"/>
<rect x="431.7" y="259.5" width="1" height="1" fill="#4a78c8"/>
<rect x="461.6" y="269.5" width="1" height="1" fill="#4a78c8"/></g>
<g class="tk" style="font-size:5.85px">
<text x="290.35" y="273.44" text-anchor="end">5</text>
<text x="290.35" y="247.69" text-anchor="end">10</text>
<text x="290.35" y="221.94" text-anchor="end">15</text>
<text x="290.35" y="196.19" text-anchor="end">20</text>
<text x="335.73" y="312.19" text-anchor="middle">10,000</text>
<text x="367.66" y="312.19" text-anchor="middle">20,000</text>
<text x="399.59" y="312.19" text-anchor="middle">30,000</text>
<text x="431.52" y="312.19" text-anchor="middle">40,000</text>
<text x="463.45" y="312.19" text-anchor="middle">50,000</text>
<text x="495.38" y="312.19" text-anchor="middle">60,000</text>
<text x="527.31" y="312.19" text-anchor="middle">70,000</text>
<text x="416.85" y="318.49" text-anchor="middle">Item number (5min average)</text>
<text transform="translate(281.09,240.00) rotate(-90)" text-anchor="middle">ug/m3</text>
</g>
<text x="542.40" y="325.90" text-anchor="end" class="pl">(d)</text>
<rect x="285.0" y="135.6" width="0.7" height="2.2" fill="#b0b0b0"/>
</svg>
</body></html>
